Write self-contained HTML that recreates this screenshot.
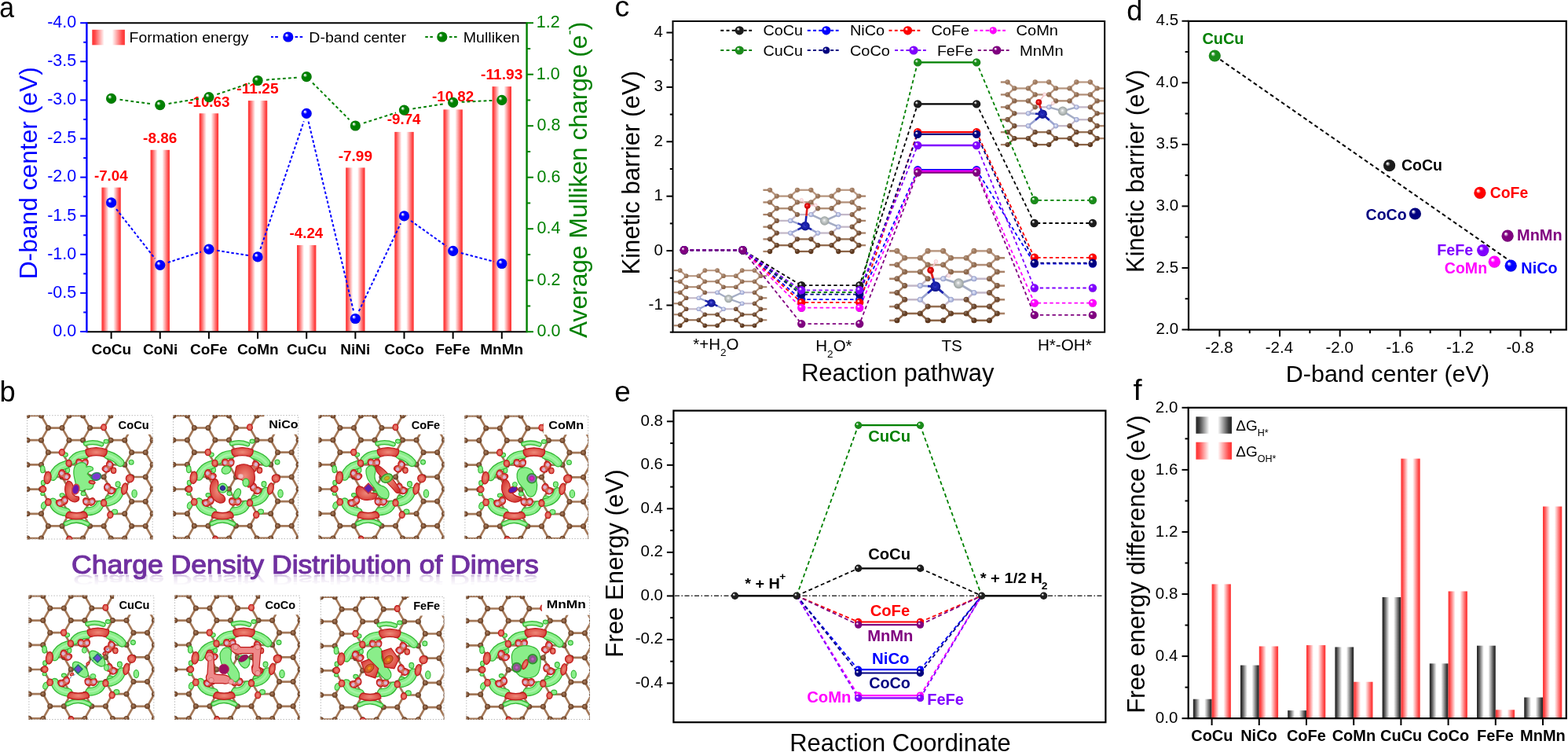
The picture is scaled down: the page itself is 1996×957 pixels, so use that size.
<!DOCTYPE html><html><head><meta charset="utf-8"><title>Figure</title><style>
html,body{margin:0;padding:0;background:#fff;overflow:hidden}
svg{display:block}
text{font-family:'Liberation Sans', Arial, sans-serif}
</style></head><body>
<svg width="1996" height="957" viewBox="0 0 1996 957">
<defs><linearGradient id="gred" x1="0" y1="0" x2="1" y2="0"><stop offset="0" stop-color="#ff3434"/><stop offset="0.08" stop-color="#ff4646"/><stop offset="0.37" stop-color="#ffffff"/><stop offset="0.61" stop-color="#ffffff"/><stop offset="0.92" stop-color="#ff4646"/><stop offset="1" stop-color="#ff3434"/></linearGradient><linearGradient id="gblk" x1="0" y1="0" x2="1" y2="0"><stop offset="0" stop-color="#262626"/><stop offset="0.08" stop-color="#383838"/><stop offset="0.37" stop-color="#ffffff"/><stop offset="0.61" stop-color="#ffffff"/><stop offset="0.92" stop-color="#383838"/><stop offset="1" stop-color="#262626"/></linearGradient><radialGradient id="sp0000ff" cx="0.5" cy="0.5" r="0.55" fx="0.32" fy="0.3"><stop offset="0" stop-color="#ffffff"/><stop offset="0.12" stop-color="#d8d8ff"/><stop offset="0.35" stop-color="#0000ff"/><stop offset="0.85" stop-color="#0000ff"/><stop offset="1" stop-color="#00008c"/></radialGradient><radialGradient id="sp008000" cx="0.5" cy="0.5" r="0.55" fx="0.32" fy="0.3"><stop offset="0" stop-color="#ffffff"/><stop offset="0.12" stop-color="#d8ebd8"/><stop offset="0.35" stop-color="#008000"/><stop offset="0.85" stop-color="#008000"/><stop offset="1" stop-color="#004600"/></radialGradient><radialGradient id="atC" cx="0.5" cy="0.5" r="0.5" fx="0.35" fy="0.32"><stop offset="0" stop-color="#b89478"/><stop offset="0.6" stop-color="#80573a"/><stop offset="1" stop-color="#5e3a22"/></radialGradient><radialGradient id="atN" cx="0.5" cy="0.5" r="0.5" fx="0.4" fy="0.4"><stop offset="0" stop-color="#eef0fa"/><stop offset="0.6" stop-color="#b7bfe2"/><stop offset="1" stop-color="#8e98c8"/></radialGradient><radialGradient id="atGr" cx="0.5" cy="0.5" r="0.5" fx="0.45" fy="0.42"><stop offset="0" stop-color="#ffffff"/><stop offset="0.3" stop-color="#cfd3d3"/><stop offset="1" stop-color="#98a09e"/></radialGradient><radialGradient id="atBl" cx="0.5" cy="0.5" r="0.5" fx="0.45" fy="0.42"><stop offset="0" stop-color="#6c74e0"/><stop offset="0.35" stop-color="#2228b8"/><stop offset="1" stop-color="#10168a"/></radialGradient><radialGradient id="atO" cx="0.5" cy="0.5" r="0.5" fx="0.4" fy="0.4"><stop offset="0" stop-color="#ff9090"/><stop offset="0.4" stop-color="#ee1010"/><stop offset="1" stop-color="#c00000"/></radialGradient><radialGradient id="sp1c1c1c" cx="0.5" cy="0.5" r="0.55" fx="0.32" fy="0.3"><stop offset="0" stop-color="#ffffff"/><stop offset="0.12" stop-color="#dcdcdc"/><stop offset="0.35" stop-color="#1c1c1c"/><stop offset="0.85" stop-color="#1c1c1c"/><stop offset="1" stop-color="#0f0f0f"/></radialGradient><radialGradient id="spff0000" cx="0.5" cy="0.5" r="0.55" fx="0.32" fy="0.3"><stop offset="0" stop-color="#ffffff"/><stop offset="0.12" stop-color="#ffd8d8"/><stop offset="0.35" stop-color="#ff0000"/><stop offset="0.85" stop-color="#ff0000"/><stop offset="1" stop-color="#8c0000"/></radialGradient><radialGradient id="spff00ff" cx="0.5" cy="0.5" r="0.55" fx="0.32" fy="0.3"><stop offset="0" stop-color="#ffffff"/><stop offset="0.12" stop-color="#ffd8ff"/><stop offset="0.35" stop-color="#ff00ff"/><stop offset="0.85" stop-color="#ff00ff"/><stop offset="1" stop-color="#8c008c"/></radialGradient><radialGradient id="sp1a8c1a" cx="0.5" cy="0.5" r="0.55" fx="0.32" fy="0.3"><stop offset="0" stop-color="#ffffff"/><stop offset="0.12" stop-color="#dceddc"/><stop offset="0.35" stop-color="#1a8c1a"/><stop offset="0.85" stop-color="#1a8c1a"/><stop offset="1" stop-color="#0e4d0e"/></radialGradient><radialGradient id="sp000080" cx="0.5" cy="0.5" r="0.55" fx="0.32" fy="0.3"><stop offset="0" stop-color="#ffffff"/><stop offset="0.12" stop-color="#d8d8eb"/><stop offset="0.35" stop-color="#000080"/><stop offset="0.85" stop-color="#000080"/><stop offset="1" stop-color="#000046"/></radialGradient><radialGradient id="sp8000ff" cx="0.5" cy="0.5" r="0.55" fx="0.32" fy="0.3"><stop offset="0" stop-color="#ffffff"/><stop offset="0.12" stop-color="#ebd8ff"/><stop offset="0.35" stop-color="#8000ff"/><stop offset="0.85" stop-color="#8000ff"/><stop offset="1" stop-color="#46008c"/></radialGradient><radialGradient id="sp800080" cx="0.5" cy="0.5" r="0.55" fx="0.32" fy="0.3"><stop offset="0" stop-color="#ffffff"/><stop offset="0.12" stop-color="#ebd8eb"/><stop offset="0.35" stop-color="#800080"/><stop offset="0.85" stop-color="#800080"/><stop offset="1" stop-color="#460046"/></radialGradient><radialGradient id="sp202020" cx="0.5" cy="0.5" r="0.55" fx="0.32" fy="0.3"><stop offset="0" stop-color="#ffffff"/><stop offset="0.12" stop-color="#dddddd"/><stop offset="0.35" stop-color="#202020"/><stop offset="0.85" stop-color="#202020"/><stop offset="1" stop-color="#111111"/></radialGradient><radialGradient id="redg" cx="0.5" cy="0.5" r="0.6"><stop offset="0" stop-color="#ee8a7a"/><stop offset="0.6" stop-color="#e05a50"/><stop offset="1" stop-color="#d03030"/></radialGradient><radialGradient id="atC2" cx="0.5" cy="0.5" r="0.5" fx="0.4" fy="0.38"><stop offset="0" stop-color="#b48a6a"/><stop offset="0.55" stop-color="#84573a"/><stop offset="1" stop-color="#623c22"/></radialGradient><clipPath id="clip_CoCu"><rect x="0" y="0" width="160.6" height="158.3"/></clipPath><clipPath id="clip_NiCo"><rect x="0" y="0" width="160" height="158"/></clipPath><clipPath id="clip_CoFe"><rect x="0" y="0" width="160" height="158"/></clipPath><clipPath id="clip_CoMn"><rect x="0" y="0" width="157.7" height="157.5"/></clipPath><clipPath id="clip_CuCu"><rect x="0" y="0" width="159.9" height="158.4"/></clipPath><clipPath id="clip_CoCo"><rect x="0" y="0" width="160" height="158.4"/></clipPath><clipPath id="clip_FeFe"><rect x="0" y="0" width="157.7" height="157.1"/></clipPath><clipPath id="clip_MnMn"><rect x="0" y="0" width="157.7" height="157.9"/></clipPath><linearGradient id="reflg" x1="0" y1="0" x2="0" y2="1"><stop offset="0" stop-color="#fff" stop-opacity="0.55"/><stop offset="1" stop-color="#fff" stop-opacity="1"/></linearGradient></defs>
<rect width="1996" height="957" fill="#fff"/>
<text x="-0.84" y="22.4" font-size="36" fill="#000" text-anchor="start" font-weight="normal" textLength="18.79" lengthAdjust="spacingAndGlyphs">a</text>
<rect x="129.4" y="238.6" width="24.4" height="183.6" fill="url(#gred)"/>
<rect x="191.55" y="190.8" width="24.4" height="231.4" fill="url(#gred)"/>
<rect x="253.7" y="144.3" width="24.4" height="277.9" fill="url(#gred)"/>
<rect x="315.85" y="128.1" width="24.4" height="294.1" fill="url(#gred)"/>
<rect x="378" y="312" width="24.4" height="110.2" fill="url(#gred)"/>
<rect x="440.15" y="213.4" width="24.4" height="208.8" fill="url(#gred)"/>
<rect x="502.3" y="167.9" width="24.4" height="254.3" fill="url(#gred)"/>
<rect x="564.45" y="139.4" width="24.4" height="282.8" fill="url(#gred)"/>
<rect x="626.6" y="110.1" width="24.4" height="312.1" fill="url(#gred)"/>
<line x1="110.4" y1="29.2" x2="670.6" y2="29.2" stroke="#000" stroke-width="2" stroke-linecap="butt"/>
<line x1="110.4" y1="422.2" x2="670.6" y2="422.2" stroke="#000" stroke-width="2" stroke-linecap="butt"/>
<line x1="110.4" y1="28.2" x2="110.4" y2="423.2" stroke="#0000ff" stroke-width="2.4" stroke-linecap="butt"/>
<line x1="670.6" y1="28.2" x2="670.6" y2="423.2" stroke="#008000" stroke-width="2.4" stroke-linecap="butt"/>
<line x1="102.2" y1="29.2" x2="110.4" y2="29.2" stroke="#0000ff" stroke-width="2" stroke-linecap="butt"/>
<text x="60.15" y="35" font-size="21.5" fill="#0000ff" text-anchor="start" font-weight="normal">-4.0</text>
<line x1="106.2" y1="53.75" x2="110.4" y2="53.75" stroke="#0000ff" stroke-width="2" stroke-linecap="butt"/>
<line x1="102.2" y1="78.3" x2="110.4" y2="78.3" stroke="#0000ff" stroke-width="2" stroke-linecap="butt"/>
<text x="60.15" y="84.1" font-size="21.5" fill="#0000ff" text-anchor="start" font-weight="normal">-3.5</text>
<line x1="106.2" y1="102.85" x2="110.4" y2="102.85" stroke="#0000ff" stroke-width="2" stroke-linecap="butt"/>
<line x1="102.2" y1="127.4" x2="110.4" y2="127.4" stroke="#0000ff" stroke-width="2" stroke-linecap="butt"/>
<text x="60.15" y="133.2" font-size="21.5" fill="#0000ff" text-anchor="start" font-weight="normal">-3.0</text>
<line x1="106.2" y1="151.95" x2="110.4" y2="151.95" stroke="#0000ff" stroke-width="2" stroke-linecap="butt"/>
<line x1="102.2" y1="176.5" x2="110.4" y2="176.5" stroke="#0000ff" stroke-width="2" stroke-linecap="butt"/>
<text x="60.15" y="182.3" font-size="21.5" fill="#0000ff" text-anchor="start" font-weight="normal">-2.5</text>
<line x1="106.2" y1="201.05" x2="110.4" y2="201.05" stroke="#0000ff" stroke-width="2" stroke-linecap="butt"/>
<line x1="102.2" y1="225.6" x2="110.4" y2="225.6" stroke="#0000ff" stroke-width="2" stroke-linecap="butt"/>
<text x="60.15" y="231.4" font-size="21.5" fill="#0000ff" text-anchor="start" font-weight="normal">-2.0</text>
<line x1="106.2" y1="250.15" x2="110.4" y2="250.15" stroke="#0000ff" stroke-width="2" stroke-linecap="butt"/>
<line x1="102.2" y1="274.7" x2="110.4" y2="274.7" stroke="#0000ff" stroke-width="2" stroke-linecap="butt"/>
<text x="60.15" y="280.5" font-size="21.5" fill="#0000ff" text-anchor="start" font-weight="normal">-1.5</text>
<line x1="106.2" y1="299.25" x2="110.4" y2="299.25" stroke="#0000ff" stroke-width="2" stroke-linecap="butt"/>
<line x1="102.2" y1="323.8" x2="110.4" y2="323.8" stroke="#0000ff" stroke-width="2" stroke-linecap="butt"/>
<text x="60.15" y="329.6" font-size="21.5" fill="#0000ff" text-anchor="start" font-weight="normal">-1.0</text>
<line x1="106.2" y1="348.35" x2="110.4" y2="348.35" stroke="#0000ff" stroke-width="2" stroke-linecap="butt"/>
<line x1="102.2" y1="372.9" x2="110.4" y2="372.9" stroke="#0000ff" stroke-width="2" stroke-linecap="butt"/>
<text x="60.15" y="378.7" font-size="21.5" fill="#0000ff" text-anchor="start" font-weight="normal">-0.5</text>
<line x1="106.2" y1="397.45" x2="110.4" y2="397.45" stroke="#0000ff" stroke-width="2" stroke-linecap="butt"/>
<line x1="102.2" y1="422" x2="110.4" y2="422" stroke="#0000ff" stroke-width="2" stroke-linecap="butt"/>
<text x="67.31" y="427.8" font-size="21.5" fill="#0000ff" text-anchor="start" font-weight="normal">0.0</text>
<line x1="670.6" y1="29.2" x2="679" y2="29.2" stroke="#008000" stroke-width="2" stroke-linecap="butt"/>
<text x="682.79" y="35.1" font-size="21.5" fill="#008000" text-anchor="start" font-weight="normal">1.2</text>
<line x1="670.6" y1="61.95" x2="675.2" y2="61.95" stroke="#008000" stroke-width="2" stroke-linecap="butt"/>
<line x1="670.6" y1="94.7" x2="679" y2="94.7" stroke="#008000" stroke-width="2" stroke-linecap="butt"/>
<text x="682.79" y="100.6" font-size="21.5" fill="#008000" text-anchor="start" font-weight="normal">1.0</text>
<line x1="670.6" y1="127.45" x2="675.2" y2="127.45" stroke="#008000" stroke-width="2" stroke-linecap="butt"/>
<line x1="670.6" y1="160.2" x2="679" y2="160.2" stroke="#008000" stroke-width="2" stroke-linecap="butt"/>
<text x="683.54" y="166.1" font-size="21.5" fill="#008000" text-anchor="start" font-weight="normal">0.8</text>
<line x1="670.6" y1="192.95" x2="675.2" y2="192.95" stroke="#008000" stroke-width="2" stroke-linecap="butt"/>
<line x1="670.6" y1="225.7" x2="679" y2="225.7" stroke="#008000" stroke-width="2" stroke-linecap="butt"/>
<text x="683.54" y="231.6" font-size="21.5" fill="#008000" text-anchor="start" font-weight="normal">0.6</text>
<line x1="670.6" y1="258.45" x2="675.2" y2="258.45" stroke="#008000" stroke-width="2" stroke-linecap="butt"/>
<line x1="670.6" y1="291.2" x2="679" y2="291.2" stroke="#008000" stroke-width="2" stroke-linecap="butt"/>
<text x="683.54" y="297.1" font-size="21.5" fill="#008000" text-anchor="start" font-weight="normal">0.4</text>
<line x1="670.6" y1="323.95" x2="675.2" y2="323.95" stroke="#008000" stroke-width="2" stroke-linecap="butt"/>
<line x1="670.6" y1="356.7" x2="679" y2="356.7" stroke="#008000" stroke-width="2" stroke-linecap="butt"/>
<text x="683.54" y="362.6" font-size="21.5" fill="#008000" text-anchor="start" font-weight="normal">0.2</text>
<line x1="670.6" y1="389.45" x2="675.2" y2="389.45" stroke="#008000" stroke-width="2" stroke-linecap="butt"/>
<line x1="670.6" y1="422.2" x2="679" y2="422.2" stroke="#008000" stroke-width="2" stroke-linecap="butt"/>
<text x="683.54" y="428.1" font-size="21.5" fill="#008000" text-anchor="start" font-weight="normal">0.0</text>
<line x1="141.6" y1="422.2" x2="141.6" y2="431.2" stroke="#000" stroke-width="2" stroke-linecap="butt"/>
<text x="116.52" y="450.8" font-size="19" fill="#000" text-anchor="start" font-weight="bold">CoCu</text>
<line x1="203.75" y1="422.2" x2="203.75" y2="431.2" stroke="#000" stroke-width="2" stroke-linecap="butt"/>
<text x="181.88" y="450.8" font-size="19" fill="#000" text-anchor="start" font-weight="bold">CoNi</text>
<line x1="265.9" y1="422.2" x2="265.9" y2="431.2" stroke="#000" stroke-width="2" stroke-linecap="butt"/>
<text x="242.08" y="450.8" font-size="19" fill="#000" text-anchor="start" font-weight="bold">CoFe</text>
<line x1="328.05" y1="422.2" x2="328.05" y2="431.2" stroke="#000" stroke-width="2" stroke-linecap="butt"/>
<text x="301.88" y="450.8" font-size="19" fill="#000" text-anchor="start" font-weight="bold">CoMn</text>
<line x1="390.2" y1="422.2" x2="390.2" y2="431.2" stroke="#000" stroke-width="2" stroke-linecap="butt"/>
<text x="365.12" y="450.8" font-size="19" fill="#000" text-anchor="start" font-weight="bold">CuCu</text>
<line x1="452.35" y1="422.2" x2="452.35" y2="431.2" stroke="#000" stroke-width="2" stroke-linecap="butt"/>
<text x="433.37" y="450.8" font-size="19" fill="#000" text-anchor="start" font-weight="bold">NiNi</text>
<line x1="514.5" y1="422.2" x2="514.5" y2="431.2" stroke="#000" stroke-width="2" stroke-linecap="butt"/>
<text x="489.16" y="450.8" font-size="19" fill="#000" text-anchor="start" font-weight="bold">CoCo</text>
<line x1="576.65" y1="422.2" x2="576.65" y2="431.2" stroke="#000" stroke-width="2" stroke-linecap="butt"/>
<text x="554.16" y="450.8" font-size="19" fill="#000" text-anchor="start" font-weight="bold">FeFe</text>
<line x1="638.8" y1="422.2" x2="638.8" y2="431.2" stroke="#000" stroke-width="2" stroke-linecap="butt"/>
<text x="611.3" y="450.8" font-size="19" fill="#000" text-anchor="start" font-weight="bold">MnMn</text>
<text x="119.95" y="229.8" font-size="18.5" fill="#ff0000" text-anchor="start" font-weight="bold" textLength="42.68" lengthAdjust="spacingAndGlyphs">-7.04</text>
<text x="182.09" y="182.2" font-size="18.5" fill="#ff0000" text-anchor="start" font-weight="bold" textLength="43.26" lengthAdjust="spacingAndGlyphs">-8.86</text>
<text x="239.2" y="135.6" font-size="18.5" fill="#ff0000" text-anchor="start" font-weight="bold" textLength="53.32" lengthAdjust="spacingAndGlyphs">-10.63</text>
<text x="301.33" y="119.1" font-size="18.5" fill="#ff0000" text-anchor="start" font-weight="bold" textLength="53.2" lengthAdjust="spacingAndGlyphs">-11.25</text>
<text x="368.55" y="302.9" font-size="18.5" fill="#ff0000" text-anchor="start" font-weight="bold" textLength="42.68" lengthAdjust="spacingAndGlyphs">-4.24</text>
<text x="430.69" y="204.8" font-size="18.5" fill="#ff0000" text-anchor="start" font-weight="bold" textLength="43.26" lengthAdjust="spacingAndGlyphs">-7.99</text>
<text x="492.85" y="158.2" font-size="18.5" fill="#ff0000" text-anchor="start" font-weight="bold" textLength="42.68" lengthAdjust="spacingAndGlyphs">-9.74</text>
<text x="549.95" y="128.8" font-size="18.5" fill="#ff0000" text-anchor="start" font-weight="bold" textLength="53.37" lengthAdjust="spacingAndGlyphs">-10.82</text>
<text x="612.08" y="101" font-size="18.5" fill="#ff0000" text-anchor="start" font-weight="bold" textLength="53.35" lengthAdjust="spacingAndGlyphs">-11.93</text>
<line x1="148.07" y1="266.17" x2="197.28" y2="329.03" stroke="#0000ff" stroke-width="2" stroke-linecap="butt" stroke-dasharray="3.5 2.6"/>
<line x1="213.74" y1="334.07" x2="255.91" y2="320.43" stroke="#0000ff" stroke-width="2" stroke-linecap="butt" stroke-dasharray="3.5 2.6"/>
<line x1="276.27" y1="318.82" x2="317.68" y2="325.28" stroke="#0000ff" stroke-width="2" stroke-linecap="butt" stroke-dasharray="3.5 2.6"/>
<line x1="331.43" y1="316.96" x2="386.82" y2="154.34" stroke="#0000ff" stroke-width="2" stroke-linecap="butt" stroke-dasharray="3.5 2.6"/>
<line x1="392.63" y1="154.61" x2="449.92" y2="395.29" stroke="#0000ff" stroke-width="2" stroke-linecap="butt" stroke-dasharray="3.5 2.6"/>
<line x1="456.86" y1="396.02" x2="509.99" y2="284.38" stroke="#0000ff" stroke-width="2" stroke-linecap="butt" stroke-dasharray="3.5 2.6"/>
<line x1="523.04" y1="281" x2="568.11" y2="313.2" stroke="#0000ff" stroke-width="2" stroke-linecap="butt" stroke-dasharray="3.5 2.6"/>
<line x1="586.81" y1="321.95" x2="628.64" y2="332.85" stroke="#0000ff" stroke-width="2" stroke-linecap="butt" stroke-dasharray="3.5 2.6"/>
<line x1="152.5" y1="126.86" x2="192.85" y2="132.24" stroke="#008000" stroke-width="2" stroke-linecap="butt" stroke-dasharray="3.8 3.2"/>
<line x1="214.61" y1="131.94" x2="255.04" y2="125.36" stroke="#008000" stroke-width="2" stroke-linecap="butt" stroke-dasharray="3.8 3.2"/>
<line x1="276.32" y1="120.06" x2="317.63" y2="106.04" stroke="#008000" stroke-width="2" stroke-linecap="butt" stroke-dasharray="3.8 3.2"/>
<line x1="339.02" y1="101.65" x2="379.23" y2="98.55" stroke="#008000" stroke-width="2" stroke-linecap="butt" stroke-dasharray="3.8 3.2"/>
<line x1="397.97" y1="105.49" x2="444.58" y2="152.21" stroke="#008000" stroke-width="2" stroke-linecap="butt" stroke-dasharray="3.8 3.2"/>
<line x1="462.83" y1="156.65" x2="504.02" y2="143.45" stroke="#008000" stroke-width="2" stroke-linecap="butt" stroke-dasharray="3.8 3.2"/>
<line x1="525.37" y1="138.4" x2="565.78" y2="132.1" stroke="#008000" stroke-width="2" stroke-linecap="butt" stroke-dasharray="3.8 3.2"/>
<line x1="587.64" y1="129.85" x2="627.81" y2="127.85" stroke="#008000" stroke-width="2" stroke-linecap="butt" stroke-dasharray="3.8 3.2"/>
<circle cx="141.6" cy="257.9" r="6.6" fill="url(#sp0000ff)"/>
<circle cx="203.75" cy="337.3" r="6.6" fill="url(#sp0000ff)"/>
<circle cx="265.9" cy="317.2" r="6.6" fill="url(#sp0000ff)"/>
<circle cx="328.05" cy="326.9" r="6.6" fill="url(#sp0000ff)"/>
<circle cx="390.2" cy="144.4" r="6.6" fill="url(#sp0000ff)"/>
<circle cx="452.35" cy="405.5" r="6.6" fill="url(#sp0000ff)"/>
<circle cx="514.5" cy="274.9" r="6.6" fill="url(#sp0000ff)"/>
<circle cx="576.65" cy="319.3" r="6.6" fill="url(#sp0000ff)"/>
<circle cx="638.8" cy="335.5" r="6.6" fill="url(#sp0000ff)"/>
<circle cx="141.6" cy="125.4" r="6.6" fill="url(#sp008000)"/>
<circle cx="203.75" cy="133.7" r="6.6" fill="url(#sp008000)"/>
<circle cx="265.9" cy="123.6" r="6.6" fill="url(#sp008000)"/>
<circle cx="328.05" cy="102.5" r="6.6" fill="url(#sp008000)"/>
<circle cx="390.2" cy="97.7" r="6.6" fill="url(#sp008000)"/>
<circle cx="452.35" cy="160" r="6.6" fill="url(#sp008000)"/>
<circle cx="514.5" cy="140.1" r="6.6" fill="url(#sp008000)"/>
<circle cx="576.65" cy="130.4" r="6.6" fill="url(#sp008000)"/>
<circle cx="638.8" cy="127.3" r="6.6" fill="url(#sp008000)"/>
<text transform="translate(46.9 355.32) rotate(-90)" x="0" y="0" font-size="32" fill="#0000ff" text-anchor="start" font-weight="normal" textLength="270.08" lengthAdjust="spacingAndGlyphs">D-band center (eV)</text>
<text transform="translate(746.6 429.98) rotate(-90)" x="0" y="0" font-size="32" fill="#008000" text-anchor="start" font-weight="normal" textLength="402.31" lengthAdjust="spacingAndGlyphs">Average Mulliken charge (e<tspan dy="-16" font-size="19">-</tspan><tspan dy="16">)</tspan></text>
<rect x="117.3" y="37.8" width="41.6" height="19.5" fill="url(#gred)"/>
<text x="164.6" y="54" font-size="18.7" fill="#000" text-anchor="start" font-weight="normal" textLength="151.84" lengthAdjust="spacingAndGlyphs">Formation energy</text>
<line x1="345" y1="47" x2="347.9" y2="47" stroke="#0000ff" stroke-width="2" stroke-linecap="butt"/>
<line x1="350.2" y1="47" x2="353.9" y2="47" stroke="#0000ff" stroke-width="2" stroke-linecap="butt"/>
<line x1="375.6" y1="47" x2="379.1" y2="47" stroke="#0000ff" stroke-width="2" stroke-linecap="butt"/>
<line x1="381.7" y1="47" x2="385.2" y2="47" stroke="#0000ff" stroke-width="2" stroke-linecap="butt"/>
<circle cx="366.8" cy="47" r="6.6" fill="url(#sp0000ff)"/>
<text x="393.29" y="53.6" font-size="18.7" fill="#000" text-anchor="start" font-weight="normal" textLength="123.7" lengthAdjust="spacingAndGlyphs">D-band center</text>
<line x1="541.3" y1="47" x2="544.8" y2="47" stroke="#008000" stroke-width="2" stroke-linecap="butt"/>
<line x1="547.4" y1="47" x2="550.9" y2="47" stroke="#008000" stroke-width="2" stroke-linecap="butt"/>
<line x1="572" y1="47" x2="575.5" y2="47" stroke="#008000" stroke-width="2" stroke-linecap="butt"/>
<line x1="578.1" y1="47" x2="581.6" y2="47" stroke="#008000" stroke-width="2" stroke-linecap="butt"/>
<circle cx="562.8" cy="47" r="6.6" fill="url(#sp008000)"/>
<text x="589.68" y="53.6" font-size="18.7" fill="#000" text-anchor="start" font-weight="normal" textLength="72.06" lengthAdjust="spacingAndGlyphs">Mulliken</text>
<text x="782.41" y="20.5" font-size="36" fill="#000" text-anchor="start" font-weight="normal" textLength="18.72" lengthAdjust="spacingAndGlyphs">c</text>
<g><line x1="857.8" y1="344.2" x2="865.7" y2="344.2" stroke="#a98369" stroke-width="2.05"/><line x1="968.4" y1="351.21" x2="976.3" y2="351.21" stroke="#a98369" stroke-width="2.05"/><line x1="857.8" y1="358.22" x2="865.7" y2="358.22" stroke="#a98369" stroke-width="2.05"/><line x1="968.4" y1="365.23" x2="976.3" y2="365.23" stroke="#a98369" stroke-width="2.05"/><line x1="857.8" y1="372.24" x2="865.7" y2="372.24" stroke="#a98369" stroke-width="2.05"/><line x1="968.4" y1="379.25" x2="976.3" y2="379.25" stroke="#a98369" stroke-width="2.05"/><line x1="857.8" y1="386.26" x2="865.7" y2="386.26" stroke="#a98369" stroke-width="2.05"/><line x1="968.4" y1="393.27" x2="976.3" y2="393.27" stroke="#a98369" stroke-width="2.05"/><line x1="857.8" y1="400.28" x2="865.7" y2="400.28" stroke="#a98369" stroke-width="2.05"/><line x1="968.4" y1="407.29" x2="976.3" y2="407.29" stroke="#a98369" stroke-width="2.05"/><line x1="857.8" y1="414.3" x2="865.7" y2="414.3" stroke="#a98369" stroke-width="2.05"/><line x1="897.3" y1="344.2" x2="913.1" y2="344.2" stroke="#bb9a84" stroke-width="2.05"/><line x1="944.7" y1="344.2" x2="960.5" y2="344.2" stroke="#bb9a84" stroke-width="2.05"/><line x1="865.7" y1="344.2" x2="873.6" y2="351.21" stroke="#b99781" stroke-width="2.05"/><line x1="897.3" y1="344.2" x2="889.4" y2="351.21" stroke="#b99781" stroke-width="2.05"/><line x1="913.1" y1="344.2" x2="921" y2="351.21" stroke="#b99781" stroke-width="2.05"/><line x1="944.7" y1="344.2" x2="936.8" y2="351.21" stroke="#b99781" stroke-width="2.05"/><line x1="960.5" y1="344.2" x2="968.4" y2="351.21" stroke="#b99781" stroke-width="2.05"/><line x1="873.6" y1="351.21" x2="889.4" y2="351.21" stroke="#b6957e" stroke-width="2.05"/><line x1="921" y1="351.21" x2="936.8" y2="351.21" stroke="#b6957e" stroke-width="2.05"/><line x1="873.6" y1="351.21" x2="865.7" y2="358.22" stroke="#b4927b" stroke-width="2.05"/><line x1="889.4" y1="351.21" x2="897.3" y2="358.22" stroke="#b4927b" stroke-width="2.05"/><line x1="921" y1="351.21" x2="913.1" y2="358.22" stroke="#b4927b" stroke-width="2.05"/><line x1="936.8" y1="351.21" x2="944.7" y2="358.22" stroke="#b4927b" stroke-width="2.05"/><line x1="968.4" y1="351.21" x2="960.5" y2="358.22" stroke="#b4927b" stroke-width="2.05"/><line x1="897.3" y1="358.22" x2="913.1" y2="358.22" stroke="#b28f78" stroke-width="2.05"/><line x1="944.7" y1="358.22" x2="960.5" y2="358.22" stroke="#b28f78" stroke-width="2.05"/><line x1="865.7" y1="358.22" x2="873.6" y2="365.23" stroke="#af8c74" stroke-width="2.05"/><line x1="897.3" y1="358.22" x2="889.4" y2="365.23" stroke="#af8c74" stroke-width="2.05"/><line x1="913.1" y1="358.22" x2="921" y2="365.23" stroke="#af8c74" stroke-width="2.05"/><line x1="944.7" y1="358.22" x2="936.8" y2="365.23" stroke="#af8c74" stroke-width="2.05"/><line x1="960.5" y1="358.22" x2="968.4" y2="365.23" stroke="#af8c74" stroke-width="2.05"/><line x1="873.6" y1="365.23" x2="889.4" y2="365.23" stroke="#ad8a71" stroke-width="2.05"/><line x1="921" y1="365.23" x2="936.8" y2="365.23" stroke="#ad8a71" stroke-width="2.05"/><line x1="873.6" y1="365.23" x2="865.7" y2="372.24" stroke="#ab876e" stroke-width="2.05"/><line x1="889.4" y1="365.23" x2="897.3" y2="372.24" stroke="#ab876e" stroke-width="2.05"/><line x1="921" y1="365.23" x2="913.1" y2="372.24" stroke="#c3b8c8" stroke-width="2.05"/><line x1="936.8" y1="365.23" x2="944.7" y2="372.24" stroke="#c3b8c8" stroke-width="2.05"/><line x1="968.4" y1="365.23" x2="960.5" y2="372.24" stroke="#ab876e" stroke-width="2.05"/><line x1="897.3" y1="372.24" x2="913.1" y2="372.24" stroke="#c3b8c8" stroke-width="2.05"/><line x1="944.7" y1="372.24" x2="960.5" y2="372.24" stroke="#c3b8c8" stroke-width="2.05"/><line x1="865.7" y1="372.24" x2="873.6" y2="379.25" stroke="#a68268" stroke-width="2.05"/><line x1="897.3" y1="372.24" x2="889.4" y2="379.25" stroke="#c3b8c8" stroke-width="2.05"/><line x1="960.5" y1="372.24" x2="968.4" y2="379.25" stroke="#a68268" stroke-width="2.05"/><line x1="873.6" y1="379.25" x2="889.4" y2="379.25" stroke="#c3b8c8" stroke-width="2.05"/><line x1="873.6" y1="379.25" x2="865.7" y2="386.26" stroke="#a17c62" stroke-width="2.05"/><line x1="968.4" y1="379.25" x2="960.5" y2="386.26" stroke="#a17c62" stroke-width="2.05"/><line x1="944.7" y1="386.26" x2="960.5" y2="386.26" stroke="#c3b8c8" stroke-width="2.05"/><line x1="865.7" y1="386.26" x2="873.6" y2="393.27" stroke="#9c775c" stroke-width="2.05"/><line x1="944.7" y1="386.26" x2="936.8" y2="393.27" stroke="#c3b8c8" stroke-width="2.05"/><line x1="960.5" y1="386.26" x2="968.4" y2="393.27" stroke="#9c775c" stroke-width="2.05"/><line x1="873.6" y1="393.27" x2="889.4" y2="393.27" stroke="#c3b8c8" stroke-width="2.05"/><line x1="921" y1="393.27" x2="936.8" y2="393.27" stroke="#c3b8c8" stroke-width="2.05"/><line x1="873.6" y1="393.27" x2="865.7" y2="400.28" stroke="#987256" stroke-width="2.05"/><line x1="889.4" y1="393.27" x2="897.3" y2="400.28" stroke="#c3b8c8" stroke-width="2.05"/><line x1="921" y1="393.27" x2="913.1" y2="400.28" stroke="#c3b8c8" stroke-width="2.05"/><line x1="936.8" y1="393.27" x2="944.7" y2="400.28" stroke="#987256" stroke-width="2.05"/><line x1="968.4" y1="393.27" x2="960.5" y2="400.28" stroke="#987256" stroke-width="2.05"/><line x1="897.3" y1="400.28" x2="913.1" y2="400.28" stroke="#956f52" stroke-width="2.05"/><line x1="944.7" y1="400.28" x2="960.5" y2="400.28" stroke="#956f52" stroke-width="2.05"/><line x1="865.7" y1="400.28" x2="873.6" y2="407.29" stroke="#936c4f" stroke-width="2.05"/><line x1="897.3" y1="400.28" x2="889.4" y2="407.29" stroke="#936c4f" stroke-width="2.05"/><line x1="913.1" y1="400.28" x2="921" y2="407.29" stroke="#936c4f" stroke-width="2.05"/><line x1="944.7" y1="400.28" x2="936.8" y2="407.29" stroke="#936c4f" stroke-width="2.05"/><line x1="960.5" y1="400.28" x2="968.4" y2="407.29" stroke="#936c4f" stroke-width="2.05"/><line x1="873.6" y1="407.29" x2="889.4" y2="407.29" stroke="#91694c" stroke-width="2.05"/><line x1="921" y1="407.29" x2="936.8" y2="407.29" stroke="#91694c" stroke-width="2.05"/><line x1="873.6" y1="407.29" x2="865.7" y2="414.3" stroke="#8e6749" stroke-width="2.05"/><line x1="889.4" y1="407.29" x2="897.3" y2="414.3" stroke="#8e6749" stroke-width="2.05"/><line x1="921" y1="407.29" x2="913.1" y2="414.3" stroke="#8e6749" stroke-width="2.05"/><line x1="936.8" y1="407.29" x2="944.7" y2="414.3" stroke="#8e6749" stroke-width="2.05"/><line x1="968.4" y1="407.29" x2="960.5" y2="414.3" stroke="#8e6749" stroke-width="2.05"/><line x1="897.3" y1="414.3" x2="913.1" y2="414.3" stroke="#8c6446" stroke-width="2.05"/><line x1="944.7" y1="414.3" x2="960.5" y2="414.3" stroke="#8c6446" stroke-width="2.05"/><line x1="905.6" y1="385.6" x2="889.4" y2="379.25" stroke="#9aa3cf" stroke-width="2.26"/><line x1="905.6" y1="385.6" x2="897.5" y2="382.43" stroke="#1a22b0" stroke-width="2.26"/><line x1="905.6" y1="385.6" x2="889.4" y2="393.27" stroke="#9aa3cf" stroke-width="2.26"/><line x1="905.6" y1="385.6" x2="897.5" y2="389.44" stroke="#1a22b0" stroke-width="2.26"/><line x1="905.6" y1="385.6" x2="921" y2="393.27" stroke="#9aa3cf" stroke-width="2.26"/><line x1="905.6" y1="385.6" x2="913.3" y2="389.44" stroke="#1a22b0" stroke-width="2.26"/><line x1="927.4" y1="380.1" x2="913.1" y2="372.24" stroke="#a4acc4" stroke-width="2.26"/><line x1="927.4" y1="380.1" x2="944.7" y2="372.24" stroke="#a4acc4" stroke-width="2.26"/><line x1="927.4" y1="380.1" x2="944.7" y2="386.26" stroke="#a4acc4" stroke-width="2.26"/><circle cx="865.7" cy="344.2" r="2.84" fill="#a07a5e"/><circle cx="864.85" cy="343.35" r="1.28" fill="#fff" opacity="0.22"/><circle cx="897.3" cy="344.2" r="2.84" fill="#a07a5e"/><circle cx="896.45" cy="343.35" r="1.28" fill="#fff" opacity="0.22"/><circle cx="913.1" cy="344.2" r="2.84" fill="#a07a5e"/><circle cx="912.25" cy="343.35" r="1.28" fill="#fff" opacity="0.22"/><circle cx="944.7" cy="344.2" r="2.84" fill="#a07a5e"/><circle cx="943.85" cy="343.35" r="1.28" fill="#fff" opacity="0.22"/><circle cx="960.5" cy="344.2" r="2.84" fill="#a07a5e"/><circle cx="959.65" cy="343.35" r="1.28" fill="#fff" opacity="0.22"/><circle cx="873.6" cy="351.21" r="2.84" fill="#997458"/><circle cx="872.75" cy="350.36" r="1.28" fill="#fff" opacity="0.22"/><circle cx="889.4" cy="351.21" r="2.84" fill="#997458"/><circle cx="888.55" cy="350.36" r="1.28" fill="#fff" opacity="0.22"/><circle cx="921" cy="351.21" r="2.84" fill="#997458"/><circle cx="920.15" cy="350.36" r="1.28" fill="#fff" opacity="0.22"/><circle cx="936.8" cy="351.21" r="2.84" fill="#997458"/><circle cx="935.95" cy="350.36" r="1.28" fill="#fff" opacity="0.22"/><circle cx="968.4" cy="351.21" r="2.84" fill="#997458"/><circle cx="967.55" cy="350.36" r="1.28" fill="#fff" opacity="0.22"/><circle cx="865.7" cy="358.22" r="2.84" fill="#936d51"/><circle cx="864.85" cy="357.37" r="1.28" fill="#fff" opacity="0.22"/><circle cx="897.3" cy="358.22" r="2.84" fill="#936d51"/><circle cx="896.45" cy="357.37" r="1.28" fill="#fff" opacity="0.22"/><circle cx="913.1" cy="358.22" r="2.84" fill="#936d51"/><circle cx="912.25" cy="357.37" r="1.28" fill="#fff" opacity="0.22"/><circle cx="944.7" cy="358.22" r="2.84" fill="#936d51"/><circle cx="943.85" cy="357.37" r="1.28" fill="#fff" opacity="0.22"/><circle cx="960.5" cy="358.22" r="2.84" fill="#936d51"/><circle cx="959.65" cy="357.37" r="1.28" fill="#fff" opacity="0.22"/><circle cx="873.6" cy="365.23" r="2.84" fill="#8c664b"/><circle cx="872.75" cy="364.38" r="1.28" fill="#fff" opacity="0.22"/><circle cx="889.4" cy="365.23" r="2.84" fill="#8c664b"/><circle cx="888.55" cy="364.38" r="1.28" fill="#fff" opacity="0.22"/><circle cx="921" cy="365.23" r="2.84" fill="#8c664b"/><circle cx="920.15" cy="364.38" r="1.28" fill="#fff" opacity="0.22"/><circle cx="936.8" cy="365.23" r="2.84" fill="#8c664b"/><circle cx="935.95" cy="364.38" r="1.28" fill="#fff" opacity="0.22"/><circle cx="968.4" cy="365.23" r="2.84" fill="#8c664b"/><circle cx="967.55" cy="364.38" r="1.28" fill="#fff" opacity="0.22"/><circle cx="865.7" cy="372.24" r="2.84" fill="#866045"/><circle cx="864.85" cy="371.39" r="1.28" fill="#fff" opacity="0.22"/><circle cx="897.3" cy="372.24" r="2.84" fill="#866045"/><circle cx="896.45" cy="371.39" r="1.28" fill="#fff" opacity="0.22"/><circle cx="913.1" cy="372.24" r="2.84" fill="url(#atN)"/><circle cx="944.7" cy="372.24" r="2.84" fill="url(#atN)"/><circle cx="960.5" cy="372.24" r="2.84" fill="#866045"/><circle cx="959.65" cy="371.39" r="1.28" fill="#fff" opacity="0.22"/><circle cx="873.6" cy="379.25" r="2.84" fill="#7f593e"/><circle cx="872.75" cy="378.4" r="1.28" fill="#fff" opacity="0.22"/><circle cx="889.4" cy="379.25" r="2.84" fill="url(#atN)"/><circle cx="968.4" cy="379.25" r="2.84" fill="#7f593e"/><circle cx="967.55" cy="378.4" r="1.28" fill="#fff" opacity="0.22"/><circle cx="865.7" cy="386.26" r="2.84" fill="#785338"/><circle cx="864.85" cy="385.41" r="1.28" fill="#fff" opacity="0.22"/><circle cx="944.7" cy="386.26" r="2.84" fill="url(#atN)"/><circle cx="960.5" cy="386.26" r="2.84" fill="#785338"/><circle cx="959.65" cy="385.41" r="1.28" fill="#fff" opacity="0.22"/><circle cx="873.6" cy="393.27" r="2.84" fill="#724c32"/><circle cx="872.75" cy="392.42" r="1.28" fill="#fff" opacity="0.22"/><circle cx="889.4" cy="393.27" r="2.84" fill="url(#atN)"/><circle cx="921" cy="393.27" r="2.84" fill="url(#atN)"/><circle cx="936.8" cy="393.27" r="2.84" fill="#724c32"/><circle cx="935.95" cy="392.42" r="1.28" fill="#fff" opacity="0.22"/><circle cx="968.4" cy="393.27" r="2.84" fill="#724c32"/><circle cx="967.55" cy="392.42" r="1.28" fill="#fff" opacity="0.22"/><circle cx="865.7" cy="400.28" r="2.84" fill="#6b462c"/><circle cx="864.85" cy="399.43" r="1.28" fill="#fff" opacity="0.22"/><circle cx="897.3" cy="400.28" r="2.84" fill="#6b462c"/><circle cx="896.45" cy="399.43" r="1.28" fill="#fff" opacity="0.22"/><circle cx="913.1" cy="400.28" r="2.84" fill="#6b462c"/><circle cx="912.25" cy="399.43" r="1.28" fill="#fff" opacity="0.22"/><circle cx="944.7" cy="400.28" r="2.84" fill="#6b462c"/><circle cx="943.85" cy="399.43" r="1.28" fill="#fff" opacity="0.22"/><circle cx="960.5" cy="400.28" r="2.84" fill="#6b462c"/><circle cx="959.65" cy="399.43" r="1.28" fill="#fff" opacity="0.22"/><circle cx="873.6" cy="407.29" r="2.84" fill="#654025"/><circle cx="872.75" cy="406.44" r="1.28" fill="#fff" opacity="0.22"/><circle cx="889.4" cy="407.29" r="2.84" fill="#654025"/><circle cx="888.55" cy="406.44" r="1.28" fill="#fff" opacity="0.22"/><circle cx="921" cy="407.29" r="2.84" fill="#654025"/><circle cx="920.15" cy="406.44" r="1.28" fill="#fff" opacity="0.22"/><circle cx="936.8" cy="407.29" r="2.84" fill="#654025"/><circle cx="935.95" cy="406.44" r="1.28" fill="#fff" opacity="0.22"/><circle cx="968.4" cy="407.29" r="2.84" fill="#654025"/><circle cx="967.55" cy="406.44" r="1.28" fill="#fff" opacity="0.22"/><circle cx="865.7" cy="414.3" r="2.84" fill="#5e391f"/><circle cx="864.85" cy="413.45" r="1.28" fill="#fff" opacity="0.22"/><circle cx="897.3" cy="414.3" r="2.84" fill="#5e391f"/><circle cx="896.45" cy="413.45" r="1.28" fill="#fff" opacity="0.22"/><circle cx="913.1" cy="414.3" r="2.84" fill="#5e391f"/><circle cx="912.25" cy="413.45" r="1.28" fill="#fff" opacity="0.22"/><circle cx="944.7" cy="414.3" r="2.84" fill="#5e391f"/><circle cx="943.85" cy="413.45" r="1.28" fill="#fff" opacity="0.22"/><circle cx="960.5" cy="414.3" r="2.84" fill="#5e391f"/><circle cx="959.65" cy="413.45" r="1.28" fill="#fff" opacity="0.22"/><circle cx="927.4" cy="380.1" r="5.21" fill="url(#atGr)"/><circle cx="905.6" cy="385.6" r="5.21" fill="url(#atBl)"/></g>
<g><line x1="971.38" y1="241.8" x2="980.1" y2="241.8" stroke="#a98369" stroke-width="2.27"/><line x1="1093.39" y1="249.62" x2="1102.11" y2="249.62" stroke="#a98369" stroke-width="2.27"/><line x1="971.38" y1="257.44" x2="980.1" y2="257.44" stroke="#a98369" stroke-width="2.27"/><line x1="1093.39" y1="265.26" x2="1102.11" y2="265.26" stroke="#a98369" stroke-width="2.27"/><line x1="971.38" y1="273.08" x2="980.1" y2="273.08" stroke="#a98369" stroke-width="2.27"/><line x1="1093.39" y1="280.9" x2="1102.11" y2="280.9" stroke="#a98369" stroke-width="2.27"/><line x1="971.38" y1="288.72" x2="980.1" y2="288.72" stroke="#a98369" stroke-width="2.27"/><line x1="1093.39" y1="296.54" x2="1102.11" y2="296.54" stroke="#a98369" stroke-width="2.27"/><line x1="971.38" y1="304.36" x2="980.1" y2="304.36" stroke="#a98369" stroke-width="2.27"/><line x1="1093.39" y1="312.18" x2="1102.11" y2="312.18" stroke="#a98369" stroke-width="2.27"/><line x1="971.38" y1="320" x2="980.1" y2="320" stroke="#a98369" stroke-width="2.27"/><line x1="1014.96" y1="241.8" x2="1032.39" y2="241.8" stroke="#bb9a84" stroke-width="2.27"/><line x1="1067.25" y1="241.8" x2="1084.68" y2="241.8" stroke="#bb9a84" stroke-width="2.27"/><line x1="980.1" y1="241.8" x2="988.82" y2="249.62" stroke="#b99781" stroke-width="2.27"/><line x1="1014.96" y1="241.8" x2="1006.25" y2="249.62" stroke="#b99781" stroke-width="2.27"/><line x1="1032.39" y1="241.8" x2="1041.11" y2="249.62" stroke="#b99781" stroke-width="2.27"/><line x1="1067.25" y1="241.8" x2="1058.54" y2="249.62" stroke="#b99781" stroke-width="2.27"/><line x1="1084.68" y1="241.8" x2="1093.39" y2="249.62" stroke="#b99781" stroke-width="2.27"/><line x1="988.82" y1="249.62" x2="1006.25" y2="249.62" stroke="#b6957e" stroke-width="2.27"/><line x1="1041.11" y1="249.62" x2="1058.54" y2="249.62" stroke="#b6957e" stroke-width="2.27"/><line x1="988.82" y1="249.62" x2="980.1" y2="257.44" stroke="#b4927b" stroke-width="2.27"/><line x1="1006.25" y1="249.62" x2="1014.96" y2="257.44" stroke="#b4927b" stroke-width="2.27"/><line x1="1041.11" y1="249.62" x2="1032.39" y2="257.44" stroke="#b4927b" stroke-width="2.27"/><line x1="1058.54" y1="249.62" x2="1067.25" y2="257.44" stroke="#b4927b" stroke-width="2.27"/><line x1="1093.39" y1="249.62" x2="1084.68" y2="257.44" stroke="#b4927b" stroke-width="2.27"/><line x1="1014.96" y1="257.44" x2="1032.39" y2="257.44" stroke="#b28f78" stroke-width="2.27"/><line x1="1067.25" y1="257.44" x2="1084.68" y2="257.44" stroke="#b28f78" stroke-width="2.27"/><line x1="980.1" y1="257.44" x2="988.82" y2="265.26" stroke="#af8c74" stroke-width="2.27"/><line x1="1014.96" y1="257.44" x2="1006.25" y2="265.26" stroke="#af8c74" stroke-width="2.27"/><line x1="1032.39" y1="257.44" x2="1041.11" y2="265.26" stroke="#af8c74" stroke-width="2.27"/><line x1="1067.25" y1="257.44" x2="1058.54" y2="265.26" stroke="#af8c74" stroke-width="2.27"/><line x1="1084.68" y1="257.44" x2="1093.39" y2="265.26" stroke="#af8c74" stroke-width="2.27"/><line x1="988.82" y1="265.26" x2="1006.25" y2="265.26" stroke="#ad8a71" stroke-width="2.27"/><line x1="1041.11" y1="265.26" x2="1058.54" y2="265.26" stroke="#ad8a71" stroke-width="2.27"/><line x1="988.82" y1="265.26" x2="980.1" y2="273.08" stroke="#ab876e" stroke-width="2.27"/><line x1="1006.25" y1="265.26" x2="1014.96" y2="273.08" stroke="#ab876e" stroke-width="2.27"/><line x1="1041.11" y1="265.26" x2="1032.39" y2="273.08" stroke="#c3b8c8" stroke-width="2.27"/><line x1="1058.54" y1="265.26" x2="1067.25" y2="273.08" stroke="#c3b8c8" stroke-width="2.27"/><line x1="1093.39" y1="265.26" x2="1084.68" y2="273.08" stroke="#ab876e" stroke-width="2.27"/><line x1="1014.96" y1="273.08" x2="1032.39" y2="273.08" stroke="#c3b8c8" stroke-width="2.27"/><line x1="1067.25" y1="273.08" x2="1084.68" y2="273.08" stroke="#c3b8c8" stroke-width="2.27"/><line x1="980.1" y1="273.08" x2="988.82" y2="280.9" stroke="#a68268" stroke-width="2.27"/><line x1="1014.96" y1="273.08" x2="1006.25" y2="280.9" stroke="#c3b8c8" stroke-width="2.27"/><line x1="1084.68" y1="273.08" x2="1093.39" y2="280.9" stroke="#a68268" stroke-width="2.27"/><line x1="988.82" y1="280.9" x2="1006.25" y2="280.9" stroke="#c3b8c8" stroke-width="2.27"/><line x1="988.82" y1="280.9" x2="980.1" y2="288.72" stroke="#a17c62" stroke-width="2.27"/><line x1="1093.39" y1="280.9" x2="1084.68" y2="288.72" stroke="#a17c62" stroke-width="2.27"/><line x1="1067.25" y1="288.72" x2="1084.68" y2="288.72" stroke="#c3b8c8" stroke-width="2.27"/><line x1="980.1" y1="288.72" x2="988.82" y2="296.54" stroke="#9c775c" stroke-width="2.27"/><line x1="1067.25" y1="288.72" x2="1058.54" y2="296.54" stroke="#c3b8c8" stroke-width="2.27"/><line x1="1084.68" y1="288.72" x2="1093.39" y2="296.54" stroke="#9c775c" stroke-width="2.27"/><line x1="988.82" y1="296.54" x2="1006.25" y2="296.54" stroke="#c3b8c8" stroke-width="2.27"/><line x1="1041.11" y1="296.54" x2="1058.54" y2="296.54" stroke="#c3b8c8" stroke-width="2.27"/><line x1="988.82" y1="296.54" x2="980.1" y2="304.36" stroke="#987155" stroke-width="2.27"/><line x1="1006.25" y1="296.54" x2="1014.96" y2="304.36" stroke="#c3b8c8" stroke-width="2.27"/><line x1="1041.11" y1="296.54" x2="1032.39" y2="304.36" stroke="#c3b8c8" stroke-width="2.27"/><line x1="1058.54" y1="296.54" x2="1067.25" y2="304.36" stroke="#987155" stroke-width="2.27"/><line x1="1093.39" y1="296.54" x2="1084.68" y2="304.36" stroke="#987155" stroke-width="2.27"/><line x1="1014.96" y1="304.36" x2="1032.39" y2="304.36" stroke="#956f52" stroke-width="2.27"/><line x1="1067.25" y1="304.36" x2="1084.68" y2="304.36" stroke="#956f52" stroke-width="2.27"/><line x1="980.1" y1="304.36" x2="988.82" y2="312.18" stroke="#936c4f" stroke-width="2.27"/><line x1="1014.96" y1="304.36" x2="1006.25" y2="312.18" stroke="#936c4f" stroke-width="2.27"/><line x1="1032.39" y1="304.36" x2="1041.11" y2="312.18" stroke="#936c4f" stroke-width="2.27"/><line x1="1067.25" y1="304.36" x2="1058.54" y2="312.18" stroke="#936c4f" stroke-width="2.27"/><line x1="1084.68" y1="304.36" x2="1093.39" y2="312.18" stroke="#936c4f" stroke-width="2.27"/><line x1="988.82" y1="312.18" x2="1006.25" y2="312.18" stroke="#91694c" stroke-width="2.27"/><line x1="1041.11" y1="312.18" x2="1058.54" y2="312.18" stroke="#91694c" stroke-width="2.27"/><line x1="988.82" y1="312.18" x2="980.1" y2="320" stroke="#8e6749" stroke-width="2.27"/><line x1="1006.25" y1="312.18" x2="1014.96" y2="320" stroke="#8e6749" stroke-width="2.27"/><line x1="1041.11" y1="312.18" x2="1032.39" y2="320" stroke="#8e6749" stroke-width="2.27"/><line x1="1058.54" y1="312.18" x2="1067.25" y2="320" stroke="#8e6749" stroke-width="2.27"/><line x1="1093.39" y1="312.18" x2="1084.68" y2="320" stroke="#8e6749" stroke-width="2.27"/><line x1="1014.96" y1="320" x2="1032.39" y2="320" stroke="#8c6446" stroke-width="2.27"/><line x1="1067.25" y1="320" x2="1084.68" y2="320" stroke="#8c6446" stroke-width="2.27"/><line x1="1025" y1="287.8" x2="1006.25" y2="280.9" stroke="#9aa3cf" stroke-width="2.49"/><line x1="1025" y1="287.8" x2="1015.62" y2="284.35" stroke="#1a22b0" stroke-width="2.49"/><line x1="1025" y1="287.8" x2="1006.25" y2="296.54" stroke="#9aa3cf" stroke-width="2.49"/><line x1="1025" y1="287.8" x2="1015.62" y2="292.17" stroke="#1a22b0" stroke-width="2.49"/><line x1="1025" y1="287.8" x2="1041.11" y2="296.54" stroke="#9aa3cf" stroke-width="2.49"/><line x1="1025" y1="287.8" x2="1033.05" y2="292.17" stroke="#1a22b0" stroke-width="2.49"/><line x1="1049.7" y1="281" x2="1032.39" y2="273.08" stroke="#a4acc4" stroke-width="2.49"/><line x1="1049.7" y1="281" x2="1067.25" y2="273.08" stroke="#a4acc4" stroke-width="2.49"/><line x1="1049.7" y1="281" x2="1067.25" y2="288.72" stroke="#a4acc4" stroke-width="2.49"/><circle cx="980.1" cy="241.8" r="3.14" fill="#a07a5e"/><circle cx="979.16" cy="240.86" r="1.41" fill="#fff" opacity="0.22"/><circle cx="1014.96" cy="241.8" r="3.14" fill="#a07a5e"/><circle cx="1014.02" cy="240.86" r="1.41" fill="#fff" opacity="0.22"/><circle cx="1032.39" cy="241.8" r="3.14" fill="#a07a5e"/><circle cx="1031.45" cy="240.86" r="1.41" fill="#fff" opacity="0.22"/><circle cx="1067.25" cy="241.8" r="3.14" fill="#a07a5e"/><circle cx="1066.31" cy="240.86" r="1.41" fill="#fff" opacity="0.22"/><circle cx="1084.68" cy="241.8" r="3.14" fill="#a07a5e"/><circle cx="1083.74" cy="240.86" r="1.41" fill="#fff" opacity="0.22"/><circle cx="988.82" cy="249.62" r="3.14" fill="#997458"/><circle cx="987.87" cy="248.68" r="1.41" fill="#fff" opacity="0.22"/><circle cx="1006.25" cy="249.62" r="3.14" fill="#997458"/><circle cx="1005.3" cy="248.68" r="1.41" fill="#fff" opacity="0.22"/><circle cx="1041.11" cy="249.62" r="3.14" fill="#997458"/><circle cx="1040.16" cy="248.68" r="1.41" fill="#fff" opacity="0.22"/><circle cx="1058.54" cy="249.62" r="3.14" fill="#997458"/><circle cx="1057.59" cy="248.68" r="1.41" fill="#fff" opacity="0.22"/><circle cx="1093.39" cy="249.62" r="3.14" fill="#997458"/><circle cx="1092.45" cy="248.68" r="1.41" fill="#fff" opacity="0.22"/><circle cx="980.1" cy="257.44" r="3.14" fill="#936d51"/><circle cx="979.16" cy="256.5" r="1.41" fill="#fff" opacity="0.22"/><circle cx="1014.96" cy="257.44" r="3.14" fill="#936d51"/><circle cx="1014.02" cy="256.5" r="1.41" fill="#fff" opacity="0.22"/><circle cx="1032.39" cy="257.44" r="3.14" fill="#936d51"/><circle cx="1031.45" cy="256.5" r="1.41" fill="#fff" opacity="0.22"/><circle cx="1067.25" cy="257.44" r="3.14" fill="#936d51"/><circle cx="1066.31" cy="256.5" r="1.41" fill="#fff" opacity="0.22"/><circle cx="1084.68" cy="257.44" r="3.14" fill="#936d51"/><circle cx="1083.74" cy="256.5" r="1.41" fill="#fff" opacity="0.22"/><circle cx="988.82" cy="265.26" r="3.14" fill="#8c674b"/><circle cx="987.87" cy="264.32" r="1.41" fill="#fff" opacity="0.22"/><circle cx="1006.25" cy="265.26" r="3.14" fill="#8c674b"/><circle cx="1005.3" cy="264.32" r="1.41" fill="#fff" opacity="0.22"/><circle cx="1041.11" cy="265.26" r="3.14" fill="#8c674b"/><circle cx="1040.16" cy="264.32" r="1.41" fill="#fff" opacity="0.22"/><circle cx="1058.54" cy="265.26" r="3.14" fill="#8c674b"/><circle cx="1057.59" cy="264.32" r="1.41" fill="#fff" opacity="0.22"/><circle cx="1093.39" cy="265.26" r="3.14" fill="#8c674b"/><circle cx="1092.45" cy="264.32" r="1.41" fill="#fff" opacity="0.22"/><circle cx="980.1" cy="273.08" r="3.14" fill="#866045"/><circle cx="979.16" cy="272.14" r="1.41" fill="#fff" opacity="0.22"/><circle cx="1014.96" cy="273.08" r="3.14" fill="#866045"/><circle cx="1014.02" cy="272.14" r="1.41" fill="#fff" opacity="0.22"/><circle cx="1032.39" cy="273.08" r="3.14" fill="url(#atN)"/><circle cx="1067.25" cy="273.08" r="3.14" fill="url(#atN)"/><circle cx="1084.68" cy="273.08" r="3.14" fill="#866045"/><circle cx="1083.74" cy="272.14" r="1.41" fill="#fff" opacity="0.22"/><circle cx="988.82" cy="280.9" r="3.14" fill="#7f593e"/><circle cx="987.87" cy="279.96" r="1.41" fill="#fff" opacity="0.22"/><circle cx="1006.25" cy="280.9" r="3.14" fill="url(#atN)"/><circle cx="1093.39" cy="280.9" r="3.14" fill="#7f593e"/><circle cx="1092.45" cy="279.96" r="1.41" fill="#fff" opacity="0.22"/><circle cx="980.1" cy="288.72" r="3.14" fill="#785338"/><circle cx="979.16" cy="287.78" r="1.41" fill="#fff" opacity="0.22"/><circle cx="1067.25" cy="288.72" r="3.14" fill="url(#atN)"/><circle cx="1084.68" cy="288.72" r="3.14" fill="#785338"/><circle cx="1083.74" cy="287.78" r="1.41" fill="#fff" opacity="0.22"/><circle cx="988.82" cy="296.54" r="3.14" fill="#724c32"/><circle cx="987.87" cy="295.6" r="1.41" fill="#fff" opacity="0.22"/><circle cx="1006.25" cy="296.54" r="3.14" fill="url(#atN)"/><circle cx="1041.11" cy="296.54" r="3.14" fill="url(#atN)"/><circle cx="1058.54" cy="296.54" r="3.14" fill="#724c32"/><circle cx="1057.59" cy="295.6" r="1.41" fill="#fff" opacity="0.22"/><circle cx="1093.39" cy="296.54" r="3.14" fill="#724c32"/><circle cx="1092.45" cy="295.6" r="1.41" fill="#fff" opacity="0.22"/><circle cx="980.1" cy="304.36" r="3.14" fill="#6b462c"/><circle cx="979.16" cy="303.42" r="1.41" fill="#fff" opacity="0.22"/><circle cx="1014.96" cy="304.36" r="3.14" fill="#6b462c"/><circle cx="1014.02" cy="303.42" r="1.41" fill="#fff" opacity="0.22"/><circle cx="1032.39" cy="304.36" r="3.14" fill="#6b462c"/><circle cx="1031.45" cy="303.42" r="1.41" fill="#fff" opacity="0.22"/><circle cx="1067.25" cy="304.36" r="3.14" fill="#6b462c"/><circle cx="1066.31" cy="303.42" r="1.41" fill="#fff" opacity="0.22"/><circle cx="1084.68" cy="304.36" r="3.14" fill="#6b462c"/><circle cx="1083.74" cy="303.42" r="1.41" fill="#fff" opacity="0.22"/><circle cx="988.82" cy="312.18" r="3.14" fill="#654025"/><circle cx="987.87" cy="311.24" r="1.41" fill="#fff" opacity="0.22"/><circle cx="1006.25" cy="312.18" r="3.14" fill="#654025"/><circle cx="1005.3" cy="311.24" r="1.41" fill="#fff" opacity="0.22"/><circle cx="1041.11" cy="312.18" r="3.14" fill="#654025"/><circle cx="1040.16" cy="311.24" r="1.41" fill="#fff" opacity="0.22"/><circle cx="1058.54" cy="312.18" r="3.14" fill="#654025"/><circle cx="1057.59" cy="311.24" r="1.41" fill="#fff" opacity="0.22"/><circle cx="1093.39" cy="312.18" r="3.14" fill="#654025"/><circle cx="1092.45" cy="311.24" r="1.41" fill="#fff" opacity="0.22"/><circle cx="980.1" cy="320" r="3.14" fill="#5e391f"/><circle cx="979.16" cy="319.06" r="1.41" fill="#fff" opacity="0.22"/><circle cx="1014.96" cy="320" r="3.14" fill="#5e391f"/><circle cx="1014.02" cy="319.06" r="1.41" fill="#fff" opacity="0.22"/><circle cx="1032.39" cy="320" r="3.14" fill="#5e391f"/><circle cx="1031.45" cy="319.06" r="1.41" fill="#fff" opacity="0.22"/><circle cx="1067.25" cy="320" r="3.14" fill="#5e391f"/><circle cx="1066.31" cy="319.06" r="1.41" fill="#fff" opacity="0.22"/><circle cx="1084.68" cy="320" r="3.14" fill="#5e391f"/><circle cx="1083.74" cy="319.06" r="1.41" fill="#fff" opacity="0.22"/><circle cx="1049.7" cy="281" r="5.75" fill="url(#atGr)"/><circle cx="1025" cy="287.8" r="5.75" fill="url(#atBl)"/></g>
<g><line x1="1025" y1="287.8" x2="1026.4" y2="274.9" stroke="#1a22b0" stroke-width="2.61"/><line x1="1027.8" y1="262" x2="1026.4" y2="274.9" stroke="#e02020" stroke-width="2.61"/><line x1="1027.8" y1="262" x2="1020.3" y2="254.5" stroke="#f4c4c8" stroke-width="1.74"/><circle cx="1020.3" cy="254.5" r="2.09" fill="#fbe6e8" stroke="#f0b8be" stroke-width="0.6"/><line x1="1027.8" y1="262" x2="1038.2" y2="261.1" stroke="#f4c4c8" stroke-width="1.74"/><circle cx="1038.2" cy="261.1" r="2.09" fill="#fbe6e8" stroke="#f0b8be" stroke-width="0.6"/><circle cx="1027.8" cy="262" r="3.83" fill="url(#atO)"/></g>
<g><line x1="1132.1" y1="319.4" x2="1141.9" y2="319.4" stroke="#a98369" stroke-width="2.55"/><line x1="1269.3" y1="328.24" x2="1279.1" y2="328.24" stroke="#a98369" stroke-width="2.55"/><line x1="1132.1" y1="337.08" x2="1141.9" y2="337.08" stroke="#a98369" stroke-width="2.55"/><line x1="1269.3" y1="345.92" x2="1279.1" y2="345.92" stroke="#a98369" stroke-width="2.55"/><line x1="1132.1" y1="354.76" x2="1141.9" y2="354.76" stroke="#a98369" stroke-width="2.55"/><line x1="1269.3" y1="363.6" x2="1279.1" y2="363.6" stroke="#a98369" stroke-width="2.55"/><line x1="1132.1" y1="372.44" x2="1141.9" y2="372.44" stroke="#a98369" stroke-width="2.55"/><line x1="1269.3" y1="381.28" x2="1279.1" y2="381.28" stroke="#a98369" stroke-width="2.55"/><line x1="1132.1" y1="390.12" x2="1141.9" y2="390.12" stroke="#a98369" stroke-width="2.55"/><line x1="1269.3" y1="398.96" x2="1279.1" y2="398.96" stroke="#a98369" stroke-width="2.55"/><line x1="1132.1" y1="407.8" x2="1141.9" y2="407.8" stroke="#a98369" stroke-width="2.55"/><line x1="1181.1" y1="319.4" x2="1200.7" y2="319.4" stroke="#bb9a84" stroke-width="2.55"/><line x1="1239.9" y1="319.4" x2="1259.5" y2="319.4" stroke="#bb9a84" stroke-width="2.55"/><line x1="1141.9" y1="319.4" x2="1151.7" y2="328.24" stroke="#b99781" stroke-width="2.55"/><line x1="1181.1" y1="319.4" x2="1171.3" y2="328.24" stroke="#b99781" stroke-width="2.55"/><line x1="1200.7" y1="319.4" x2="1210.5" y2="328.24" stroke="#b99781" stroke-width="2.55"/><line x1="1239.9" y1="319.4" x2="1230.1" y2="328.24" stroke="#b99781" stroke-width="2.55"/><line x1="1259.5" y1="319.4" x2="1269.3" y2="328.24" stroke="#b99781" stroke-width="2.55"/><line x1="1151.7" y1="328.24" x2="1171.3" y2="328.24" stroke="#b6957e" stroke-width="2.55"/><line x1="1210.5" y1="328.24" x2="1230.1" y2="328.24" stroke="#b6957e" stroke-width="2.55"/><line x1="1151.7" y1="328.24" x2="1141.9" y2="337.08" stroke="#b4927b" stroke-width="2.55"/><line x1="1171.3" y1="328.24" x2="1181.1" y2="337.08" stroke="#b4927b" stroke-width="2.55"/><line x1="1210.5" y1="328.24" x2="1200.7" y2="337.08" stroke="#b4927b" stroke-width="2.55"/><line x1="1230.1" y1="328.24" x2="1239.9" y2="337.08" stroke="#b4927b" stroke-width="2.55"/><line x1="1269.3" y1="328.24" x2="1259.5" y2="337.08" stroke="#b4927b" stroke-width="2.55"/><line x1="1181.1" y1="337.08" x2="1200.7" y2="337.08" stroke="#b28f78" stroke-width="2.55"/><line x1="1239.9" y1="337.08" x2="1259.5" y2="337.08" stroke="#b28f78" stroke-width="2.55"/><line x1="1141.9" y1="337.08" x2="1151.7" y2="345.92" stroke="#af8c74" stroke-width="2.55"/><line x1="1181.1" y1="337.08" x2="1171.3" y2="345.92" stroke="#af8c74" stroke-width="2.55"/><line x1="1200.7" y1="337.08" x2="1210.5" y2="345.92" stroke="#af8c74" stroke-width="2.55"/><line x1="1239.9" y1="337.08" x2="1230.1" y2="345.92" stroke="#af8c74" stroke-width="2.55"/><line x1="1259.5" y1="337.08" x2="1269.3" y2="345.92" stroke="#af8c74" stroke-width="2.55"/><line x1="1151.7" y1="345.92" x2="1171.3" y2="345.92" stroke="#ad8a71" stroke-width="2.55"/><line x1="1210.5" y1="345.92" x2="1230.1" y2="345.92" stroke="#ad8a71" stroke-width="2.55"/><line x1="1151.7" y1="345.92" x2="1141.9" y2="354.76" stroke="#ab876e" stroke-width="2.55"/><line x1="1171.3" y1="345.92" x2="1181.1" y2="354.76" stroke="#ab876e" stroke-width="2.55"/><line x1="1210.5" y1="345.92" x2="1200.7" y2="354.76" stroke="#c3b8c8" stroke-width="2.55"/><line x1="1230.1" y1="345.92" x2="1239.9" y2="354.76" stroke="#c3b8c8" stroke-width="2.55"/><line x1="1269.3" y1="345.92" x2="1259.5" y2="354.76" stroke="#ab876e" stroke-width="2.55"/><line x1="1181.1" y1="354.76" x2="1200.7" y2="354.76" stroke="#c3b8c8" stroke-width="2.55"/><line x1="1239.9" y1="354.76" x2="1259.5" y2="354.76" stroke="#c3b8c8" stroke-width="2.55"/><line x1="1141.9" y1="354.76" x2="1151.7" y2="363.6" stroke="#a68268" stroke-width="2.55"/><line x1="1181.1" y1="354.76" x2="1171.3" y2="363.6" stroke="#c3b8c8" stroke-width="2.55"/><line x1="1259.5" y1="354.76" x2="1269.3" y2="363.6" stroke="#a68268" stroke-width="2.55"/><line x1="1151.7" y1="363.6" x2="1171.3" y2="363.6" stroke="#c3b8c8" stroke-width="2.55"/><line x1="1151.7" y1="363.6" x2="1141.9" y2="372.44" stroke="#a17c62" stroke-width="2.55"/><line x1="1269.3" y1="363.6" x2="1259.5" y2="372.44" stroke="#a17c62" stroke-width="2.55"/><line x1="1239.9" y1="372.44" x2="1259.5" y2="372.44" stroke="#c3b8c8" stroke-width="2.55"/><line x1="1141.9" y1="372.44" x2="1151.7" y2="381.28" stroke="#9c775c" stroke-width="2.55"/><line x1="1239.9" y1="372.44" x2="1230.1" y2="381.28" stroke="#c3b8c8" stroke-width="2.55"/><line x1="1259.5" y1="372.44" x2="1269.3" y2="381.28" stroke="#9c775c" stroke-width="2.55"/><line x1="1151.7" y1="381.28" x2="1171.3" y2="381.28" stroke="#c3b8c8" stroke-width="2.55"/><line x1="1210.5" y1="381.28" x2="1230.1" y2="381.28" stroke="#c3b8c8" stroke-width="2.55"/><line x1="1151.7" y1="381.28" x2="1141.9" y2="390.12" stroke="#987256" stroke-width="2.55"/><line x1="1171.3" y1="381.28" x2="1181.1" y2="390.12" stroke="#c3b8c8" stroke-width="2.55"/><line x1="1210.5" y1="381.28" x2="1200.7" y2="390.12" stroke="#c3b8c8" stroke-width="2.55"/><line x1="1230.1" y1="381.28" x2="1239.9" y2="390.12" stroke="#987256" stroke-width="2.55"/><line x1="1269.3" y1="381.28" x2="1259.5" y2="390.12" stroke="#987256" stroke-width="2.55"/><line x1="1181.1" y1="390.12" x2="1200.7" y2="390.12" stroke="#956f52" stroke-width="2.55"/><line x1="1239.9" y1="390.12" x2="1259.5" y2="390.12" stroke="#956f52" stroke-width="2.55"/><line x1="1141.9" y1="390.12" x2="1151.7" y2="398.96" stroke="#936c4f" stroke-width="2.55"/><line x1="1181.1" y1="390.12" x2="1171.3" y2="398.96" stroke="#936c4f" stroke-width="2.55"/><line x1="1200.7" y1="390.12" x2="1210.5" y2="398.96" stroke="#936c4f" stroke-width="2.55"/><line x1="1239.9" y1="390.12" x2="1230.1" y2="398.96" stroke="#936c4f" stroke-width="2.55"/><line x1="1259.5" y1="390.12" x2="1269.3" y2="398.96" stroke="#936c4f" stroke-width="2.55"/><line x1="1151.7" y1="398.96" x2="1171.3" y2="398.96" stroke="#91694c" stroke-width="2.55"/><line x1="1210.5" y1="398.96" x2="1230.1" y2="398.96" stroke="#91694c" stroke-width="2.55"/><line x1="1151.7" y1="398.96" x2="1141.9" y2="407.8" stroke="#8e6749" stroke-width="2.55"/><line x1="1171.3" y1="398.96" x2="1181.1" y2="407.8" stroke="#8e6749" stroke-width="2.55"/><line x1="1210.5" y1="398.96" x2="1200.7" y2="407.8" stroke="#8e6749" stroke-width="2.55"/><line x1="1230.1" y1="398.96" x2="1239.9" y2="407.8" stroke="#8e6749" stroke-width="2.55"/><line x1="1269.3" y1="398.96" x2="1259.5" y2="407.8" stroke="#8e6749" stroke-width="2.55"/><line x1="1181.1" y1="407.8" x2="1200.7" y2="407.8" stroke="#8c6446" stroke-width="2.55"/><line x1="1239.9" y1="407.8" x2="1259.5" y2="407.8" stroke="#8c6446" stroke-width="2.55"/><line x1="1190.8" y1="364.6" x2="1171.3" y2="363.6" stroke="#9aa3cf" stroke-width="2.8"/><line x1="1190.8" y1="364.6" x2="1181.05" y2="364.1" stroke="#1a22b0" stroke-width="2.8"/><line x1="1190.8" y1="364.6" x2="1171.3" y2="381.28" stroke="#9aa3cf" stroke-width="2.8"/><line x1="1190.8" y1="364.6" x2="1181.05" y2="372.94" stroke="#1a22b0" stroke-width="2.8"/><line x1="1190.8" y1="364.6" x2="1210.5" y2="381.28" stroke="#9aa3cf" stroke-width="2.8"/><line x1="1190.8" y1="364.6" x2="1200.65" y2="372.94" stroke="#1a22b0" stroke-width="2.8"/><line x1="1220.3" y1="360.8" x2="1200.7" y2="354.76" stroke="#a4acc4" stroke-width="2.8"/><line x1="1220.3" y1="360.8" x2="1239.9" y2="354.76" stroke="#a4acc4" stroke-width="2.8"/><line x1="1220.3" y1="360.8" x2="1239.9" y2="372.44" stroke="#a4acc4" stroke-width="2.8"/><circle cx="1141.9" cy="319.4" r="3.53" fill="#a07a5e"/><circle cx="1140.84" cy="318.34" r="1.59" fill="#fff" opacity="0.22"/><circle cx="1181.1" cy="319.4" r="3.53" fill="#a07a5e"/><circle cx="1180.04" cy="318.34" r="1.59" fill="#fff" opacity="0.22"/><circle cx="1200.7" cy="319.4" r="3.53" fill="#a07a5e"/><circle cx="1199.64" cy="318.34" r="1.59" fill="#fff" opacity="0.22"/><circle cx="1239.9" cy="319.4" r="3.53" fill="#a07a5e"/><circle cx="1238.84" cy="318.34" r="1.59" fill="#fff" opacity="0.22"/><circle cx="1259.5" cy="319.4" r="3.53" fill="#a07a5e"/><circle cx="1258.44" cy="318.34" r="1.59" fill="#fff" opacity="0.22"/><circle cx="1151.7" cy="328.24" r="3.53" fill="#997458"/><circle cx="1150.64" cy="327.18" r="1.59" fill="#fff" opacity="0.22"/><circle cx="1171.3" cy="328.24" r="3.53" fill="#997458"/><circle cx="1170.24" cy="327.18" r="1.59" fill="#fff" opacity="0.22"/><circle cx="1210.5" cy="328.24" r="3.53" fill="#997458"/><circle cx="1209.44" cy="327.18" r="1.59" fill="#fff" opacity="0.22"/><circle cx="1230.1" cy="328.24" r="3.53" fill="#997458"/><circle cx="1229.04" cy="327.18" r="1.59" fill="#fff" opacity="0.22"/><circle cx="1269.3" cy="328.24" r="3.53" fill="#997458"/><circle cx="1268.24" cy="327.18" r="1.59" fill="#fff" opacity="0.22"/><circle cx="1141.9" cy="337.08" r="3.53" fill="#936d51"/><circle cx="1140.84" cy="336.02" r="1.59" fill="#fff" opacity="0.22"/><circle cx="1181.1" cy="337.08" r="3.53" fill="#936d51"/><circle cx="1180.04" cy="336.02" r="1.59" fill="#fff" opacity="0.22"/><circle cx="1200.7" cy="337.08" r="3.53" fill="#936d51"/><circle cx="1199.64" cy="336.02" r="1.59" fill="#fff" opacity="0.22"/><circle cx="1239.9" cy="337.08" r="3.53" fill="#936d51"/><circle cx="1238.84" cy="336.02" r="1.59" fill="#fff" opacity="0.22"/><circle cx="1259.5" cy="337.08" r="3.53" fill="#936d51"/><circle cx="1258.44" cy="336.02" r="1.59" fill="#fff" opacity="0.22"/><circle cx="1151.7" cy="345.92" r="3.53" fill="#8c674b"/><circle cx="1150.64" cy="344.86" r="1.59" fill="#fff" opacity="0.22"/><circle cx="1171.3" cy="345.92" r="3.53" fill="#8c674b"/><circle cx="1170.24" cy="344.86" r="1.59" fill="#fff" opacity="0.22"/><circle cx="1210.5" cy="345.92" r="3.53" fill="#8c674b"/><circle cx="1209.44" cy="344.86" r="1.59" fill="#fff" opacity="0.22"/><circle cx="1230.1" cy="345.92" r="3.53" fill="#8c674b"/><circle cx="1229.04" cy="344.86" r="1.59" fill="#fff" opacity="0.22"/><circle cx="1269.3" cy="345.92" r="3.53" fill="#8c674b"/><circle cx="1268.24" cy="344.86" r="1.59" fill="#fff" opacity="0.22"/><circle cx="1141.9" cy="354.76" r="3.53" fill="#866045"/><circle cx="1140.84" cy="353.7" r="1.59" fill="#fff" opacity="0.22"/><circle cx="1181.1" cy="354.76" r="3.53" fill="#866045"/><circle cx="1180.04" cy="353.7" r="1.59" fill="#fff" opacity="0.22"/><circle cx="1200.7" cy="354.76" r="3.53" fill="url(#atN)"/><circle cx="1239.9" cy="354.76" r="3.53" fill="url(#atN)"/><circle cx="1259.5" cy="354.76" r="3.53" fill="#866045"/><circle cx="1258.44" cy="353.7" r="1.59" fill="#fff" opacity="0.22"/><circle cx="1151.7" cy="363.6" r="3.53" fill="#7f5a3f"/><circle cx="1150.64" cy="362.54" r="1.59" fill="#fff" opacity="0.22"/><circle cx="1171.3" cy="363.6" r="3.53" fill="url(#atN)"/><circle cx="1269.3" cy="363.6" r="3.53" fill="#7f5a3f"/><circle cx="1268.24" cy="362.54" r="1.59" fill="#fff" opacity="0.22"/><circle cx="1141.9" cy="372.44" r="3.53" fill="#785338"/><circle cx="1140.84" cy="371.38" r="1.59" fill="#fff" opacity="0.22"/><circle cx="1239.9" cy="372.44" r="3.53" fill="url(#atN)"/><circle cx="1259.5" cy="372.44" r="3.53" fill="#785338"/><circle cx="1258.44" cy="371.38" r="1.59" fill="#fff" opacity="0.22"/><circle cx="1151.7" cy="381.28" r="3.53" fill="#724c32"/><circle cx="1150.64" cy="380.22" r="1.59" fill="#fff" opacity="0.22"/><circle cx="1171.3" cy="381.28" r="3.53" fill="url(#atN)"/><circle cx="1210.5" cy="381.28" r="3.53" fill="url(#atN)"/><circle cx="1230.1" cy="381.28" r="3.53" fill="#724c32"/><circle cx="1229.04" cy="380.22" r="1.59" fill="#fff" opacity="0.22"/><circle cx="1269.3" cy="381.28" r="3.53" fill="#724c32"/><circle cx="1268.24" cy="380.22" r="1.59" fill="#fff" opacity="0.22"/><circle cx="1141.9" cy="390.12" r="3.53" fill="#6b462c"/><circle cx="1140.84" cy="389.06" r="1.59" fill="#fff" opacity="0.22"/><circle cx="1181.1" cy="390.12" r="3.53" fill="#6b462c"/><circle cx="1180.04" cy="389.06" r="1.59" fill="#fff" opacity="0.22"/><circle cx="1200.7" cy="390.12" r="3.53" fill="#6b462c"/><circle cx="1199.64" cy="389.06" r="1.59" fill="#fff" opacity="0.22"/><circle cx="1239.9" cy="390.12" r="3.53" fill="#6b462c"/><circle cx="1238.84" cy="389.06" r="1.59" fill="#fff" opacity="0.22"/><circle cx="1259.5" cy="390.12" r="3.53" fill="#6b462c"/><circle cx="1258.44" cy="389.06" r="1.59" fill="#fff" opacity="0.22"/><circle cx="1151.7" cy="398.96" r="3.53" fill="#654025"/><circle cx="1150.64" cy="397.9" r="1.59" fill="#fff" opacity="0.22"/><circle cx="1171.3" cy="398.96" r="3.53" fill="#654025"/><circle cx="1170.24" cy="397.9" r="1.59" fill="#fff" opacity="0.22"/><circle cx="1210.5" cy="398.96" r="3.53" fill="#654025"/><circle cx="1209.44" cy="397.9" r="1.59" fill="#fff" opacity="0.22"/><circle cx="1230.1" cy="398.96" r="3.53" fill="#654025"/><circle cx="1229.04" cy="397.9" r="1.59" fill="#fff" opacity="0.22"/><circle cx="1269.3" cy="398.96" r="3.53" fill="#654025"/><circle cx="1268.24" cy="397.9" r="1.59" fill="#fff" opacity="0.22"/><circle cx="1141.9" cy="407.8" r="3.53" fill="#5e391f"/><circle cx="1140.84" cy="406.74" r="1.59" fill="#fff" opacity="0.22"/><circle cx="1181.1" cy="407.8" r="3.53" fill="#5e391f"/><circle cx="1180.04" cy="406.74" r="1.59" fill="#fff" opacity="0.22"/><circle cx="1200.7" cy="407.8" r="3.53" fill="#5e391f"/><circle cx="1199.64" cy="406.74" r="1.59" fill="#fff" opacity="0.22"/><circle cx="1239.9" cy="407.8" r="3.53" fill="#5e391f"/><circle cx="1238.84" cy="406.74" r="1.59" fill="#fff" opacity="0.22"/><circle cx="1259.5" cy="407.8" r="3.53" fill="#5e391f"/><circle cx="1258.44" cy="406.74" r="1.59" fill="#fff" opacity="0.22"/><circle cx="1220.3" cy="360.8" r="6.47" fill="url(#atGr)"/><circle cx="1190.8" cy="364.6" r="6.47" fill="url(#atBl)"/></g>
<g><line x1="1190.8" y1="364.6" x2="1187.7" y2="354.25" stroke="#1a22b0" stroke-width="2.94"/><line x1="1184.6" y1="343.9" x2="1187.7" y2="354.25" stroke="#e02020" stroke-width="2.94"/><line x1="1184.6" y1="343.9" x2="1191.4" y2="332.8" stroke="#f4c4c8" stroke-width="1.96"/><circle cx="1191.4" cy="332.8" r="2.35" fill="#fbe6e8" stroke="#f0b8be" stroke-width="0.6"/><circle cx="1184.6" cy="343.9" r="4.31" fill="url(#atO)"/></g>
<circle cx="1207.7" cy="350.8" r="2.3" fill="#fbe6e8" stroke="#f0b8be" stroke-width="0.6"/>
<g><line x1="1273.82" y1="104.5" x2="1282.6" y2="104.5" stroke="#a98369" stroke-width="2.28"/><line x1="1396.67" y1="112.46" x2="1405.45" y2="112.46" stroke="#a98369" stroke-width="2.28"/><line x1="1273.82" y1="120.42" x2="1282.6" y2="120.42" stroke="#a98369" stroke-width="2.28"/><line x1="1396.67" y1="128.38" x2="1405.45" y2="128.38" stroke="#a98369" stroke-width="2.28"/><line x1="1273.82" y1="136.34" x2="1282.6" y2="136.34" stroke="#a98369" stroke-width="2.28"/><line x1="1396.67" y1="144.3" x2="1405.45" y2="144.3" stroke="#a98369" stroke-width="2.28"/><line x1="1273.82" y1="152.26" x2="1282.6" y2="152.26" stroke="#a98369" stroke-width="2.28"/><line x1="1396.67" y1="160.22" x2="1405.45" y2="160.22" stroke="#a98369" stroke-width="2.28"/><line x1="1273.82" y1="168.18" x2="1282.6" y2="168.18" stroke="#a98369" stroke-width="2.28"/><line x1="1396.67" y1="176.14" x2="1405.45" y2="176.14" stroke="#a98369" stroke-width="2.28"/><line x1="1273.82" y1="184.1" x2="1282.6" y2="184.1" stroke="#a98369" stroke-width="2.28"/><line x1="1317.7" y1="104.5" x2="1335.25" y2="104.5" stroke="#bb9a84" stroke-width="2.28"/><line x1="1370.35" y1="104.5" x2="1387.9" y2="104.5" stroke="#bb9a84" stroke-width="2.28"/><line x1="1282.6" y1="104.5" x2="1291.38" y2="112.46" stroke="#b99781" stroke-width="2.28"/><line x1="1317.7" y1="104.5" x2="1308.92" y2="112.46" stroke="#b99781" stroke-width="2.28"/><line x1="1335.25" y1="104.5" x2="1344.02" y2="112.46" stroke="#b99781" stroke-width="2.28"/><line x1="1370.35" y1="104.5" x2="1361.57" y2="112.46" stroke="#b99781" stroke-width="2.28"/><line x1="1387.9" y1="104.5" x2="1396.67" y2="112.46" stroke="#b99781" stroke-width="2.28"/><line x1="1291.38" y1="112.46" x2="1308.92" y2="112.46" stroke="#b6957e" stroke-width="2.28"/><line x1="1344.02" y1="112.46" x2="1361.57" y2="112.46" stroke="#b6957e" stroke-width="2.28"/><line x1="1291.38" y1="112.46" x2="1282.6" y2="120.42" stroke="#b4927b" stroke-width="2.28"/><line x1="1308.92" y1="112.46" x2="1317.7" y2="120.42" stroke="#b4927b" stroke-width="2.28"/><line x1="1344.02" y1="112.46" x2="1335.25" y2="120.42" stroke="#b4927b" stroke-width="2.28"/><line x1="1361.57" y1="112.46" x2="1370.35" y2="120.42" stroke="#b4927b" stroke-width="2.28"/><line x1="1396.67" y1="112.46" x2="1387.9" y2="120.42" stroke="#b4927b" stroke-width="2.28"/><line x1="1317.7" y1="120.42" x2="1335.25" y2="120.42" stroke="#b28f78" stroke-width="2.28"/><line x1="1370.35" y1="120.42" x2="1387.9" y2="120.42" stroke="#b28f78" stroke-width="2.28"/><line x1="1282.6" y1="120.42" x2="1291.38" y2="128.38" stroke="#af8c74" stroke-width="2.28"/><line x1="1317.7" y1="120.42" x2="1308.92" y2="128.38" stroke="#af8c74" stroke-width="2.28"/><line x1="1335.25" y1="120.42" x2="1344.02" y2="128.38" stroke="#af8c74" stroke-width="2.28"/><line x1="1370.35" y1="120.42" x2="1361.57" y2="128.38" stroke="#af8c74" stroke-width="2.28"/><line x1="1387.9" y1="120.42" x2="1396.67" y2="128.38" stroke="#af8c74" stroke-width="2.28"/><line x1="1291.38" y1="128.38" x2="1308.92" y2="128.38" stroke="#ad8a71" stroke-width="2.28"/><line x1="1344.02" y1="128.38" x2="1361.57" y2="128.38" stroke="#ad8a71" stroke-width="2.28"/><line x1="1291.38" y1="128.38" x2="1282.6" y2="136.34" stroke="#ab876e" stroke-width="2.28"/><line x1="1308.92" y1="128.38" x2="1317.7" y2="136.34" stroke="#ab876e" stroke-width="2.28"/><line x1="1344.02" y1="128.38" x2="1335.25" y2="136.34" stroke="#c3b8c8" stroke-width="2.28"/><line x1="1361.57" y1="128.38" x2="1370.35" y2="136.34" stroke="#c3b8c8" stroke-width="2.28"/><line x1="1396.67" y1="128.38" x2="1387.9" y2="136.34" stroke="#ab876e" stroke-width="2.28"/><line x1="1317.7" y1="136.34" x2="1335.25" y2="136.34" stroke="#c3b8c8" stroke-width="2.28"/><line x1="1370.35" y1="136.34" x2="1387.9" y2="136.34" stroke="#c3b8c8" stroke-width="2.28"/><line x1="1282.6" y1="136.34" x2="1291.38" y2="144.3" stroke="#a68268" stroke-width="2.28"/><line x1="1317.7" y1="136.34" x2="1308.92" y2="144.3" stroke="#c3b8c8" stroke-width="2.28"/><line x1="1387.9" y1="136.34" x2="1396.67" y2="144.3" stroke="#a68268" stroke-width="2.28"/><line x1="1291.38" y1="144.3" x2="1308.92" y2="144.3" stroke="#c3b8c8" stroke-width="2.28"/><line x1="1291.38" y1="144.3" x2="1282.6" y2="152.26" stroke="#a17c62" stroke-width="2.28"/><line x1="1396.67" y1="144.3" x2="1387.9" y2="152.26" stroke="#a17c62" stroke-width="2.28"/><line x1="1370.35" y1="152.26" x2="1387.9" y2="152.26" stroke="#c3b8c8" stroke-width="2.28"/><line x1="1282.6" y1="152.26" x2="1291.38" y2="160.22" stroke="#9c775c" stroke-width="2.28"/><line x1="1370.35" y1="152.26" x2="1361.57" y2="160.22" stroke="#c3b8c8" stroke-width="2.28"/><line x1="1387.9" y1="152.26" x2="1396.67" y2="160.22" stroke="#9c775c" stroke-width="2.28"/><line x1="1291.38" y1="160.22" x2="1308.92" y2="160.22" stroke="#c3b8c8" stroke-width="2.28"/><line x1="1344.02" y1="160.22" x2="1361.57" y2="160.22" stroke="#c3b8c8" stroke-width="2.28"/><line x1="1291.38" y1="160.22" x2="1282.6" y2="168.18" stroke="#987256" stroke-width="2.28"/><line x1="1308.92" y1="160.22" x2="1317.7" y2="168.18" stroke="#c3b8c8" stroke-width="2.28"/><line x1="1344.02" y1="160.22" x2="1335.25" y2="168.18" stroke="#c3b8c8" stroke-width="2.28"/><line x1="1361.57" y1="160.22" x2="1370.35" y2="168.18" stroke="#987256" stroke-width="2.28"/><line x1="1396.67" y1="160.22" x2="1387.9" y2="168.18" stroke="#987256" stroke-width="2.28"/><line x1="1317.7" y1="168.18" x2="1335.25" y2="168.18" stroke="#956f52" stroke-width="2.28"/><line x1="1370.35" y1="168.18" x2="1387.9" y2="168.18" stroke="#956f52" stroke-width="2.28"/><line x1="1282.6" y1="168.18" x2="1291.38" y2="176.14" stroke="#936c4f" stroke-width="2.28"/><line x1="1317.7" y1="168.18" x2="1308.92" y2="176.14" stroke="#936c4f" stroke-width="2.28"/><line x1="1335.25" y1="168.18" x2="1344.02" y2="176.14" stroke="#936c4f" stroke-width="2.28"/><line x1="1370.35" y1="168.18" x2="1361.57" y2="176.14" stroke="#936c4f" stroke-width="2.28"/><line x1="1387.9" y1="168.18" x2="1396.67" y2="176.14" stroke="#936c4f" stroke-width="2.28"/><line x1="1291.38" y1="176.14" x2="1308.92" y2="176.14" stroke="#91694c" stroke-width="2.28"/><line x1="1344.02" y1="176.14" x2="1361.57" y2="176.14" stroke="#91694c" stroke-width="2.28"/><line x1="1291.38" y1="176.14" x2="1282.6" y2="184.1" stroke="#8e6749" stroke-width="2.28"/><line x1="1308.92" y1="176.14" x2="1317.7" y2="184.1" stroke="#8e6749" stroke-width="2.28"/><line x1="1344.02" y1="176.14" x2="1335.25" y2="184.1" stroke="#8e6749" stroke-width="2.28"/><line x1="1361.57" y1="176.14" x2="1370.35" y2="184.1" stroke="#8e6749" stroke-width="2.28"/><line x1="1396.67" y1="176.14" x2="1387.9" y2="184.1" stroke="#8e6749" stroke-width="2.28"/><line x1="1317.7" y1="184.1" x2="1335.25" y2="184.1" stroke="#8c6446" stroke-width="2.28"/><line x1="1370.35" y1="184.1" x2="1387.9" y2="184.1" stroke="#8c6446" stroke-width="2.28"/><line x1="1327.1" y1="145.2" x2="1308.92" y2="144.3" stroke="#9aa3cf" stroke-width="2.51"/><line x1="1327.1" y1="145.2" x2="1318.01" y2="144.75" stroke="#1a22b0" stroke-width="2.51"/><line x1="1327.1" y1="145.2" x2="1308.92" y2="160.22" stroke="#9aa3cf" stroke-width="2.51"/><line x1="1327.1" y1="145.2" x2="1318.01" y2="152.71" stroke="#1a22b0" stroke-width="2.51"/><line x1="1327.1" y1="145.2" x2="1344.02" y2="160.22" stroke="#9aa3cf" stroke-width="2.51"/><line x1="1327.1" y1="145.2" x2="1335.56" y2="152.71" stroke="#1a22b0" stroke-width="2.51"/><line x1="1352.8" y1="141.4" x2="1335.25" y2="136.34" stroke="#a4acc4" stroke-width="2.51"/><line x1="1352.8" y1="141.4" x2="1370.35" y2="136.34" stroke="#a4acc4" stroke-width="2.51"/><line x1="1352.8" y1="141.4" x2="1370.35" y2="152.26" stroke="#a4acc4" stroke-width="2.51"/><circle cx="1282.6" cy="104.5" r="3.16" fill="#a07a5e"/><circle cx="1281.65" cy="103.55" r="1.42" fill="#fff" opacity="0.22"/><circle cx="1317.7" cy="104.5" r="3.16" fill="#a07a5e"/><circle cx="1316.75" cy="103.55" r="1.42" fill="#fff" opacity="0.22"/><circle cx="1335.25" cy="104.5" r="3.16" fill="#a07a5e"/><circle cx="1334.3" cy="103.55" r="1.42" fill="#fff" opacity="0.22"/><circle cx="1370.35" cy="104.5" r="3.16" fill="#a07a5e"/><circle cx="1369.4" cy="103.55" r="1.42" fill="#fff" opacity="0.22"/><circle cx="1387.9" cy="104.5" r="3.16" fill="#a07a5e"/><circle cx="1386.95" cy="103.55" r="1.42" fill="#fff" opacity="0.22"/><circle cx="1291.38" cy="112.46" r="3.16" fill="#997458"/><circle cx="1290.43" cy="111.51" r="1.42" fill="#fff" opacity="0.22"/><circle cx="1308.92" cy="112.46" r="3.16" fill="#997458"/><circle cx="1307.98" cy="111.51" r="1.42" fill="#fff" opacity="0.22"/><circle cx="1344.02" cy="112.46" r="3.16" fill="#997458"/><circle cx="1343.08" cy="111.51" r="1.42" fill="#fff" opacity="0.22"/><circle cx="1361.57" cy="112.46" r="3.16" fill="#997458"/><circle cx="1360.63" cy="111.51" r="1.42" fill="#fff" opacity="0.22"/><circle cx="1396.67" cy="112.46" r="3.16" fill="#997458"/><circle cx="1395.73" cy="111.51" r="1.42" fill="#fff" opacity="0.22"/><circle cx="1282.6" cy="120.42" r="3.16" fill="#936d51"/><circle cx="1281.65" cy="119.47" r="1.42" fill="#fff" opacity="0.22"/><circle cx="1317.7" cy="120.42" r="3.16" fill="#936d51"/><circle cx="1316.75" cy="119.47" r="1.42" fill="#fff" opacity="0.22"/><circle cx="1335.25" cy="120.42" r="3.16" fill="#936d51"/><circle cx="1334.3" cy="119.47" r="1.42" fill="#fff" opacity="0.22"/><circle cx="1370.35" cy="120.42" r="3.16" fill="#936d51"/><circle cx="1369.4" cy="119.47" r="1.42" fill="#fff" opacity="0.22"/><circle cx="1387.9" cy="120.42" r="3.16" fill="#936d51"/><circle cx="1386.95" cy="119.47" r="1.42" fill="#fff" opacity="0.22"/><circle cx="1291.38" cy="128.38" r="3.16" fill="#8c664b"/><circle cx="1290.43" cy="127.43" r="1.42" fill="#fff" opacity="0.22"/><circle cx="1308.92" cy="128.38" r="3.16" fill="#8c664b"/><circle cx="1307.98" cy="127.43" r="1.42" fill="#fff" opacity="0.22"/><circle cx="1344.02" cy="128.38" r="3.16" fill="#8c664b"/><circle cx="1343.08" cy="127.43" r="1.42" fill="#fff" opacity="0.22"/><circle cx="1361.57" cy="128.38" r="3.16" fill="#8c664b"/><circle cx="1360.63" cy="127.43" r="1.42" fill="#fff" opacity="0.22"/><circle cx="1396.67" cy="128.38" r="3.16" fill="#8c664b"/><circle cx="1395.73" cy="127.43" r="1.42" fill="#fff" opacity="0.22"/><circle cx="1282.6" cy="136.34" r="3.16" fill="#866045"/><circle cx="1281.65" cy="135.39" r="1.42" fill="#fff" opacity="0.22"/><circle cx="1317.7" cy="136.34" r="3.16" fill="#866045"/><circle cx="1316.75" cy="135.39" r="1.42" fill="#fff" opacity="0.22"/><circle cx="1335.25" cy="136.34" r="3.16" fill="url(#atN)"/><circle cx="1370.35" cy="136.34" r="3.16" fill="url(#atN)"/><circle cx="1387.9" cy="136.34" r="3.16" fill="#866045"/><circle cx="1386.95" cy="135.39" r="1.42" fill="#fff" opacity="0.22"/><circle cx="1291.38" cy="144.3" r="3.16" fill="#7f593e"/><circle cx="1290.43" cy="143.35" r="1.42" fill="#fff" opacity="0.22"/><circle cx="1308.92" cy="144.3" r="3.16" fill="url(#atN)"/><circle cx="1396.67" cy="144.3" r="3.16" fill="#7f593e"/><circle cx="1395.73" cy="143.35" r="1.42" fill="#fff" opacity="0.22"/><circle cx="1282.6" cy="152.26" r="3.16" fill="#785338"/><circle cx="1281.65" cy="151.31" r="1.42" fill="#fff" opacity="0.22"/><circle cx="1370.35" cy="152.26" r="3.16" fill="url(#atN)"/><circle cx="1387.9" cy="152.26" r="3.16" fill="#785338"/><circle cx="1386.95" cy="151.31" r="1.42" fill="#fff" opacity="0.22"/><circle cx="1291.38" cy="160.22" r="3.16" fill="#724c32"/><circle cx="1290.43" cy="159.27" r="1.42" fill="#fff" opacity="0.22"/><circle cx="1308.92" cy="160.22" r="3.16" fill="url(#atN)"/><circle cx="1344.02" cy="160.22" r="3.16" fill="url(#atN)"/><circle cx="1361.57" cy="160.22" r="3.16" fill="#724c32"/><circle cx="1360.63" cy="159.27" r="1.42" fill="#fff" opacity="0.22"/><circle cx="1396.67" cy="160.22" r="3.16" fill="#724c32"/><circle cx="1395.73" cy="159.27" r="1.42" fill="#fff" opacity="0.22"/><circle cx="1282.6" cy="168.18" r="3.16" fill="#6b462c"/><circle cx="1281.65" cy="167.23" r="1.42" fill="#fff" opacity="0.22"/><circle cx="1317.7" cy="168.18" r="3.16" fill="#6b462c"/><circle cx="1316.75" cy="167.23" r="1.42" fill="#fff" opacity="0.22"/><circle cx="1335.25" cy="168.18" r="3.16" fill="#6b462c"/><circle cx="1334.3" cy="167.23" r="1.42" fill="#fff" opacity="0.22"/><circle cx="1370.35" cy="168.18" r="3.16" fill="#6b462c"/><circle cx="1369.4" cy="167.23" r="1.42" fill="#fff" opacity="0.22"/><circle cx="1387.9" cy="168.18" r="3.16" fill="#6b462c"/><circle cx="1386.95" cy="167.23" r="1.42" fill="#fff" opacity="0.22"/><circle cx="1291.38" cy="176.14" r="3.16" fill="#654025"/><circle cx="1290.43" cy="175.19" r="1.42" fill="#fff" opacity="0.22"/><circle cx="1308.92" cy="176.14" r="3.16" fill="#654025"/><circle cx="1307.98" cy="175.19" r="1.42" fill="#fff" opacity="0.22"/><circle cx="1344.02" cy="176.14" r="3.16" fill="#654025"/><circle cx="1343.08" cy="175.19" r="1.42" fill="#fff" opacity="0.22"/><circle cx="1361.57" cy="176.14" r="3.16" fill="#654025"/><circle cx="1360.63" cy="175.19" r="1.42" fill="#fff" opacity="0.22"/><circle cx="1396.67" cy="176.14" r="3.16" fill="#654025"/><circle cx="1395.73" cy="175.19" r="1.42" fill="#fff" opacity="0.22"/><circle cx="1282.6" cy="184.1" r="3.16" fill="#5e391f"/><circle cx="1281.65" cy="183.15" r="1.42" fill="#fff" opacity="0.22"/><circle cx="1317.7" cy="184.1" r="3.16" fill="#5e391f"/><circle cx="1316.75" cy="183.15" r="1.42" fill="#fff" opacity="0.22"/><circle cx="1335.25" cy="184.1" r="3.16" fill="#5e391f"/><circle cx="1334.3" cy="183.15" r="1.42" fill="#fff" opacity="0.22"/><circle cx="1370.35" cy="184.1" r="3.16" fill="#5e391f"/><circle cx="1369.4" cy="183.15" r="1.42" fill="#fff" opacity="0.22"/><circle cx="1387.9" cy="184.1" r="3.16" fill="#5e391f"/><circle cx="1386.95" cy="183.15" r="1.42" fill="#fff" opacity="0.22"/><circle cx="1352.8" cy="141.4" r="5.79" fill="url(#atGr)"/><circle cx="1327.1" cy="145.2" r="5.79" fill="url(#atBl)"/></g>
<g><line x1="1327.1" y1="145.2" x2="1324.7" y2="137.7" stroke="#1a22b0" stroke-width="2.63"/><line x1="1322.3" y1="130.2" x2="1324.7" y2="137.7" stroke="#e02020" stroke-width="2.63"/><line x1="1322.3" y1="130.2" x2="1329.6" y2="120.1" stroke="#f4c4c8" stroke-width="1.76"/><circle cx="1329.6" cy="120.1" r="2.11" fill="#fbe6e8" stroke="#f0b8be" stroke-width="0.6"/><circle cx="1322.3" cy="130.2" r="3.86" fill="url(#atO)"/></g>
<circle cx="1340.3" cy="131.4" r="2.1" fill="#fbe6e8" stroke="#f0b8be" stroke-width="0.6"/>
<rect x="856.5" y="27" width="549.7" height="395.7" fill="none" stroke="#000" stroke-width="2"/>
<line x1="848.4" y1="388.5" x2="856.5" y2="388.5" stroke="#000" stroke-width="2" stroke-linecap="butt"/>
<text x="825.57" y="394" font-size="20.5" fill="#000" text-anchor="start" font-weight="normal">-1</text>
<line x1="848.4" y1="319.1" x2="856.5" y2="319.1" stroke="#000" stroke-width="2" stroke-linecap="butt"/>
<text x="832.4" y="324.6" font-size="20.5" fill="#000" text-anchor="start" font-weight="normal">0</text>
<line x1="848.4" y1="249.7" x2="856.5" y2="249.7" stroke="#000" stroke-width="2" stroke-linecap="butt"/>
<text x="832.4" y="255.2" font-size="20.5" fill="#000" text-anchor="start" font-weight="normal">1</text>
<line x1="848.4" y1="180.3" x2="856.5" y2="180.3" stroke="#000" stroke-width="2" stroke-linecap="butt"/>
<text x="832.4" y="185.8" font-size="20.5" fill="#000" text-anchor="start" font-weight="normal">2</text>
<line x1="848.4" y1="110.9" x2="856.5" y2="110.9" stroke="#000" stroke-width="2" stroke-linecap="butt"/>
<text x="832.4" y="116.4" font-size="20.5" fill="#000" text-anchor="start" font-weight="normal">3</text>
<line x1="848.4" y1="41.5" x2="856.5" y2="41.5" stroke="#000" stroke-width="2" stroke-linecap="butt"/>
<text x="832.4" y="47" font-size="20.5" fill="#000" text-anchor="start" font-weight="normal">4</text>
<line x1="852.8" y1="353.8" x2="856.5" y2="353.8" stroke="#000" stroke-width="2" stroke-linecap="butt"/>
<line x1="852.8" y1="284.4" x2="856.5" y2="284.4" stroke="#000" stroke-width="2" stroke-linecap="butt"/>
<line x1="852.8" y1="215" x2="856.5" y2="215" stroke="#000" stroke-width="2" stroke-linecap="butt"/>
<line x1="852.8" y1="145.6" x2="856.5" y2="145.6" stroke="#000" stroke-width="2" stroke-linecap="butt"/>
<line x1="852.8" y1="76.2" x2="856.5" y2="76.2" stroke="#000" stroke-width="2" stroke-linecap="butt"/>
<line x1="852.8" y1="422.7" x2="856.5" y2="422.7" stroke="#000" stroke-width="2" stroke-linecap="butt"/>
<polyline points="870.9,318.3 945.5,318.3 1020.2,363.2 1094.2,363.2 1168.2,132.4" fill="none" stroke="#000000" stroke-width="1.8" stroke-linecap="butt" stroke-dasharray="4.4 3.4"/>
<polyline points="1243.1,132.4 1316.8,284 1390.9,284" fill="none" stroke="#000000" stroke-width="1.8" stroke-linecap="butt" stroke-dasharray="4.4 3.4"/>
<line x1="1168.2" y1="132.4" x2="1243.1" y2="132.4" stroke="#000000" stroke-width="2.4" stroke-linecap="butt"/>
<polyline points="870.9,318.3 945.5,318.3 1020.2,381.1 1094.2,381.1 1168.2,216.3" fill="none" stroke="#0000ff" stroke-width="1.8" stroke-linecap="butt" stroke-dasharray="4.4 3.4"/>
<polyline points="1243.1,216.3 1316.8,335.6 1390.9,335.6" fill="none" stroke="#0000ff" stroke-width="1.8" stroke-linecap="butt" stroke-dasharray="4.4 3.4"/>
<line x1="1168.2" y1="216.3" x2="1243.1" y2="216.3" stroke="#0000ff" stroke-width="2.4" stroke-linecap="butt"/>
<polyline points="870.9,318.3 945.5,318.3 1020.2,384.9 1094.2,384.9 1168.2,168.1" fill="none" stroke="#ff0000" stroke-width="1.8" stroke-linecap="butt" stroke-dasharray="4.4 3.4"/>
<polyline points="1243.1,168.1 1316.8,327.8 1390.9,327.8" fill="none" stroke="#ff0000" stroke-width="1.8" stroke-linecap="butt" stroke-dasharray="4.4 3.4"/>
<line x1="1168.2" y1="168.1" x2="1243.1" y2="168.1" stroke="#ff0000" stroke-width="2.4" stroke-linecap="butt"/>
<polyline points="870.9,318.3 945.5,318.3 1020.2,391.7 1094.2,391.7 1168.2,217.8" fill="none" stroke="#ff00ff" stroke-width="1.8" stroke-linecap="butt" stroke-dasharray="4.4 3.4"/>
<polyline points="1243.1,217.8 1316.8,385.6 1390.9,385.6" fill="none" stroke="#ff00ff" stroke-width="1.8" stroke-linecap="butt" stroke-dasharray="4.4 3.4"/>
<line x1="1168.2" y1="217.8" x2="1243.1" y2="217.8" stroke="#ff00ff" stroke-width="2.4" stroke-linecap="butt"/>
<polyline points="870.9,318.3 945.5,318.3 1020.2,372 1094.2,372 1168.2,79.4" fill="none" stroke="#008000" stroke-width="1.8" stroke-linecap="butt" stroke-dasharray="4.4 3.4"/>
<polyline points="1243.1,79.4 1316.8,254.8 1390.9,254.8" fill="none" stroke="#008000" stroke-width="1.8" stroke-linecap="butt" stroke-dasharray="4.4 3.4"/>
<line x1="1168.2" y1="79.4" x2="1243.1" y2="79.4" stroke="#008000" stroke-width="2.4" stroke-linecap="butt"/>
<polyline points="870.9,318.3 945.5,318.3 1020.2,374.7 1094.2,374.7 1168.2,170.9" fill="none" stroke="#000080" stroke-width="1.8" stroke-linecap="butt" stroke-dasharray="4.4 3.4"/>
<polyline points="1243.1,170.9 1316.8,334.7 1390.9,334.7" fill="none" stroke="#000080" stroke-width="1.8" stroke-linecap="butt" stroke-dasharray="4.4 3.4"/>
<line x1="1168.2" y1="170.9" x2="1243.1" y2="170.9" stroke="#000080" stroke-width="2.4" stroke-linecap="butt"/>
<polyline points="870.9,318.3 945.5,318.3 1020.2,369.3 1094.2,369.3 1168.2,185" fill="none" stroke="#8000ff" stroke-width="1.8" stroke-linecap="butt" stroke-dasharray="4.4 3.4"/>
<polyline points="1243.1,185 1316.8,366.5 1390.9,366.5" fill="none" stroke="#8000ff" stroke-width="1.8" stroke-linecap="butt" stroke-dasharray="4.4 3.4"/>
<line x1="1168.2" y1="185" x2="1243.1" y2="185" stroke="#8000ff" stroke-width="2.4" stroke-linecap="butt"/>
<polyline points="870.9,318.3 945.5,318.3 1020.2,412.1 1094.2,412.1 1168.2,219.6" fill="none" stroke="#800080" stroke-width="1.8" stroke-linecap="butt" stroke-dasharray="4.4 3.4"/>
<polyline points="1243.1,219.6 1316.8,400.9 1390.9,400.9" fill="none" stroke="#800080" stroke-width="1.8" stroke-linecap="butt" stroke-dasharray="4.4 3.4"/>
<line x1="1168.2" y1="219.6" x2="1243.1" y2="219.6" stroke="#800080" stroke-width="2.4" stroke-linecap="butt"/>
<circle cx="870.9" cy="318.3" r="5.2" fill="url(#sp1c1c1c)"/>
<circle cx="945.5" cy="318.3" r="5.2" fill="url(#sp1c1c1c)"/>
<circle cx="1020.2" cy="363.2" r="5.2" fill="url(#sp1c1c1c)"/>
<circle cx="1094.2" cy="363.2" r="5.2" fill="url(#sp1c1c1c)"/>
<circle cx="1168.2" cy="132.4" r="5.2" fill="url(#sp1c1c1c)"/>
<circle cx="1243.1" cy="132.4" r="5.2" fill="url(#sp1c1c1c)"/>
<circle cx="1316.8" cy="284" r="5.2" fill="url(#sp1c1c1c)"/>
<circle cx="1390.9" cy="284" r="5.2" fill="url(#sp1c1c1c)"/>
<circle cx="870.9" cy="318.3" r="5.2" fill="url(#sp0000ff)"/>
<circle cx="945.5" cy="318.3" r="5.2" fill="url(#sp0000ff)"/>
<circle cx="1020.2" cy="381.1" r="5.2" fill="url(#sp0000ff)"/>
<circle cx="1094.2" cy="381.1" r="5.2" fill="url(#sp0000ff)"/>
<circle cx="1168.2" cy="216.3" r="5.2" fill="url(#sp0000ff)"/>
<circle cx="1243.1" cy="216.3" r="5.2" fill="url(#sp0000ff)"/>
<circle cx="1316.8" cy="335.6" r="5.2" fill="url(#sp0000ff)"/>
<circle cx="1390.9" cy="335.6" r="5.2" fill="url(#sp0000ff)"/>
<circle cx="870.9" cy="318.3" r="5.2" fill="url(#spff0000)"/>
<circle cx="945.5" cy="318.3" r="5.2" fill="url(#spff0000)"/>
<circle cx="1020.2" cy="384.9" r="5.2" fill="url(#spff0000)"/>
<circle cx="1094.2" cy="384.9" r="5.2" fill="url(#spff0000)"/>
<circle cx="1168.2" cy="168.1" r="5.2" fill="url(#spff0000)"/>
<circle cx="1243.1" cy="168.1" r="5.2" fill="url(#spff0000)"/>
<circle cx="1316.8" cy="327.8" r="5.2" fill="url(#spff0000)"/>
<circle cx="1390.9" cy="327.8" r="5.2" fill="url(#spff0000)"/>
<circle cx="870.9" cy="318.3" r="5.2" fill="url(#spff00ff)"/>
<circle cx="945.5" cy="318.3" r="5.2" fill="url(#spff00ff)"/>
<circle cx="1020.2" cy="391.7" r="5.2" fill="url(#spff00ff)"/>
<circle cx="1094.2" cy="391.7" r="5.2" fill="url(#spff00ff)"/>
<circle cx="1168.2" cy="217.8" r="5.2" fill="url(#spff00ff)"/>
<circle cx="1243.1" cy="217.8" r="5.2" fill="url(#spff00ff)"/>
<circle cx="1316.8" cy="385.6" r="5.2" fill="url(#spff00ff)"/>
<circle cx="1390.9" cy="385.6" r="5.2" fill="url(#spff00ff)"/>
<circle cx="870.9" cy="318.3" r="5.2" fill="url(#sp1a8c1a)"/>
<circle cx="945.5" cy="318.3" r="5.2" fill="url(#sp1a8c1a)"/>
<circle cx="1020.2" cy="372" r="5.2" fill="url(#sp1a8c1a)"/>
<circle cx="1094.2" cy="372" r="5.2" fill="url(#sp1a8c1a)"/>
<circle cx="1168.2" cy="79.4" r="5.2" fill="url(#sp1a8c1a)"/>
<circle cx="1243.1" cy="79.4" r="5.2" fill="url(#sp1a8c1a)"/>
<circle cx="1316.8" cy="254.8" r="5.2" fill="url(#sp1a8c1a)"/>
<circle cx="1390.9" cy="254.8" r="5.2" fill="url(#sp1a8c1a)"/>
<circle cx="870.9" cy="318.3" r="5.2" fill="url(#sp000080)"/>
<circle cx="945.5" cy="318.3" r="5.2" fill="url(#sp000080)"/>
<circle cx="1020.2" cy="374.7" r="5.2" fill="url(#sp000080)"/>
<circle cx="1094.2" cy="374.7" r="5.2" fill="url(#sp000080)"/>
<circle cx="1168.2" cy="170.9" r="5.2" fill="url(#sp000080)"/>
<circle cx="1243.1" cy="170.9" r="5.2" fill="url(#sp000080)"/>
<circle cx="1316.8" cy="334.7" r="5.2" fill="url(#sp000080)"/>
<circle cx="1390.9" cy="334.7" r="5.2" fill="url(#sp000080)"/>
<circle cx="870.9" cy="318.3" r="5.2" fill="url(#sp8000ff)"/>
<circle cx="945.5" cy="318.3" r="5.2" fill="url(#sp8000ff)"/>
<circle cx="1020.2" cy="369.3" r="5.2" fill="url(#sp8000ff)"/>
<circle cx="1094.2" cy="369.3" r="5.2" fill="url(#sp8000ff)"/>
<circle cx="1168.2" cy="185" r="5.2" fill="url(#sp8000ff)"/>
<circle cx="1243.1" cy="185" r="5.2" fill="url(#sp8000ff)"/>
<circle cx="1316.8" cy="366.5" r="5.2" fill="url(#sp8000ff)"/>
<circle cx="1390.9" cy="366.5" r="5.2" fill="url(#sp8000ff)"/>
<circle cx="870.9" cy="318.3" r="5.2" fill="url(#sp800080)"/>
<circle cx="945.5" cy="318.3" r="5.2" fill="url(#sp800080)"/>
<circle cx="1020.2" cy="412.1" r="5.2" fill="url(#sp800080)"/>
<circle cx="1094.2" cy="412.1" r="5.2" fill="url(#sp800080)"/>
<circle cx="1168.2" cy="219.6" r="5.2" fill="url(#sp800080)"/>
<circle cx="1243.1" cy="219.6" r="5.2" fill="url(#sp800080)"/>
<circle cx="1316.8" cy="400.9" r="5.2" fill="url(#sp800080)"/>
<circle cx="1390.9" cy="400.9" r="5.2" fill="url(#sp800080)"/>
<line x1="917.3" y1="38.8" x2="921.3" y2="38.8" stroke="#000000" stroke-width="2" stroke-linecap="butt"/>
<line x1="924.6" y1="38.8" x2="928.5" y2="38.8" stroke="#000000" stroke-width="2" stroke-linecap="butt"/>
<line x1="931.7" y1="38.8" x2="936.3" y2="38.8" stroke="#000000" stroke-width="2" stroke-linecap="butt"/>
<line x1="946.8" y1="38.8" x2="950.6" y2="38.8" stroke="#000000" stroke-width="2" stroke-linecap="butt"/>
<line x1="953.3" y1="38.8" x2="957.1" y2="38.8" stroke="#000000" stroke-width="2" stroke-linecap="butt"/>
<circle cx="941.3" cy="38.8" r="5.6" fill="url(#sp1c1c1c)"/>
<text x="971.4" y="45.4" font-size="18.5" fill="#000" text-anchor="start" font-weight="normal" textLength="50.6" lengthAdjust="spacingAndGlyphs">CoCu</text>
<line x1="1027.8" y1="38.8" x2="1031.8" y2="38.8" stroke="#0000ff" stroke-width="2" stroke-linecap="butt"/>
<line x1="1035.1" y1="38.8" x2="1039" y2="38.8" stroke="#0000ff" stroke-width="2" stroke-linecap="butt"/>
<line x1="1042.2" y1="38.8" x2="1046.8" y2="38.8" stroke="#0000ff" stroke-width="2" stroke-linecap="butt"/>
<line x1="1057.3" y1="38.8" x2="1061.1" y2="38.8" stroke="#0000ff" stroke-width="2" stroke-linecap="butt"/>
<line x1="1063.8" y1="38.8" x2="1067.6" y2="38.8" stroke="#0000ff" stroke-width="2" stroke-linecap="butt"/>
<circle cx="1051.8" cy="38.8" r="5.6" fill="url(#sp0000ff)"/>
<text x="1081.9" y="45.4" font-size="18.5" fill="#000" text-anchor="start" font-weight="normal" textLength="44.3" lengthAdjust="spacingAndGlyphs">NiCo</text>
<line x1="1131.5" y1="38.8" x2="1135.5" y2="38.8" stroke="#ff0000" stroke-width="2" stroke-linecap="butt"/>
<line x1="1138.8" y1="38.8" x2="1142.7" y2="38.8" stroke="#ff0000" stroke-width="2" stroke-linecap="butt"/>
<line x1="1145.9" y1="38.8" x2="1150.5" y2="38.8" stroke="#ff0000" stroke-width="2" stroke-linecap="butt"/>
<line x1="1161" y1="38.8" x2="1164.8" y2="38.8" stroke="#ff0000" stroke-width="2" stroke-linecap="butt"/>
<line x1="1167.5" y1="38.8" x2="1171.3" y2="38.8" stroke="#ff0000" stroke-width="2" stroke-linecap="butt"/>
<circle cx="1155.5" cy="38.8" r="5.6" fill="url(#spff0000)"/>
<text x="1185.4" y="45.4" font-size="18.5" fill="#000" text-anchor="start" font-weight="normal" textLength="48.8" lengthAdjust="spacingAndGlyphs">CoFe</text>
<line x1="1240.2" y1="38.8" x2="1244.2" y2="38.8" stroke="#ff00ff" stroke-width="2" stroke-linecap="butt"/>
<line x1="1247.5" y1="38.8" x2="1251.4" y2="38.8" stroke="#ff00ff" stroke-width="2" stroke-linecap="butt"/>
<line x1="1254.6" y1="38.8" x2="1259.2" y2="38.8" stroke="#ff00ff" stroke-width="2" stroke-linecap="butt"/>
<line x1="1269.7" y1="38.8" x2="1273.5" y2="38.8" stroke="#ff00ff" stroke-width="2" stroke-linecap="butt"/>
<line x1="1276.2" y1="38.8" x2="1280" y2="38.8" stroke="#ff00ff" stroke-width="2" stroke-linecap="butt"/>
<circle cx="1264.2" cy="38.8" r="4.6" fill="url(#spff00ff)"/>
<text x="1293.6" y="45.4" font-size="18.5" fill="#000" text-anchor="start" font-weight="normal" textLength="53.4" lengthAdjust="spacingAndGlyphs">CoMn</text>
<line x1="917.3" y1="64" x2="921.3" y2="64" stroke="#008000" stroke-width="2" stroke-linecap="butt"/>
<line x1="924.6" y1="64" x2="928.5" y2="64" stroke="#008000" stroke-width="2" stroke-linecap="butt"/>
<line x1="931.7" y1="64" x2="936.3" y2="64" stroke="#008000" stroke-width="2" stroke-linecap="butt"/>
<line x1="946.8" y1="64" x2="950.6" y2="64" stroke="#008000" stroke-width="2" stroke-linecap="butt"/>
<line x1="953.3" y1="64" x2="957.1" y2="64" stroke="#008000" stroke-width="2" stroke-linecap="butt"/>
<circle cx="941.3" cy="64" r="5.6" fill="url(#sp1a8c1a)"/>
<text x="971.4" y="70.6" font-size="18.5" fill="#000" text-anchor="start" font-weight="normal" textLength="50.6" lengthAdjust="spacingAndGlyphs">CuCu</text>
<line x1="1027.8" y1="64" x2="1031.8" y2="64" stroke="#000080" stroke-width="2" stroke-linecap="butt"/>
<line x1="1035.1" y1="64" x2="1039" y2="64" stroke="#000080" stroke-width="2" stroke-linecap="butt"/>
<line x1="1042.2" y1="64" x2="1046.8" y2="64" stroke="#000080" stroke-width="2" stroke-linecap="butt"/>
<line x1="1057.3" y1="64" x2="1061.1" y2="64" stroke="#000080" stroke-width="2" stroke-linecap="butt"/>
<line x1="1063.8" y1="64" x2="1067.6" y2="64" stroke="#000080" stroke-width="2" stroke-linecap="butt"/>
<circle cx="1051.8" cy="64" r="4.6" fill="url(#sp000080)"/>
<text x="1081.9" y="70.6" font-size="18.5" fill="#000" text-anchor="start" font-weight="normal" textLength="51" lengthAdjust="spacingAndGlyphs">CoCo</text>
<line x1="1139" y1="64" x2="1143" y2="64" stroke="#8000ff" stroke-width="2" stroke-linecap="butt"/>
<line x1="1146.3" y1="64" x2="1150.2" y2="64" stroke="#8000ff" stroke-width="2" stroke-linecap="butt"/>
<line x1="1153.4" y1="64" x2="1158" y2="64" stroke="#8000ff" stroke-width="2" stroke-linecap="butt"/>
<line x1="1168.5" y1="64" x2="1172.3" y2="64" stroke="#8000ff" stroke-width="2" stroke-linecap="butt"/>
<line x1="1175" y1="64" x2="1178.8" y2="64" stroke="#8000ff" stroke-width="2" stroke-linecap="butt"/>
<circle cx="1163" cy="64" r="5.6" fill="url(#sp8000ff)"/>
<text x="1192.9" y="70.6" font-size="18.5" fill="#000" text-anchor="start" font-weight="normal" textLength="45.8" lengthAdjust="spacingAndGlyphs">FeFe</text>
<line x1="1244.8" y1="64" x2="1248.8" y2="64" stroke="#800080" stroke-width="2" stroke-linecap="butt"/>
<line x1="1252.1" y1="64" x2="1256" y2="64" stroke="#800080" stroke-width="2" stroke-linecap="butt"/>
<line x1="1259.2" y1="64" x2="1263.8" y2="64" stroke="#800080" stroke-width="2" stroke-linecap="butt"/>
<line x1="1274.3" y1="64" x2="1278.1" y2="64" stroke="#800080" stroke-width="2" stroke-linecap="butt"/>
<line x1="1280.8" y1="64" x2="1284.6" y2="64" stroke="#800080" stroke-width="2" stroke-linecap="butt"/>
<circle cx="1268.8" cy="64" r="5.6" fill="url(#sp800080)"/>
<text x="1298" y="70.6" font-size="18.5" fill="#000" text-anchor="start" font-weight="normal" textLength="55.7" lengthAdjust="spacingAndGlyphs">MnMn</text>
<text transform="translate(814 349.57) rotate(-90)" x="0" y="0" font-size="31.5" fill="#000" text-anchor="start" font-weight="normal" textLength="259.47" lengthAdjust="spacingAndGlyphs">Kinetic barrier (eV)</text>
<text x="882.2" y="444.6" font-size="20.5" fill="#000" text-anchor="start" font-weight="normal">*+H<tspan font-size="13.5" dy="8.3">2</tspan><tspan dy="-8.3">O</tspan></text>
<text x="1038.3" y="446.8" font-size="20.5" fill="#000" text-anchor="start" font-weight="normal">H<tspan font-size="13.5" dy="8.3">2</tspan><tspan dy="-8.3">O*</tspan></text>
<text x="1198.44" y="446.6" font-size="20.5" fill="#000" text-anchor="start" font-weight="normal" textLength="26.4" lengthAdjust="spacingAndGlyphs">TS</text>
<text x="1320.9" y="445.5" font-size="20.5" fill="#000" text-anchor="start" font-weight="normal" textLength="68.84" lengthAdjust="spacingAndGlyphs">H*-OH*</text>
<text x="1019.95" y="484.6" font-size="30.8" fill="#000" text-anchor="start" font-weight="normal" textLength="245.51" lengthAdjust="spacingAndGlyphs">Reaction pathway</text>
<text x="1434.36" y="25.9" font-size="36" fill="#000" text-anchor="start" font-weight="normal" textLength="20.15" lengthAdjust="spacingAndGlyphs">d</text>
<line x1="1546.3" y1="71" x2="1923.5" y2="333" stroke="#000" stroke-width="2" stroke-linecap="butt" stroke-dasharray="5 3.6"/>
<rect x="1513" y="26.9" width="480.8" height="392.7" fill="none" stroke="#000" stroke-width="2.2"/>
<line x1="1504.5" y1="419.5" x2="1513" y2="419.5" stroke="#000" stroke-width="2" stroke-linecap="butt"/>
<text x="1471.6" y="425.1" font-size="20.5" fill="#000" text-anchor="start" font-weight="normal">2.0</text>
<line x1="1508.6" y1="380.23" x2="1513" y2="380.23" stroke="#000" stroke-width="2" stroke-linecap="butt"/>
<line x1="1504.5" y1="340.95" x2="1513" y2="340.95" stroke="#000" stroke-width="2" stroke-linecap="butt"/>
<text x="1471.6" y="346.55" font-size="20.5" fill="#000" text-anchor="start" font-weight="normal">2.5</text>
<line x1="1508.6" y1="301.68" x2="1513" y2="301.68" stroke="#000" stroke-width="2" stroke-linecap="butt"/>
<line x1="1504.5" y1="262.4" x2="1513" y2="262.4" stroke="#000" stroke-width="2" stroke-linecap="butt"/>
<text x="1471.6" y="268" font-size="20.5" fill="#000" text-anchor="start" font-weight="normal">3.0</text>
<line x1="1508.6" y1="223.12" x2="1513" y2="223.12" stroke="#000" stroke-width="2" stroke-linecap="butt"/>
<line x1="1504.5" y1="183.85" x2="1513" y2="183.85" stroke="#000" stroke-width="2" stroke-linecap="butt"/>
<text x="1471.6" y="189.45" font-size="20.5" fill="#000" text-anchor="start" font-weight="normal">3.5</text>
<line x1="1508.6" y1="144.57" x2="1513" y2="144.57" stroke="#000" stroke-width="2" stroke-linecap="butt"/>
<line x1="1504.5" y1="105.3" x2="1513" y2="105.3" stroke="#000" stroke-width="2" stroke-linecap="butt"/>
<text x="1471.6" y="110.9" font-size="20.5" fill="#000" text-anchor="start" font-weight="normal">4.0</text>
<line x1="1508.6" y1="66.03" x2="1513" y2="66.03" stroke="#000" stroke-width="2" stroke-linecap="butt"/>
<line x1="1504.5" y1="26.75" x2="1513" y2="26.75" stroke="#000" stroke-width="2" stroke-linecap="butt"/>
<text x="1471.6" y="32.35" font-size="20.5" fill="#000" text-anchor="start" font-weight="normal">4.5</text>
<line x1="1552.42" y1="419.6" x2="1552.42" y2="428.4" stroke="#000" stroke-width="2" stroke-linecap="butt"/>
<text x="1534.24" y="448.7" font-size="20.5" fill="#000" text-anchor="start" font-weight="normal">-2.8</text>
<line x1="1629.06" y1="419.6" x2="1629.06" y2="428.4" stroke="#000" stroke-width="2" stroke-linecap="butt"/>
<text x="1610.72" y="448.7" font-size="20.5" fill="#000" text-anchor="start" font-weight="normal">-2.4</text>
<line x1="1705.7" y1="419.6" x2="1705.7" y2="428.4" stroke="#000" stroke-width="2" stroke-linecap="butt"/>
<text x="1687.47" y="448.7" font-size="20.5" fill="#000" text-anchor="start" font-weight="normal">-2.0</text>
<line x1="1782.34" y1="419.6" x2="1782.34" y2="428.4" stroke="#000" stroke-width="2" stroke-linecap="butt"/>
<text x="1764.16" y="448.7" font-size="20.5" fill="#000" text-anchor="start" font-weight="normal">-1.6</text>
<line x1="1858.98" y1="419.6" x2="1858.98" y2="428.4" stroke="#000" stroke-width="2" stroke-linecap="butt"/>
<text x="1840.88" y="448.7" font-size="20.5" fill="#000" text-anchor="start" font-weight="normal">-1.2</text>
<line x1="1935.62" y1="419.6" x2="1935.62" y2="428.4" stroke="#000" stroke-width="2" stroke-linecap="butt"/>
<text x="1917.44" y="448.7" font-size="20.5" fill="#000" text-anchor="start" font-weight="normal">-0.8</text>
<line x1="1590.74" y1="419.6" x2="1590.74" y2="424.2" stroke="#000" stroke-width="2" stroke-linecap="butt"/>
<line x1="1667.38" y1="419.6" x2="1667.38" y2="424.2" stroke="#000" stroke-width="2" stroke-linecap="butt"/>
<line x1="1744.02" y1="419.6" x2="1744.02" y2="424.2" stroke="#000" stroke-width="2" stroke-linecap="butt"/>
<line x1="1820.66" y1="419.6" x2="1820.66" y2="424.2" stroke="#000" stroke-width="2" stroke-linecap="butt"/>
<line x1="1897.3" y1="419.6" x2="1897.3" y2="424.2" stroke="#000" stroke-width="2" stroke-linecap="butt"/>
<line x1="1973.94" y1="419.6" x2="1973.94" y2="424.2" stroke="#000" stroke-width="2" stroke-linecap="butt"/>
<circle cx="1546.3" cy="71" r="7.6" fill="url(#sp1a8c1a)"/>
<circle cx="1768.6" cy="210.7" r="7.6" fill="url(#sp1c1c1c)"/>
<circle cx="1883.9" cy="245.4" r="7.6" fill="url(#spff0000)"/>
<circle cx="1801.4" cy="272" r="7.6" fill="url(#sp000080)"/>
<circle cx="1919.1" cy="300.2" r="7.6" fill="url(#sp800080)"/>
<circle cx="1887.7" cy="318.6" r="7.6" fill="url(#sp8000ff)"/>
<circle cx="1902.3" cy="333.2" r="7.6" fill="url(#spff00ff)"/>
<circle cx="1923.2" cy="338.2" r="7.6" fill="url(#sp0000ff)"/>
<text x="1530.4" y="56" font-size="19.4" fill="#008000" text-anchor="start" font-weight="bold" textLength="53.11" lengthAdjust="spacingAndGlyphs">CuCu</text>
<text x="1783.92" y="217.2" font-size="19.4" fill="#000000" text-anchor="start" font-weight="bold" textLength="52.18" lengthAdjust="spacingAndGlyphs">CoCu</text>
<text x="1896.72" y="252.1" font-size="19.4" fill="#ff0000" text-anchor="start" font-weight="bold" textLength="48.51" lengthAdjust="spacingAndGlyphs">CoFe</text>
<text x="1738.52" y="279.9" font-size="19.4" fill="#000080" text-anchor="start" font-weight="bold" textLength="52.14" lengthAdjust="spacingAndGlyphs">CoCo</text>
<text x="1931.05" y="306.2" font-size="19.4" fill="#800080" text-anchor="start" font-weight="bold" textLength="57.55" lengthAdjust="spacingAndGlyphs">MnMn</text>
<text x="1829.27" y="324.9" font-size="19.4" fill="#8000ff" text-anchor="start" font-weight="bold" textLength="45.9" lengthAdjust="spacingAndGlyphs">FeFe</text>
<text x="1838.82" y="348.3" font-size="19.4" fill="#ff00ff" text-anchor="start" font-weight="bold" textLength="54.29" lengthAdjust="spacingAndGlyphs">CoMn</text>
<text x="1936.36" y="348.3" font-size="19.4" fill="#0000ff" text-anchor="start" font-weight="bold" textLength="46.19" lengthAdjust="spacingAndGlyphs">NiCo</text>
<text transform="translate(1455.7 346.96) rotate(-90)" x="0" y="0" font-size="31" fill="#000" text-anchor="start" font-weight="normal" textLength="258.35" lengthAdjust="spacingAndGlyphs">Kinetic barrier (eV)</text>
<text x="1636.78" y="485.8" font-size="30" fill="#000" text-anchor="start" font-weight="normal" textLength="259.29" lengthAdjust="spacingAndGlyphs">D-band center (eV)</text>
<text x="782.24" y="510.8" font-size="36" fill="#000" text-anchor="start" font-weight="normal" textLength="20.47" lengthAdjust="spacingAndGlyphs">e</text>
<rect x="857.4" y="522.6" width="550" height="396.6" fill="none" stroke="#000" stroke-width="2.2"/>
<line x1="848.9" y1="536.32" x2="857.4" y2="536.32" stroke="#000" stroke-width="2" stroke-linecap="butt"/>
<text x="815.5" y="541.82" font-size="20.5" fill="#000" text-anchor="start" font-weight="normal">0.8</text>
<line x1="848.9" y1="591.84" x2="857.4" y2="591.84" stroke="#000" stroke-width="2" stroke-linecap="butt"/>
<text x="815.5" y="597.34" font-size="20.5" fill="#000" text-anchor="start" font-weight="normal">0.6</text>
<line x1="848.9" y1="647.36" x2="857.4" y2="647.36" stroke="#000" stroke-width="2" stroke-linecap="butt"/>
<text x="815.5" y="652.86" font-size="20.5" fill="#000" text-anchor="start" font-weight="normal">0.4</text>
<line x1="848.9" y1="702.88" x2="857.4" y2="702.88" stroke="#000" stroke-width="2" stroke-linecap="butt"/>
<text x="815.5" y="708.38" font-size="20.5" fill="#000" text-anchor="start" font-weight="normal">0.2</text>
<line x1="848.9" y1="758.4" x2="857.4" y2="758.4" stroke="#000" stroke-width="2" stroke-linecap="butt"/>
<text x="815.5" y="763.9" font-size="20.5" fill="#000" text-anchor="start" font-weight="normal">0.0</text>
<line x1="848.9" y1="813.92" x2="857.4" y2="813.92" stroke="#000" stroke-width="2" stroke-linecap="butt"/>
<text x="808.67" y="819.42" font-size="20.5" fill="#000" text-anchor="start" font-weight="normal">-0.2</text>
<line x1="848.9" y1="869.44" x2="857.4" y2="869.44" stroke="#000" stroke-width="2" stroke-linecap="butt"/>
<text x="808.67" y="874.94" font-size="20.5" fill="#000" text-anchor="start" font-weight="normal">-0.4</text>
<line x1="853.2" y1="564.08" x2="857.4" y2="564.08" stroke="#000" stroke-width="2" stroke-linecap="butt"/>
<line x1="853.2" y1="619.6" x2="857.4" y2="619.6" stroke="#000" stroke-width="2" stroke-linecap="butt"/>
<line x1="853.2" y1="675.12" x2="857.4" y2="675.12" stroke="#000" stroke-width="2" stroke-linecap="butt"/>
<line x1="853.2" y1="730.64" x2="857.4" y2="730.64" stroke="#000" stroke-width="2" stroke-linecap="butt"/>
<line x1="853.2" y1="786.16" x2="857.4" y2="786.16" stroke="#000" stroke-width="2" stroke-linecap="butt"/>
<line x1="853.2" y1="841.68" x2="857.4" y2="841.68" stroke="#000" stroke-width="2" stroke-linecap="butt"/>
<line x1="859" y1="758.2" x2="1404" y2="758.2" stroke="#333" stroke-width="1.4" stroke-linecap="butt" stroke-dasharray="6 2.5 1.5 2.5"/>
<line x1="1014.1" y1="758.2" x2="1092.6" y2="723.3" stroke="#000000" stroke-width="1.8" stroke-linecap="butt" stroke-dasharray="5 3.4"/>
<line x1="1171.4" y1="723.3" x2="1249.6" y2="758.2" stroke="#000000" stroke-width="1.8" stroke-linecap="butt" stroke-dasharray="5 3.4"/>
<line x1="1014.1" y1="758.2" x2="1092.6" y2="852.2" stroke="#0000ff" stroke-width="1.8" stroke-linecap="butt" stroke-dasharray="5 3.4"/>
<line x1="1171.4" y1="852.2" x2="1249.6" y2="758.2" stroke="#0000ff" stroke-width="1.8" stroke-linecap="butt" stroke-dasharray="5 3.4"/>
<line x1="1014.1" y1="758.2" x2="1092.6" y2="791.5" stroke="#ff0000" stroke-width="1.8" stroke-linecap="butt" stroke-dasharray="5 3.4"/>
<line x1="1171.4" y1="791.5" x2="1249.6" y2="758.2" stroke="#ff0000" stroke-width="1.8" stroke-linecap="butt" stroke-dasharray="5 3.4"/>
<line x1="1014.1" y1="758.2" x2="1092.6" y2="885.1" stroke="#ff00ff" stroke-width="1.8" stroke-linecap="butt" stroke-dasharray="5 3.4"/>
<line x1="1171.4" y1="885.1" x2="1249.6" y2="758.2" stroke="#ff00ff" stroke-width="1.8" stroke-linecap="butt" stroke-dasharray="5 3.4"/>
<line x1="1014.1" y1="758.2" x2="1092.6" y2="541.2" stroke="#008000" stroke-width="1.8" stroke-linecap="butt" stroke-dasharray="5 3.4"/>
<line x1="1171.4" y1="541.2" x2="1249.6" y2="758.2" stroke="#008000" stroke-width="1.8" stroke-linecap="butt" stroke-dasharray="5 3.4"/>
<line x1="1014.1" y1="758.2" x2="1092.6" y2="856.5" stroke="#000080" stroke-width="1.8" stroke-linecap="butt" stroke-dasharray="5 3.4"/>
<line x1="1171.4" y1="856.5" x2="1249.6" y2="758.2" stroke="#000080" stroke-width="1.8" stroke-linecap="butt" stroke-dasharray="5 3.4"/>
<line x1="1014.1" y1="758.2" x2="1092.6" y2="888.4" stroke="#8000ff" stroke-width="1.8" stroke-linecap="butt" stroke-dasharray="5 3.4"/>
<line x1="1171.4" y1="888.4" x2="1249.6" y2="758.2" stroke="#8000ff" stroke-width="1.8" stroke-linecap="butt" stroke-dasharray="5 3.4"/>
<line x1="1014.1" y1="758.2" x2="1092.6" y2="795.1" stroke="#800080" stroke-width="1.8" stroke-linecap="butt" stroke-dasharray="5 3.4"/>
<line x1="1171.4" y1="795.1" x2="1249.6" y2="758.2" stroke="#800080" stroke-width="1.8" stroke-linecap="butt" stroke-dasharray="5 3.4"/>
<line x1="1092.6" y1="723.3" x2="1171.4" y2="723.3" stroke="#000000" stroke-width="2.2" stroke-linecap="butt"/>
<line x1="1092.6" y1="852.2" x2="1171.4" y2="852.2" stroke="#0000ff" stroke-width="2.2" stroke-linecap="butt"/>
<line x1="1092.6" y1="791.5" x2="1171.4" y2="791.5" stroke="#ff0000" stroke-width="2.2" stroke-linecap="butt"/>
<line x1="1092.6" y1="885.1" x2="1171.4" y2="885.1" stroke="#ff00ff" stroke-width="2.2" stroke-linecap="butt"/>
<line x1="1092.6" y1="541.2" x2="1171.4" y2="541.2" stroke="#008000" stroke-width="2.2" stroke-linecap="butt"/>
<line x1="1092.6" y1="856.5" x2="1171.4" y2="856.5" stroke="#000080" stroke-width="2.2" stroke-linecap="butt"/>
<line x1="1092.6" y1="888.4" x2="1171.4" y2="888.4" stroke="#8000ff" stroke-width="2.2" stroke-linecap="butt"/>
<line x1="1092.6" y1="795.1" x2="1171.4" y2="795.1" stroke="#800080" stroke-width="2.2" stroke-linecap="butt"/>
<circle cx="1092.6" cy="723.3" r="4.7" fill="url(#sp1c1c1c)"/>
<circle cx="1171.4" cy="723.3" r="4.7" fill="url(#sp1c1c1c)"/>
<circle cx="1092.6" cy="852.2" r="4.7" fill="url(#sp0000ff)"/>
<circle cx="1171.4" cy="852.2" r="4.7" fill="url(#sp0000ff)"/>
<circle cx="1092.6" cy="791.5" r="4.7" fill="url(#spff0000)"/>
<circle cx="1171.4" cy="791.5" r="4.7" fill="url(#spff0000)"/>
<circle cx="1092.6" cy="885.1" r="4.7" fill="url(#spff00ff)"/>
<circle cx="1171.4" cy="885.1" r="4.7" fill="url(#spff00ff)"/>
<circle cx="1092.6" cy="541.2" r="4.7" fill="url(#sp1a8c1a)"/>
<circle cx="1171.4" cy="541.2" r="4.7" fill="url(#sp1a8c1a)"/>
<circle cx="1092.6" cy="856.5" r="4.7" fill="url(#sp000080)"/>
<circle cx="1171.4" cy="856.5" r="4.7" fill="url(#sp000080)"/>
<circle cx="1092.6" cy="888.4" r="4.7" fill="url(#sp8000ff)"/>
<circle cx="1171.4" cy="888.4" r="4.7" fill="url(#sp8000ff)"/>
<circle cx="1092.6" cy="795.1" r="4.7" fill="url(#sp800080)"/>
<circle cx="1171.4" cy="795.1" r="4.7" fill="url(#sp800080)"/>
<line x1="935.5" y1="758.2" x2="1014.1" y2="758.2" stroke="#000" stroke-width="2.4" stroke-linecap="butt"/>
<line x1="1249.6" y1="758.2" x2="1328.6" y2="758.2" stroke="#000" stroke-width="2.4" stroke-linecap="butt"/>
<circle cx="935.5" cy="758.2" r="4.7" fill="url(#sp202020)"/>
<circle cx="1014.1" cy="758.2" r="4.7" fill="url(#sp202020)"/>
<circle cx="1249.6" cy="758.2" r="4.7" fill="url(#sp202020)"/>
<circle cx="1328.6" cy="758.2" r="4.7" fill="url(#sp202020)"/>
<text x="1105.19" y="562.3" font-size="20.2" fill="#008000" text-anchor="start" font-weight="bold" textLength="53.84" lengthAdjust="spacingAndGlyphs">CuCu</text>
<text x="1105.19" y="711.8" font-size="20.2" fill="#000000" text-anchor="start" font-weight="bold" textLength="53.84" lengthAdjust="spacingAndGlyphs">CoCu</text>
<text x="1107.69" y="784.1" font-size="20.2" fill="#ff0000" text-anchor="start" font-weight="bold" textLength="50.47" lengthAdjust="spacingAndGlyphs">CoFe</text>
<text x="1104.24" y="816.3" font-size="20.2" fill="#800080" text-anchor="start" font-weight="bold" textLength="58.17" lengthAdjust="spacingAndGlyphs">MnMn</text>
<text x="1110.02" y="845.1" font-size="20.2" fill="#0000ff" text-anchor="start" font-weight="bold" textLength="47.55" lengthAdjust="spacingAndGlyphs">NiCo</text>
<text x="1106.21" y="876.3" font-size="20.2" fill="#000080" text-anchor="start" font-weight="bold" textLength="52.76" lengthAdjust="spacingAndGlyphs">CoCo</text>
<text x="1027.19" y="893.8" font-size="20.2" fill="#ff00ff" text-anchor="start" font-weight="bold" textLength="56.26" lengthAdjust="spacingAndGlyphs">CoMn</text>
<text x="1180.25" y="896.8" font-size="20.2" fill="#8000ff" text-anchor="start" font-weight="bold" textLength="46.73" lengthAdjust="spacingAndGlyphs">FeFe</text>
<text x="948.25" y="749" font-size="19.2" fill="#000" text-anchor="start" font-weight="bold" textLength="44.66" lengthAdjust="spacingAndGlyphs">* + H</text>
<text x="992.21" y="737.6" font-size="12.5" fill="#000" text-anchor="start" font-weight="bold" textLength="8.06" lengthAdjust="spacingAndGlyphs">+</text>
<text x="1247.65" y="742.1" font-size="18.8" fill="#000" text-anchor="start" font-weight="bold" textLength="79.2" lengthAdjust="spacingAndGlyphs">* + 1/2 H</text>
<text x="1325.81" y="750.2" font-size="13" fill="#000" text-anchor="start" font-weight="bold" textLength="7.72" lengthAdjust="spacingAndGlyphs">2</text>
<text transform="translate(793.2 836.77) rotate(-90)" x="0" y="0" font-size="31" fill="#000" text-anchor="start" font-weight="normal" textLength="239.33" lengthAdjust="spacingAndGlyphs">Free Energy (eV)</text>
<text x="1005.25" y="955.8" font-size="30.7" fill="#000" text-anchor="start" font-weight="normal" textLength="281.52" lengthAdjust="spacingAndGlyphs">Reaction Coordinate</text>
<text x="1442.6" y="508.8" font-size="36" fill="#000" text-anchor="start" font-weight="normal" textLength="11.11" lengthAdjust="spacingAndGlyphs">f</text>
<rect x="1518.8" y="889.69" width="23.8" height="24.51" fill="url(#gblk)"/>
<rect x="1542.6" y="743.39" width="24.3" height="170.81" fill="url(#gred)"/>
<rect x="1579" y="846.59" width="23.8" height="67.61" fill="url(#gblk)"/>
<rect x="1602.8" y="822.47" width="24.3" height="91.73" fill="url(#gred)"/>
<rect x="1639.2" y="904.12" width="23.8" height="10.08" fill="url(#gblk)"/>
<rect x="1663" y="821.08" width="24.3" height="93.12" fill="url(#gred)"/>
<rect x="1699.4" y="823.46" width="23.8" height="90.74" fill="url(#gblk)"/>
<rect x="1723.2" y="867.74" width="24.3" height="46.46" fill="url(#gred)"/>
<rect x="1759.6" y="759.99" width="23.8" height="154.21" fill="url(#gblk)"/>
<rect x="1783.4" y="583.65" width="24.3" height="330.55" fill="url(#gred)"/>
<rect x="1819.8" y="844.41" width="23.8" height="69.79" fill="url(#gblk)"/>
<rect x="1843.6" y="752.48" width="24.3" height="161.72" fill="url(#gred)"/>
<rect x="1880" y="821.68" width="23.8" height="92.52" fill="url(#gblk)"/>
<rect x="1903.8" y="903.33" width="24.3" height="10.87" fill="url(#gred)"/>
<rect x="1940.2" y="887.51" width="23.8" height="26.69" fill="url(#gblk)"/>
<rect x="1964" y="644.54" width="24.3" height="269.66" fill="url(#gred)"/>
<rect x="1512.7" y="518.8" width="481.1" height="395.4" fill="none" stroke="#000" stroke-width="2.2"/>
<line x1="1504.5" y1="914.2" x2="1512.7" y2="914.2" stroke="#000" stroke-width="2" stroke-linecap="butt"/>
<text x="1470.8" y="920" font-size="20.5" fill="#000" text-anchor="start" font-weight="normal">0.0</text>
<line x1="1508.5" y1="874.66" x2="1512.7" y2="874.66" stroke="#000" stroke-width="2" stroke-linecap="butt"/>
<line x1="1504.5" y1="835.12" x2="1512.7" y2="835.12" stroke="#000" stroke-width="2" stroke-linecap="butt"/>
<text x="1470.8" y="840.92" font-size="20.5" fill="#000" text-anchor="start" font-weight="normal">0.4</text>
<line x1="1508.5" y1="795.58" x2="1512.7" y2="795.58" stroke="#000" stroke-width="2" stroke-linecap="butt"/>
<line x1="1504.5" y1="756.04" x2="1512.7" y2="756.04" stroke="#000" stroke-width="2" stroke-linecap="butt"/>
<text x="1470.8" y="761.84" font-size="20.5" fill="#000" text-anchor="start" font-weight="normal">0.8</text>
<line x1="1508.5" y1="716.5" x2="1512.7" y2="716.5" stroke="#000" stroke-width="2" stroke-linecap="butt"/>
<line x1="1504.5" y1="676.96" x2="1512.7" y2="676.96" stroke="#000" stroke-width="2" stroke-linecap="butt"/>
<text x="1470.8" y="682.76" font-size="20.5" fill="#000" text-anchor="start" font-weight="normal">1.2</text>
<line x1="1508.5" y1="637.42" x2="1512.7" y2="637.42" stroke="#000" stroke-width="2" stroke-linecap="butt"/>
<line x1="1504.5" y1="597.88" x2="1512.7" y2="597.88" stroke="#000" stroke-width="2" stroke-linecap="butt"/>
<text x="1470.8" y="603.68" font-size="20.5" fill="#000" text-anchor="start" font-weight="normal">1.6</text>
<line x1="1508.5" y1="558.34" x2="1512.7" y2="558.34" stroke="#000" stroke-width="2" stroke-linecap="butt"/>
<line x1="1504.5" y1="518.8" x2="1512.7" y2="518.8" stroke="#000" stroke-width="2" stroke-linecap="butt"/>
<text x="1470.8" y="524.6" font-size="20.5" fill="#000" text-anchor="start" font-weight="normal">2.0</text>
<line x1="1542.6" y1="914.2" x2="1542.6" y2="923" stroke="#000" stroke-width="2" stroke-linecap="butt"/>
<text x="1516.2" y="943.2" font-size="20" fill="#000" text-anchor="start" font-weight="bold">CoCu</text>
<line x1="1602.8" y1="914.2" x2="1602.8" y2="923" stroke="#000" stroke-width="2" stroke-linecap="butt"/>
<text x="1579.17" y="943.2" font-size="20" fill="#000" text-anchor="start" font-weight="bold">NiCo</text>
<line x1="1663" y1="914.2" x2="1663" y2="923" stroke="#000" stroke-width="2" stroke-linecap="butt"/>
<text x="1637.92" y="943.2" font-size="20" fill="#000" text-anchor="start" font-weight="bold">CoFe</text>
<line x1="1723.2" y1="914.2" x2="1723.2" y2="923" stroke="#000" stroke-width="2" stroke-linecap="butt"/>
<text x="1695.65" y="943.2" font-size="20" fill="#000" text-anchor="start" font-weight="bold">CoMn</text>
<line x1="1783.4" y1="914.2" x2="1783.4" y2="923" stroke="#000" stroke-width="2" stroke-linecap="butt"/>
<text x="1757" y="943.2" font-size="20" fill="#000" text-anchor="start" font-weight="bold">CuCu</text>
<line x1="1843.6" y1="914.2" x2="1843.6" y2="923" stroke="#000" stroke-width="2" stroke-linecap="butt"/>
<text x="1816.92" y="943.2" font-size="20" fill="#000" text-anchor="start" font-weight="bold">CoCo</text>
<line x1="1903.8" y1="914.2" x2="1903.8" y2="923" stroke="#000" stroke-width="2" stroke-linecap="butt"/>
<text x="1880.12" y="943.2" font-size="20" fill="#000" text-anchor="start" font-weight="bold">FeFe</text>
<line x1="1964" y1="914.2" x2="1964" y2="923" stroke="#000" stroke-width="2" stroke-linecap="butt"/>
<text x="1935.05" y="943.2" font-size="20" fill="#000" text-anchor="start" font-weight="bold">MnMn</text>
<rect x="1522.4" y="530.3" width="45.6" height="21.5" fill="url(#gblk)"/>
<rect x="1522.4" y="562.7" width="45.6" height="22" fill="url(#gred)"/>
<text x="1573.3" y="548.1" font-size="19" fill="#000" text-anchor="start" font-weight="normal">&#916;G<tspan font-size="12.5" dy="7.3">H*</tspan></text>
<text x="1573.3" y="580.5" font-size="19" fill="#000" text-anchor="start" font-weight="normal">&#916;G<tspan font-size="12.5" dy="7.3">OH*</tspan></text>
<text transform="translate(1456.9 907.86) rotate(-90)" x="0" y="0" font-size="31" fill="#000" text-anchor="start" font-weight="normal" textLength="379.44" lengthAdjust="spacingAndGlyphs">Free energy difference (eV)</text>
<text x="-0.45" y="510.8" font-size="36" fill="#000" text-anchor="start" font-weight="normal" textLength="20.15" lengthAdjust="spacingAndGlyphs">b</text>
<g transform="translate(34.1 528.2)"><g clip-path="url(#clip_CoCu)"><path d="M-52.35 0.8L-34.65 0.8M-52.35 0.8L-61.2 16.4M-34.65 0.8L-25.8 16.4M0.75 0.8L18.45 0.8M0.75 0.8L-8.1 16.4M18.45 0.8L27.3 16.4M53.85 0.8L71.55 0.8M53.85 0.8L45 16.4M71.55 0.8L80.4 16.4M106.95 0.8L124.65 0.8M106.95 0.8L98.1 16.4M124.65 0.8L133.5 16.4M160.05 0.8L177.75 0.8M160.05 0.8L151.2 16.4M177.75 0.8L186.6 16.4M213.15 0.8L230.85 0.8M213.15 0.8L204.3 16.4M230.85 0.8L239.7 16.4M-25.8 16.4L-8.1 16.4M-25.8 16.4L-34.65 32M-8.1 16.4L0.75 32M27.3 16.4L45 16.4M27.3 16.4L18.45 32M45 16.4L53.85 32M80.4 16.4L98.1 16.4M80.4 16.4L71.55 32M98.1 16.4L106.95 32M133.5 16.4L151.2 16.4M133.5 16.4L124.65 32M151.2 16.4L160.05 32M186.6 16.4L204.3 16.4M186.6 16.4L177.75 32M204.3 16.4L213.15 32M239.7 16.4L257.4 16.4M239.7 16.4L230.85 32M257.4 16.4L266.25 32M-52.35 32L-34.65 32M-52.35 32L-61.2 47.6M-34.65 32L-25.8 47.6M0.75 32L18.45 32M0.75 32L-8.1 47.6M18.45 32L27.3 47.6M53.85 32L71.55 32M53.85 32L45 47.6M71.55 32L80.4 47.6M106.95 32L124.65 32M106.95 32L98.1 47.6M124.65 32L133.5 47.6M160.05 32L177.75 32M160.05 32L151.2 47.6M177.75 32L186.6 47.6M213.15 32L230.85 32M213.15 32L204.3 47.6M230.85 32L239.7 47.6M-25.8 47.6L-8.1 47.6M-25.8 47.6L-34.65 63.2M-8.1 47.6L0.75 63.2M27.3 47.6L45 47.6M27.3 47.6L18.45 63.2M45 47.6L53.85 63.2M80.4 47.6L98.1 47.6M80.4 47.6L71.55 63.2M98.1 47.6L106.95 63.2M133.5 47.6L151.2 47.6M133.5 47.6L124.65 63.2M151.2 47.6L160.05 63.2M186.6 47.6L204.3 47.6M186.6 47.6L177.75 63.2M204.3 47.6L213.15 63.2M239.7 47.6L257.4 47.6M239.7 47.6L230.85 63.2M257.4 47.6L266.25 63.2M-52.35 63.2L-34.65 63.2M-52.35 63.2L-61.2 78.8M-34.65 63.2L-25.8 78.8M0.75 63.2L18.45 63.2M0.75 63.2L-8.1 78.8M18.45 63.2L27.3 78.8M53.85 63.2L71.55 63.2M53.85 63.2L45 78.8M71.55 63.2L80.4 78.8M106.95 63.2L124.65 63.2M106.95 63.2L98.1 78.8M124.65 63.2L133.5 78.8M160.05 63.2L177.75 63.2M160.05 63.2L151.2 78.8M177.75 63.2L186.6 78.8M213.15 63.2L230.85 63.2M213.15 63.2L204.3 78.8M230.85 63.2L239.7 78.8M-25.8 78.8L-8.1 78.8M-25.8 78.8L-34.65 94.4M-8.1 78.8L0.75 94.4M27.3 78.8L45 78.8M27.3 78.8L18.45 94.4M45 78.8L53.85 94.4M80.4 78.8L98.1 78.8M80.4 78.8L71.55 94.4M98.1 78.8L106.95 94.4M133.5 78.8L151.2 78.8M133.5 78.8L124.65 94.4M151.2 78.8L160.05 94.4M186.6 78.8L204.3 78.8M186.6 78.8L177.75 94.4M204.3 78.8L213.15 94.4M239.7 78.8L257.4 78.8M239.7 78.8L230.85 94.4M257.4 78.8L266.25 94.4M-52.35 94.4L-34.65 94.4M-52.35 94.4L-61.2 110M-34.65 94.4L-25.8 110M0.75 94.4L18.45 94.4M0.75 94.4L-8.1 110M18.45 94.4L27.3 110M53.85 94.4L71.55 94.4M53.85 94.4L45 110M71.55 94.4L80.4 110M106.95 94.4L124.65 94.4M106.95 94.4L98.1 110M124.65 94.4L133.5 110M160.05 94.4L177.75 94.4M160.05 94.4L151.2 110M177.75 94.4L186.6 110M213.15 94.4L230.85 94.4M213.15 94.4L204.3 110M230.85 94.4L239.7 110M-25.8 110L-8.1 110M-25.8 110L-34.65 125.6M-8.1 110L0.75 125.6M27.3 110L45 110M27.3 110L18.45 125.6M45 110L53.85 125.6M80.4 110L98.1 110M80.4 110L71.55 125.6M98.1 110L106.95 125.6M133.5 110L151.2 110M133.5 110L124.65 125.6M151.2 110L160.05 125.6M186.6 110L204.3 110M186.6 110L177.75 125.6M204.3 110L213.15 125.6M239.7 110L257.4 110M239.7 110L230.85 125.6M257.4 110L266.25 125.6M-52.35 125.6L-34.65 125.6M-52.35 125.6L-61.2 141.2M-34.65 125.6L-25.8 141.2M0.75 125.6L18.45 125.6M0.75 125.6L-8.1 141.2M18.45 125.6L27.3 141.2M53.85 125.6L71.55 125.6M53.85 125.6L45 141.2M71.55 125.6L80.4 141.2M106.95 125.6L124.65 125.6M106.95 125.6L98.1 141.2M124.65 125.6L133.5 141.2M160.05 125.6L177.75 125.6M160.05 125.6L151.2 141.2M177.75 125.6L186.6 141.2M213.15 125.6L230.85 125.6M213.15 125.6L204.3 141.2M230.85 125.6L239.7 141.2M-25.8 141.2L-8.1 141.2M-25.8 141.2L-34.65 156.8M-8.1 141.2L0.75 156.8M27.3 141.2L45 141.2M27.3 141.2L18.45 156.8M45 141.2L53.85 156.8M80.4 141.2L98.1 141.2M80.4 141.2L71.55 156.8M98.1 141.2L106.95 156.8M133.5 141.2L151.2 141.2M133.5 141.2L124.65 156.8M151.2 141.2L160.05 156.8M186.6 141.2L204.3 141.2M186.6 141.2L177.75 156.8M204.3 141.2L213.15 156.8M239.7 141.2L257.4 141.2M239.7 141.2L230.85 156.8M257.4 141.2L266.25 156.8M-52.35 156.8L-34.65 156.8M0.75 156.8L18.45 156.8M53.85 156.8L71.55 156.8M106.95 156.8L124.65 156.8M160.05 156.8L177.75 156.8M213.15 156.8L230.85 156.8" stroke="#a47858" stroke-width="2.7" fill="none"/><circle cx="0.75" cy="0.8" r="3.5" fill="url(#atC2)"/><circle cx="18.45" cy="0.8" r="3.5" fill="url(#atC2)"/><circle cx="53.85" cy="0.8" r="3.5" fill="url(#atC2)"/><circle cx="71.55" cy="0.8" r="3.5" fill="url(#atC2)"/><circle cx="106.95" cy="0.8" r="3.5" fill="url(#atC2)"/><circle cx="124.65" cy="0.8" r="3.5" fill="url(#atC2)"/><circle cx="160.05" cy="0.8" r="3.5" fill="url(#atC2)"/><circle cx="27.3" cy="16.4" r="3.5" fill="url(#atC2)"/><circle cx="45" cy="16.4" r="3.5" fill="url(#atC2)"/><circle cx="80.4" cy="16.4" r="3.5" fill="url(#atC2)"/><circle cx="98.1" cy="16.4" r="3.5" fill="url(#atC2)"/><circle cx="133.5" cy="16.4" r="3.5" fill="url(#atC2)"/><circle cx="151.2" cy="16.4" r="3.5" fill="url(#atC2)"/><circle cx="0.75" cy="32" r="3.5" fill="url(#atC2)"/><circle cx="18.45" cy="32" r="3.5" fill="url(#atC2)"/><circle cx="53.85" cy="32" r="3.5" fill="url(#atC2)"/><circle cx="71.55" cy="32" r="3.5" fill="url(#atC2)"/><circle cx="106.95" cy="32" r="3.5" fill="url(#atC2)"/><circle cx="124.65" cy="32" r="3.5" fill="url(#atC2)"/><circle cx="160.05" cy="32" r="3.5" fill="url(#atC2)"/><circle cx="27.3" cy="47.6" r="3.5" fill="url(#atC2)"/><circle cx="45" cy="47.6" r="3.5" fill="url(#atC2)"/><circle cx="80.4" cy="47.6" r="3.5" fill="url(#atC2)"/><circle cx="98.1" cy="47.6" r="3.5" fill="url(#atC2)"/><circle cx="133.5" cy="47.6" r="3.5" fill="url(#atC2)"/><circle cx="151.2" cy="47.6" r="3.5" fill="url(#atC2)"/><circle cx="0.75" cy="63.2" r="3.5" fill="url(#atC2)"/><circle cx="18.45" cy="63.2" r="3.5" fill="url(#atC2)"/><circle cx="53.85" cy="63.2" r="3.5" fill="url(#atC2)"/><circle cx="71.55" cy="63.2" r="3.5" fill="url(#atC2)"/><circle cx="106.95" cy="63.2" r="3.5" fill="url(#atC2)"/><circle cx="124.65" cy="63.2" r="3.5" fill="url(#atC2)"/><circle cx="160.05" cy="63.2" r="3.5" fill="url(#atC2)"/><circle cx="27.3" cy="78.8" r="3.5" fill="url(#atC2)"/><circle cx="45" cy="78.8" r="3.5" fill="url(#atC2)"/><circle cx="80.4" cy="78.8" r="3.5" fill="url(#atC2)"/><circle cx="98.1" cy="78.8" r="3.5" fill="url(#atC2)"/><circle cx="133.5" cy="78.8" r="3.5" fill="url(#atC2)"/><circle cx="151.2" cy="78.8" r="3.5" fill="url(#atC2)"/><circle cx="0.75" cy="94.4" r="3.5" fill="url(#atC2)"/><circle cx="18.45" cy="94.4" r="3.5" fill="url(#atC2)"/><circle cx="53.85" cy="94.4" r="3.5" fill="url(#atC2)"/><circle cx="71.55" cy="94.4" r="3.5" fill="url(#atC2)"/><circle cx="106.95" cy="94.4" r="3.5" fill="url(#atC2)"/><circle cx="124.65" cy="94.4" r="3.5" fill="url(#atC2)"/><circle cx="160.05" cy="94.4" r="3.5" fill="url(#atC2)"/><circle cx="27.3" cy="110" r="3.5" fill="url(#atC2)"/><circle cx="45" cy="110" r="3.5" fill="url(#atC2)"/><circle cx="80.4" cy="110" r="3.5" fill="url(#atC2)"/><circle cx="98.1" cy="110" r="3.5" fill="url(#atC2)"/><circle cx="133.5" cy="110" r="3.5" fill="url(#atC2)"/><circle cx="151.2" cy="110" r="3.5" fill="url(#atC2)"/><circle cx="0.75" cy="125.6" r="3.5" fill="url(#atC2)"/><circle cx="18.45" cy="125.6" r="3.5" fill="url(#atC2)"/><circle cx="53.85" cy="125.6" r="3.5" fill="url(#atC2)"/><circle cx="71.55" cy="125.6" r="3.5" fill="url(#atC2)"/><circle cx="106.95" cy="125.6" r="3.5" fill="url(#atC2)"/><circle cx="124.65" cy="125.6" r="3.5" fill="url(#atC2)"/><circle cx="160.05" cy="125.6" r="3.5" fill="url(#atC2)"/><circle cx="27.3" cy="141.2" r="3.5" fill="url(#atC2)"/><circle cx="45" cy="141.2" r="3.5" fill="url(#atC2)"/><circle cx="80.4" cy="141.2" r="3.5" fill="url(#atC2)"/><circle cx="98.1" cy="141.2" r="3.5" fill="url(#atC2)"/><circle cx="133.5" cy="141.2" r="3.5" fill="url(#atC2)"/><circle cx="151.2" cy="141.2" r="3.5" fill="url(#atC2)"/><circle cx="0.75" cy="156.8" r="3.5" fill="url(#atC2)"/><circle cx="18.45" cy="156.8" r="3.5" fill="url(#atC2)"/><circle cx="53.85" cy="156.8" r="3.5" fill="url(#atC2)"/><circle cx="71.55" cy="156.8" r="3.5" fill="url(#atC2)"/><circle cx="106.95" cy="156.8" r="3.5" fill="url(#atC2)"/><circle cx="124.65" cy="156.8" r="3.5" fill="url(#atC2)"/><circle cx="160.05" cy="156.8" r="3.5" fill="url(#atC2)"/><ellipse cx="49" cy="50.5" rx="3.2" ry="2.6" transform="rotate(0 49 50.5)" fill="#8aee8a" stroke="#34b834" stroke-width="1.1"/><ellipse cx="20.2" cy="69" rx="2.8" ry="4.5" transform="rotate(0 20.2 69)" fill="#8aee8a" stroke="#34b834" stroke-width="1.1"/><ellipse cx="20.8" cy="86.3" rx="2.5" ry="3.2" transform="rotate(0 20.8 86.3)" fill="#8aee8a" stroke="#34b834" stroke-width="1.1"/><ellipse cx="20.3" cy="100.2" rx="2.6" ry="2" transform="rotate(0 20.3 100.2)" fill="#8aee8a" stroke="#34b834" stroke-width="1.1"/><ellipse cx="21.5" cy="115" rx="3" ry="4.5" transform="rotate(20 21.5 115)" fill="#8aee8a" stroke="#34b834" stroke-width="1.1"/><ellipse cx="52" cy="70" rx="2.5" ry="3.5" transform="rotate(0 52 70)" fill="#8aee8a" stroke="#34b834" stroke-width="1.1"/><ellipse cx="110" cy="70" rx="3" ry="3" transform="rotate(0 110 70)" fill="#8aee8a" stroke="#34b834" stroke-width="1.1"/><ellipse cx="116" cy="88" rx="3" ry="3.5" transform="rotate(0 116 88)" fill="#8aee8a" stroke="#34b834" stroke-width="1.1"/><ellipse cx="133" cy="60" rx="3" ry="3" transform="rotate(0 133 60)" fill="#8aee8a" stroke="#34b834" stroke-width="1.1"/><ellipse cx="137" cy="100" rx="3.2" ry="5" transform="rotate(0 137 100)" fill="#8aee8a" stroke="#34b834" stroke-width="1.1"/><ellipse cx="101" cy="33.5" rx="3" ry="2.5" transform="rotate(0 101 33.5)" fill="#8aee8a" stroke="#34b834" stroke-width="1.1"/><ellipse cx="112" cy="123" rx="3.5" ry="3" transform="rotate(0 112 123)" fill="#8aee8a" stroke="#34b834" stroke-width="1.1"/><ellipse cx="45" cy="102" rx="3" ry="2.5" transform="rotate(0 45 102)" fill="#8aee8a" stroke="#34b834" stroke-width="1.1"/><ellipse cx="104" cy="105" rx="3.5" ry="2.5" transform="rotate(0 104 105)" fill="#8aee8a" stroke="#34b834" stroke-width="1.1"/><ellipse cx="72" cy="100" rx="3" ry="2.5" transform="rotate(0 72 100)" fill="#8aee8a" stroke="#34b834" stroke-width="1.1"/><path d="M74.85 36.43Q84.99 33.17 95.27 37.23" fill="none" stroke="#34b834" stroke-width="6.2" stroke-linecap="round"/><path d="M74.85 36.43Q84.99 33.17 95.27 37.23" fill="none" stroke="#8aee8a" stroke-width="3.6" stroke-linecap="round"/><path d="M74.85 36.43Q84.99 33.17 95.27 37.23" fill="none" stroke="#b8f8b8" stroke-width="1.08" stroke-linecap="round" opacity="0.6"/><path d="M49.72 138.18Q63.48 130.78 77.39 138.65" fill="none" stroke="#34b834" stroke-width="6.2" stroke-linecap="round"/><path d="M49.72 138.18Q63.48 130.78 77.39 138.65" fill="none" stroke="#8aee8a" stroke-width="3.6" stroke-linecap="round"/><path d="M49.72 138.18Q63.48 130.78 77.39 138.65" fill="none" stroke="#b8f8b8" stroke-width="1.08" stroke-linecap="round" opacity="0.6"/><path d="M33.21 78.24Q37.49 66.57 49.7 63.27" fill="none" stroke="#34b834" stroke-width="11" stroke-linecap="round"/><path d="M33.21 78.24Q37.49 66.57 49.7 63.27" fill="none" stroke="#8aee8a" stroke-width="8.4" stroke-linecap="round"/><path d="M33.21 78.24Q37.49 66.57 49.7 63.27" fill="none" stroke="#b8f8b8" stroke-width="2.52" stroke-linecap="round" opacity="0.6"/><path d="M58.3 57.57Q63.5 50.73 74.44 50.06" fill="none" stroke="#34b834" stroke-width="11" stroke-linecap="round"/><path d="M58.3 57.57Q63.5 50.73 74.44 50.06" fill="none" stroke="#8aee8a" stroke-width="8.4" stroke-linecap="round"/><path d="M58.3 57.57Q63.5 50.73 74.44 50.06" fill="none" stroke="#b8f8b8" stroke-width="2.52" stroke-linecap="round" opacity="0.6"/><path d="M102.6 50.56Q113.08 53.56 118.97 60.59" fill="none" stroke="#34b834" stroke-width="11" stroke-linecap="round"/><path d="M102.6 50.56Q113.08 53.56 118.97 60.59" fill="none" stroke="#8aee8a" stroke-width="8.4" stroke-linecap="round"/><path d="M102.6 50.56Q113.08 53.56 118.97 60.59" fill="none" stroke="#b8f8b8" stroke-width="2.52" stroke-linecap="round" opacity="0.6"/><path d="M118.53 97.04Q115.78 107.77 103.73 110.68" fill="none" stroke="#34b834" stroke-width="11" stroke-linecap="round"/><path d="M118.53 97.04Q115.78 107.77 103.73 110.68" fill="none" stroke="#8aee8a" stroke-width="8.4" stroke-linecap="round"/><path d="M118.53 97.04Q115.78 107.77 103.73 110.68" fill="none" stroke="#b8f8b8" stroke-width="2.52" stroke-linecap="round" opacity="0.6"/><path d="M92.91 114.16Q89.08 122.4 77.66 122.63" fill="none" stroke="#34b834" stroke-width="11" stroke-linecap="round"/><path d="M92.91 114.16Q89.08 122.4 77.66 122.63" fill="none" stroke="#8aee8a" stroke-width="8.4" stroke-linecap="round"/><path d="M92.91 114.16Q89.08 122.4 77.66 122.63" fill="none" stroke="#b8f8b8" stroke-width="2.52" stroke-linecap="round" opacity="0.6"/><path d="M33.24 110.74Q36.28 121.83 50.73 123.62" fill="none" stroke="#34b834" stroke-width="11" stroke-linecap="round"/><path d="M33.24 110.74Q36.28 121.83 50.73 123.62" fill="none" stroke="#8aee8a" stroke-width="8.4" stroke-linecap="round"/><path d="M33.24 110.74Q36.28 121.83 50.73 123.62" fill="none" stroke="#b8f8b8" stroke-width="2.52" stroke-linecap="round" opacity="0.6"/><path d="M75 44 Q88 39 102 44 Q103 50 98 53 Q88 50 79 53 Q74 50 75 44Z" fill="url(#redg)" stroke="#bf1a1a" stroke-width="1.3"/><path d="M49.5 130 Q50 124 54 123 Q63 126 73 123 Q77.5 125 77 130 Q63 135.5 49.5 130Z" fill="url(#redg)" stroke="#bf1a1a" stroke-width="1.3"/><ellipse cx="26.5" cy="79.7" rx="4.4" ry="7.8" transform="rotate(8 26.5 79.7)" fill="url(#redg)" stroke="#bf1a1a" stroke-width="1.2"/><ellipse cx="20.6" cy="94.2" rx="4" ry="4" transform="rotate(0 20.6 94.2)" fill="url(#redg)" stroke="#bf1a1a" stroke-width="1.2"/><ellipse cx="131.2" cy="80.7" rx="5" ry="5" transform="rotate(0 131.2 80.7)" fill="url(#redg)" stroke="#bf1a1a" stroke-width="1.2"/><ellipse cx="124.4" cy="93.8" rx="3.7" ry="7.3" transform="rotate(12 124.4 93.8)" fill="url(#redg)" stroke="#bf1a1a" stroke-width="1.2"/><ellipse cx="44.7" cy="47.5" rx="3.6" ry="4.14" transform="rotate(0 44.7 47.5)" fill="url(#redg)" stroke="#bf1a1a" stroke-width="1.1"/><ellipse cx="53.5" cy="61.3" rx="3.6" ry="4.14" transform="rotate(0 53.5 61.3)" fill="url(#redg)" stroke="#bf1a1a" stroke-width="1.1"/><ellipse cx="27.2" cy="110.8" rx="3.8" ry="4.37" transform="rotate(0 27.2 110.8)" fill="url(#redg)" stroke="#bf1a1a" stroke-width="1.1"/><ellipse cx="106.2" cy="127.1" rx="3.6" ry="4.14" transform="rotate(0 106.2 127.1)" fill="url(#redg)" stroke="#bf1a1a" stroke-width="1.1"/><ellipse cx="98" cy="112" rx="3.6" ry="4.14" transform="rotate(0 98 112)" fill="url(#redg)" stroke="#bf1a1a" stroke-width="1.1"/><ellipse cx="97.9" cy="15.6" rx="3.4" ry="3.91" transform="rotate(0 97.9 15.6)" fill="url(#redg)" stroke="#bf1a1a" stroke-width="1.1"/><ellipse cx="110.5" cy="70.5" rx="3.2" ry="3.68" transform="rotate(0 110.5 70.5)" fill="url(#redg)" stroke="#bf1a1a" stroke-width="1.1"/><ellipse cx="54.2" cy="158.3" rx="3.5" ry="4.02" transform="rotate(0 54.2 158.3)" fill="url(#redg)" stroke="#bf1a1a" stroke-width="1.1"/><g transform="rotate(0 70.4 61.3)"><path d="M62.9 58.3 C64.4 54.3 69.4 56.3 70.4 58.8 C71.4 56.3 76.4 54.3 77.9 58.3 C78.9 64.3 73.4 67.3 70.4 64.3 C67.4 67.3 61.9 64.3 62.9 58.3Z" fill="url(#redg)" stroke="#bf1a1a" stroke-width="1.2"/><rect x="67.9" y="59.8" width="5" height="2.6" fill="#c8705a"/><circle cx="66.4" cy="60.8" r="2.3" fill="#d8b4d4"/><circle cx="74.4" cy="60.8" r="2.3" fill="#d8b4d4"/></g><g transform="rotate(-50 103.7 66.3)"><path d="M96.2 63.3 C97.7 59.3 102.7 61.3 103.7 63.8 C104.7 61.3 109.7 59.3 111.2 63.3 C112.2 69.3 106.7 72.3 103.7 69.3 C100.7 72.3 95.2 69.3 96.2 63.3Z" fill="url(#redg)" stroke="#bf1a1a" stroke-width="1.2"/><rect x="101.2" y="64.8" width="5" height="2.6" fill="#c8705a"/><circle cx="99.7" cy="65.8" r="2.3" fill="#d8b4d4"/><circle cx="107.7" cy="65.8" r="2.3" fill="#d8b4d4"/></g><g transform="rotate(35 47.2 76.9)"><path d="M39.7 73.9 C41.2 69.9 46.2 71.9 47.2 74.4 C48.2 71.9 53.2 69.9 54.7 73.9 C55.7 79.9 50.2 82.9 47.2 79.9 C44.2 82.9 38.7 79.9 39.7 73.9Z" fill="url(#redg)" stroke="#bf1a1a" stroke-width="1.2"/><rect x="44.7" y="75.4" width="5" height="2.6" fill="#c8705a"/><circle cx="43.2" cy="76.4" r="2.3" fill="#d8b4d4"/><circle cx="51.2" cy="76.4" r="2.3" fill="#d8b4d4"/></g><g transform="rotate(40 104.9 94.5)"><path d="M97.4 91.5 C98.9 87.5 103.9 89.5 104.9 92 C105.9 89.5 110.9 87.5 112.4 91.5 C113.4 97.5 107.9 100.5 104.9 97.5 C101.9 100.5 96.4 97.5 97.4 91.5Z" fill="url(#redg)" stroke="#bf1a1a" stroke-width="1.2"/><rect x="102.4" y="93" width="5" height="2.6" fill="#c8705a"/><circle cx="100.9" cy="94" r="2.3" fill="#d8b4d4"/><circle cx="108.9" cy="94" r="2.3" fill="#d8b4d4"/></g><g transform="rotate(-30 45.4 110.8)"><path d="M37.9 107.8 C39.4 103.8 44.4 105.8 45.4 108.3 C46.4 105.8 51.4 103.8 52.9 107.8 C53.9 113.8 48.4 116.8 45.4 113.8 C42.4 116.8 36.9 113.8 37.9 107.8Z" fill="url(#redg)" stroke="#bf1a1a" stroke-width="1.2"/><rect x="42.9" y="109.3" width="5" height="2.6" fill="#c8705a"/><circle cx="41.4" cy="110.3" r="2.3" fill="#d8b4d4"/><circle cx="49.4" cy="110.3" r="2.3" fill="#d8b4d4"/></g><g transform="rotate(0 79.2 110.8)"><path d="M71.7 107.8 C73.2 103.8 78.2 105.8 79.2 108.3 C80.2 105.8 85.2 103.8 86.7 107.8 C87.7 113.8 82.2 116.8 79.2 113.8 C76.2 116.8 70.7 113.8 71.7 107.8Z" fill="url(#redg)" stroke="#bf1a1a" stroke-width="1.2"/><rect x="76.7" y="109.3" width="5" height="2.6" fill="#c8705a"/><circle cx="75.2" cy="110.3" r="2.3" fill="#d8b4d4"/><circle cx="83.2" cy="110.3" r="2.3" fill="#d8b4d4"/></g><path d="M62 64 C68 58 76 60 76 66 C80 64 86 66 84 70 C80 72 78 72 77 75 C82 80 88 84 84 92 C80 98 76 92 72 96 C66 98 62 92 62 86 C60 78 58 70 62 64Z" fill="#8aee8a" stroke="#34b834" stroke-width="1.2"/><path d="M52 84 C46 92 48 106 58 110 C64 112 68 108 66 104 C60 104 56 100 58 94 C60 90 58 84 52 84Z" fill="url(#redg)" stroke="#bf1a1a" stroke-width="1.2"/><ellipse cx="62.2" cy="94.5" rx="4.5" ry="6.5" transform="rotate(15 62.2 94.5)" fill="#6a18b0" stroke="#d04040" stroke-width="1.5"/><ellipse cx="88.6" cy="78.2" rx="6" ry="4.8" transform="rotate(-10 88.6 78.2)" fill="#7a3ad0" stroke="#2a8a5a" stroke-width="1.6"/><ellipse cx="83" cy="85.5" rx="4" ry="2" transform="rotate(10 83 85.5)" fill="url(#redg)" stroke="#bf1a1a" stroke-width="1.2"/></g><rect x="110.1" y="-1" width="52" height="25.6" fill="#fff"/><rect x="0.5" y="0.5" width="159.6" height="157.3" fill="none" stroke="#b8b8b8" stroke-width="1" stroke-dasharray="1.5 2"/></g>
<text x="150.61" y="546.3" font-size="14.8" fill="#000" text-anchor="start" font-weight="bold" textLength="39.05" lengthAdjust="spacingAndGlyphs">CoCu</text>
<g transform="translate(220 528.1)"><g clip-path="url(#clip_NiCo)"><path d="M-52.35 0.8L-34.65 0.8M-52.35 0.8L-61.2 16.4M-34.65 0.8L-25.8 16.4M0.75 0.8L18.45 0.8M0.75 0.8L-8.1 16.4M18.45 0.8L27.3 16.4M53.85 0.8L71.55 0.8M53.85 0.8L45 16.4M71.55 0.8L80.4 16.4M106.95 0.8L124.65 0.8M106.95 0.8L98.1 16.4M124.65 0.8L133.5 16.4M160.05 0.8L177.75 0.8M160.05 0.8L151.2 16.4M177.75 0.8L186.6 16.4M213.15 0.8L230.85 0.8M213.15 0.8L204.3 16.4M230.85 0.8L239.7 16.4M-25.8 16.4L-8.1 16.4M-25.8 16.4L-34.65 32M-8.1 16.4L0.75 32M27.3 16.4L45 16.4M27.3 16.4L18.45 32M45 16.4L53.85 32M80.4 16.4L98.1 16.4M80.4 16.4L71.55 32M98.1 16.4L106.95 32M133.5 16.4L151.2 16.4M133.5 16.4L124.65 32M151.2 16.4L160.05 32M186.6 16.4L204.3 16.4M186.6 16.4L177.75 32M204.3 16.4L213.15 32M239.7 16.4L257.4 16.4M239.7 16.4L230.85 32M257.4 16.4L266.25 32M-52.35 32L-34.65 32M-52.35 32L-61.2 47.6M-34.65 32L-25.8 47.6M0.75 32L18.45 32M0.75 32L-8.1 47.6M18.45 32L27.3 47.6M53.85 32L71.55 32M53.85 32L45 47.6M71.55 32L80.4 47.6M106.95 32L124.65 32M106.95 32L98.1 47.6M124.65 32L133.5 47.6M160.05 32L177.75 32M160.05 32L151.2 47.6M177.75 32L186.6 47.6M213.15 32L230.85 32M213.15 32L204.3 47.6M230.85 32L239.7 47.6M-25.8 47.6L-8.1 47.6M-25.8 47.6L-34.65 63.2M-8.1 47.6L0.75 63.2M27.3 47.6L45 47.6M27.3 47.6L18.45 63.2M45 47.6L53.85 63.2M80.4 47.6L98.1 47.6M80.4 47.6L71.55 63.2M98.1 47.6L106.95 63.2M133.5 47.6L151.2 47.6M133.5 47.6L124.65 63.2M151.2 47.6L160.05 63.2M186.6 47.6L204.3 47.6M186.6 47.6L177.75 63.2M204.3 47.6L213.15 63.2M239.7 47.6L257.4 47.6M239.7 47.6L230.85 63.2M257.4 47.6L266.25 63.2M-52.35 63.2L-34.65 63.2M-52.35 63.2L-61.2 78.8M-34.65 63.2L-25.8 78.8M0.75 63.2L18.45 63.2M0.75 63.2L-8.1 78.8M18.45 63.2L27.3 78.8M53.85 63.2L71.55 63.2M53.85 63.2L45 78.8M71.55 63.2L80.4 78.8M106.95 63.2L124.65 63.2M106.95 63.2L98.1 78.8M124.65 63.2L133.5 78.8M160.05 63.2L177.75 63.2M160.05 63.2L151.2 78.8M177.75 63.2L186.6 78.8M213.15 63.2L230.85 63.2M213.15 63.2L204.3 78.8M230.85 63.2L239.7 78.8M-25.8 78.8L-8.1 78.8M-25.8 78.8L-34.65 94.4M-8.1 78.8L0.75 94.4M27.3 78.8L45 78.8M27.3 78.8L18.45 94.4M45 78.8L53.85 94.4M80.4 78.8L98.1 78.8M80.4 78.8L71.55 94.4M98.1 78.8L106.95 94.4M133.5 78.8L151.2 78.8M133.5 78.8L124.65 94.4M151.2 78.8L160.05 94.4M186.6 78.8L204.3 78.8M186.6 78.8L177.75 94.4M204.3 78.8L213.15 94.4M239.7 78.8L257.4 78.8M239.7 78.8L230.85 94.4M257.4 78.8L266.25 94.4M-52.35 94.4L-34.65 94.4M-52.35 94.4L-61.2 110M-34.65 94.4L-25.8 110M0.75 94.4L18.45 94.4M0.75 94.4L-8.1 110M18.45 94.4L27.3 110M53.85 94.4L71.55 94.4M53.85 94.4L45 110M71.55 94.4L80.4 110M106.95 94.4L124.65 94.4M106.95 94.4L98.1 110M124.65 94.4L133.5 110M160.05 94.4L177.75 94.4M160.05 94.4L151.2 110M177.75 94.4L186.6 110M213.15 94.4L230.85 94.4M213.15 94.4L204.3 110M230.85 94.4L239.7 110M-25.8 110L-8.1 110M-25.8 110L-34.65 125.6M-8.1 110L0.75 125.6M27.3 110L45 110M27.3 110L18.45 125.6M45 110L53.85 125.6M80.4 110L98.1 110M80.4 110L71.55 125.6M98.1 110L106.95 125.6M133.5 110L151.2 110M133.5 110L124.65 125.6M151.2 110L160.05 125.6M186.6 110L204.3 110M186.6 110L177.75 125.6M204.3 110L213.15 125.6M239.7 110L257.4 110M239.7 110L230.85 125.6M257.4 110L266.25 125.6M-52.35 125.6L-34.65 125.6M-52.35 125.6L-61.2 141.2M-34.65 125.6L-25.8 141.2M0.75 125.6L18.45 125.6M0.75 125.6L-8.1 141.2M18.45 125.6L27.3 141.2M53.85 125.6L71.55 125.6M53.85 125.6L45 141.2M71.55 125.6L80.4 141.2M106.95 125.6L124.65 125.6M106.95 125.6L98.1 141.2M124.65 125.6L133.5 141.2M160.05 125.6L177.75 125.6M160.05 125.6L151.2 141.2M177.75 125.6L186.6 141.2M213.15 125.6L230.85 125.6M213.15 125.6L204.3 141.2M230.85 125.6L239.7 141.2M-25.8 141.2L-8.1 141.2M-25.8 141.2L-34.65 156.8M-8.1 141.2L0.75 156.8M27.3 141.2L45 141.2M27.3 141.2L18.45 156.8M45 141.2L53.85 156.8M80.4 141.2L98.1 141.2M80.4 141.2L71.55 156.8M98.1 141.2L106.95 156.8M133.5 141.2L151.2 141.2M133.5 141.2L124.65 156.8M151.2 141.2L160.05 156.8M186.6 141.2L204.3 141.2M186.6 141.2L177.75 156.8M204.3 141.2L213.15 156.8M239.7 141.2L257.4 141.2M239.7 141.2L230.85 156.8M257.4 141.2L266.25 156.8M-52.35 156.8L-34.65 156.8M0.75 156.8L18.45 156.8M53.85 156.8L71.55 156.8M106.95 156.8L124.65 156.8M160.05 156.8L177.75 156.8M213.15 156.8L230.85 156.8" stroke="#a47858" stroke-width="2.7" fill="none"/><circle cx="0.75" cy="0.8" r="3.5" fill="url(#atC2)"/><circle cx="18.45" cy="0.8" r="3.5" fill="url(#atC2)"/><circle cx="53.85" cy="0.8" r="3.5" fill="url(#atC2)"/><circle cx="71.55" cy="0.8" r="3.5" fill="url(#atC2)"/><circle cx="106.95" cy="0.8" r="3.5" fill="url(#atC2)"/><circle cx="124.65" cy="0.8" r="3.5" fill="url(#atC2)"/><circle cx="160.05" cy="0.8" r="3.5" fill="url(#atC2)"/><circle cx="27.3" cy="16.4" r="3.5" fill="url(#atC2)"/><circle cx="45" cy="16.4" r="3.5" fill="url(#atC2)"/><circle cx="80.4" cy="16.4" r="3.5" fill="url(#atC2)"/><circle cx="98.1" cy="16.4" r="3.5" fill="url(#atC2)"/><circle cx="133.5" cy="16.4" r="3.5" fill="url(#atC2)"/><circle cx="151.2" cy="16.4" r="3.5" fill="url(#atC2)"/><circle cx="0.75" cy="32" r="3.5" fill="url(#atC2)"/><circle cx="18.45" cy="32" r="3.5" fill="url(#atC2)"/><circle cx="53.85" cy="32" r="3.5" fill="url(#atC2)"/><circle cx="71.55" cy="32" r="3.5" fill="url(#atC2)"/><circle cx="106.95" cy="32" r="3.5" fill="url(#atC2)"/><circle cx="124.65" cy="32" r="3.5" fill="url(#atC2)"/><circle cx="160.05" cy="32" r="3.5" fill="url(#atC2)"/><circle cx="27.3" cy="47.6" r="3.5" fill="url(#atC2)"/><circle cx="45" cy="47.6" r="3.5" fill="url(#atC2)"/><circle cx="80.4" cy="47.6" r="3.5" fill="url(#atC2)"/><circle cx="98.1" cy="47.6" r="3.5" fill="url(#atC2)"/><circle cx="133.5" cy="47.6" r="3.5" fill="url(#atC2)"/><circle cx="151.2" cy="47.6" r="3.5" fill="url(#atC2)"/><circle cx="0.75" cy="63.2" r="3.5" fill="url(#atC2)"/><circle cx="18.45" cy="63.2" r="3.5" fill="url(#atC2)"/><circle cx="53.85" cy="63.2" r="3.5" fill="url(#atC2)"/><circle cx="71.55" cy="63.2" r="3.5" fill="url(#atC2)"/><circle cx="106.95" cy="63.2" r="3.5" fill="url(#atC2)"/><circle cx="124.65" cy="63.2" r="3.5" fill="url(#atC2)"/><circle cx="160.05" cy="63.2" r="3.5" fill="url(#atC2)"/><circle cx="27.3" cy="78.8" r="3.5" fill="url(#atC2)"/><circle cx="45" cy="78.8" r="3.5" fill="url(#atC2)"/><circle cx="80.4" cy="78.8" r="3.5" fill="url(#atC2)"/><circle cx="98.1" cy="78.8" r="3.5" fill="url(#atC2)"/><circle cx="133.5" cy="78.8" r="3.5" fill="url(#atC2)"/><circle cx="151.2" cy="78.8" r="3.5" fill="url(#atC2)"/><circle cx="0.75" cy="94.4" r="3.5" fill="url(#atC2)"/><circle cx="18.45" cy="94.4" r="3.5" fill="url(#atC2)"/><circle cx="53.85" cy="94.4" r="3.5" fill="url(#atC2)"/><circle cx="71.55" cy="94.4" r="3.5" fill="url(#atC2)"/><circle cx="106.95" cy="94.4" r="3.5" fill="url(#atC2)"/><circle cx="124.65" cy="94.4" r="3.5" fill="url(#atC2)"/><circle cx="160.05" cy="94.4" r="3.5" fill="url(#atC2)"/><circle cx="27.3" cy="110" r="3.5" fill="url(#atC2)"/><circle cx="45" cy="110" r="3.5" fill="url(#atC2)"/><circle cx="80.4" cy="110" r="3.5" fill="url(#atC2)"/><circle cx="98.1" cy="110" r="3.5" fill="url(#atC2)"/><circle cx="133.5" cy="110" r="3.5" fill="url(#atC2)"/><circle cx="151.2" cy="110" r="3.5" fill="url(#atC2)"/><circle cx="0.75" cy="125.6" r="3.5" fill="url(#atC2)"/><circle cx="18.45" cy="125.6" r="3.5" fill="url(#atC2)"/><circle cx="53.85" cy="125.6" r="3.5" fill="url(#atC2)"/><circle cx="71.55" cy="125.6" r="3.5" fill="url(#atC2)"/><circle cx="106.95" cy="125.6" r="3.5" fill="url(#atC2)"/><circle cx="124.65" cy="125.6" r="3.5" fill="url(#atC2)"/><circle cx="160.05" cy="125.6" r="3.5" fill="url(#atC2)"/><circle cx="27.3" cy="141.2" r="3.5" fill="url(#atC2)"/><circle cx="45" cy="141.2" r="3.5" fill="url(#atC2)"/><circle cx="80.4" cy="141.2" r="3.5" fill="url(#atC2)"/><circle cx="98.1" cy="141.2" r="3.5" fill="url(#atC2)"/><circle cx="133.5" cy="141.2" r="3.5" fill="url(#atC2)"/><circle cx="151.2" cy="141.2" r="3.5" fill="url(#atC2)"/><circle cx="0.75" cy="156.8" r="3.5" fill="url(#atC2)"/><circle cx="18.45" cy="156.8" r="3.5" fill="url(#atC2)"/><circle cx="53.85" cy="156.8" r="3.5" fill="url(#atC2)"/><circle cx="71.55" cy="156.8" r="3.5" fill="url(#atC2)"/><circle cx="106.95" cy="156.8" r="3.5" fill="url(#atC2)"/><circle cx="124.65" cy="156.8" r="3.5" fill="url(#atC2)"/><circle cx="160.05" cy="156.8" r="3.5" fill="url(#atC2)"/><ellipse cx="49" cy="50.5" rx="3.2" ry="2.6" transform="rotate(0 49 50.5)" fill="#8aee8a" stroke="#34b834" stroke-width="1.1"/><ellipse cx="20.2" cy="69" rx="2.8" ry="4.5" transform="rotate(0 20.2 69)" fill="#8aee8a" stroke="#34b834" stroke-width="1.1"/><ellipse cx="20.8" cy="86.3" rx="2.5" ry="3.2" transform="rotate(0 20.8 86.3)" fill="#8aee8a" stroke="#34b834" stroke-width="1.1"/><ellipse cx="20.3" cy="100.2" rx="2.6" ry="2" transform="rotate(0 20.3 100.2)" fill="#8aee8a" stroke="#34b834" stroke-width="1.1"/><ellipse cx="21.5" cy="115" rx="3" ry="4.5" transform="rotate(20 21.5 115)" fill="#8aee8a" stroke="#34b834" stroke-width="1.1"/><ellipse cx="52" cy="70" rx="2.5" ry="3.5" transform="rotate(0 52 70)" fill="#8aee8a" stroke="#34b834" stroke-width="1.1"/><ellipse cx="110" cy="70" rx="3" ry="3" transform="rotate(0 110 70)" fill="#8aee8a" stroke="#34b834" stroke-width="1.1"/><ellipse cx="116" cy="88" rx="3" ry="3.5" transform="rotate(0 116 88)" fill="#8aee8a" stroke="#34b834" stroke-width="1.1"/><ellipse cx="133" cy="60" rx="3" ry="3" transform="rotate(0 133 60)" fill="#8aee8a" stroke="#34b834" stroke-width="1.1"/><ellipse cx="137" cy="100" rx="3.2" ry="5" transform="rotate(0 137 100)" fill="#8aee8a" stroke="#34b834" stroke-width="1.1"/><ellipse cx="101" cy="33.5" rx="3" ry="2.5" transform="rotate(0 101 33.5)" fill="#8aee8a" stroke="#34b834" stroke-width="1.1"/><ellipse cx="112" cy="123" rx="3.5" ry="3" transform="rotate(0 112 123)" fill="#8aee8a" stroke="#34b834" stroke-width="1.1"/><ellipse cx="45" cy="102" rx="3" ry="2.5" transform="rotate(0 45 102)" fill="#8aee8a" stroke="#34b834" stroke-width="1.1"/><ellipse cx="104" cy="105" rx="3.5" ry="2.5" transform="rotate(0 104 105)" fill="#8aee8a" stroke="#34b834" stroke-width="1.1"/><ellipse cx="72" cy="100" rx="3" ry="2.5" transform="rotate(0 72 100)" fill="#8aee8a" stroke="#34b834" stroke-width="1.1"/><path d="M74.85 36.43Q84.99 33.17 95.27 37.23" fill="none" stroke="#34b834" stroke-width="6.2" stroke-linecap="round"/><path d="M74.85 36.43Q84.99 33.17 95.27 37.23" fill="none" stroke="#8aee8a" stroke-width="3.6" stroke-linecap="round"/><path d="M74.85 36.43Q84.99 33.17 95.27 37.23" fill="none" stroke="#b8f8b8" stroke-width="1.08" stroke-linecap="round" opacity="0.6"/><path d="M49.72 138.18Q63.48 130.78 77.39 138.65" fill="none" stroke="#34b834" stroke-width="6.2" stroke-linecap="round"/><path d="M49.72 138.18Q63.48 130.78 77.39 138.65" fill="none" stroke="#8aee8a" stroke-width="3.6" stroke-linecap="round"/><path d="M49.72 138.18Q63.48 130.78 77.39 138.65" fill="none" stroke="#b8f8b8" stroke-width="1.08" stroke-linecap="round" opacity="0.6"/><path d="M33.21 78.24Q37.49 66.57 49.7 63.27" fill="none" stroke="#34b834" stroke-width="11" stroke-linecap="round"/><path d="M33.21 78.24Q37.49 66.57 49.7 63.27" fill="none" stroke="#8aee8a" stroke-width="8.4" stroke-linecap="round"/><path d="M33.21 78.24Q37.49 66.57 49.7 63.27" fill="none" stroke="#b8f8b8" stroke-width="2.52" stroke-linecap="round" opacity="0.6"/><path d="M58.3 57.57Q63.5 50.73 74.44 50.06" fill="none" stroke="#34b834" stroke-width="11" stroke-linecap="round"/><path d="M58.3 57.57Q63.5 50.73 74.44 50.06" fill="none" stroke="#8aee8a" stroke-width="8.4" stroke-linecap="round"/><path d="M58.3 57.57Q63.5 50.73 74.44 50.06" fill="none" stroke="#b8f8b8" stroke-width="2.52" stroke-linecap="round" opacity="0.6"/><path d="M102.6 50.56Q113.08 53.56 118.97 60.59" fill="none" stroke="#34b834" stroke-width="11" stroke-linecap="round"/><path d="M102.6 50.56Q113.08 53.56 118.97 60.59" fill="none" stroke="#8aee8a" stroke-width="8.4" stroke-linecap="round"/><path d="M102.6 50.56Q113.08 53.56 118.97 60.59" fill="none" stroke="#b8f8b8" stroke-width="2.52" stroke-linecap="round" opacity="0.6"/><path d="M118.53 97.04Q115.78 107.77 103.73 110.68" fill="none" stroke="#34b834" stroke-width="11" stroke-linecap="round"/><path d="M118.53 97.04Q115.78 107.77 103.73 110.68" fill="none" stroke="#8aee8a" stroke-width="8.4" stroke-linecap="round"/><path d="M118.53 97.04Q115.78 107.77 103.73 110.68" fill="none" stroke="#b8f8b8" stroke-width="2.52" stroke-linecap="round" opacity="0.6"/><path d="M92.91 114.16Q89.08 122.4 77.66 122.63" fill="none" stroke="#34b834" stroke-width="11" stroke-linecap="round"/><path d="M92.91 114.16Q89.08 122.4 77.66 122.63" fill="none" stroke="#8aee8a" stroke-width="8.4" stroke-linecap="round"/><path d="M92.91 114.16Q89.08 122.4 77.66 122.63" fill="none" stroke="#b8f8b8" stroke-width="2.52" stroke-linecap="round" opacity="0.6"/><path d="M33.24 110.74Q36.28 121.83 50.73 123.62" fill="none" stroke="#34b834" stroke-width="11" stroke-linecap="round"/><path d="M33.24 110.74Q36.28 121.83 50.73 123.62" fill="none" stroke="#8aee8a" stroke-width="8.4" stroke-linecap="round"/><path d="M33.24 110.74Q36.28 121.83 50.73 123.62" fill="none" stroke="#b8f8b8" stroke-width="2.52" stroke-linecap="round" opacity="0.6"/><path d="M75 44 Q88 39 102 44 Q103 50 98 53 Q88 50 79 53 Q74 50 75 44Z" fill="url(#redg)" stroke="#bf1a1a" stroke-width="1.3"/><path d="M49.5 130 Q50 124 54 123 Q63 126 73 123 Q77.5 125 77 130 Q63 135.5 49.5 130Z" fill="url(#redg)" stroke="#bf1a1a" stroke-width="1.3"/><ellipse cx="26.5" cy="79.7" rx="4.4" ry="7.8" transform="rotate(8 26.5 79.7)" fill="url(#redg)" stroke="#bf1a1a" stroke-width="1.2"/><ellipse cx="20.6" cy="94.2" rx="4" ry="4" transform="rotate(0 20.6 94.2)" fill="url(#redg)" stroke="#bf1a1a" stroke-width="1.2"/><ellipse cx="131.2" cy="80.7" rx="5" ry="5" transform="rotate(0 131.2 80.7)" fill="url(#redg)" stroke="#bf1a1a" stroke-width="1.2"/><ellipse cx="124.4" cy="93.8" rx="3.7" ry="7.3" transform="rotate(12 124.4 93.8)" fill="url(#redg)" stroke="#bf1a1a" stroke-width="1.2"/><ellipse cx="44.7" cy="47.5" rx="3.6" ry="4.14" transform="rotate(0 44.7 47.5)" fill="url(#redg)" stroke="#bf1a1a" stroke-width="1.1"/><ellipse cx="53.5" cy="61.3" rx="3.6" ry="4.14" transform="rotate(0 53.5 61.3)" fill="url(#redg)" stroke="#bf1a1a" stroke-width="1.1"/><ellipse cx="27.2" cy="110.8" rx="3.8" ry="4.37" transform="rotate(0 27.2 110.8)" fill="url(#redg)" stroke="#bf1a1a" stroke-width="1.1"/><ellipse cx="106.2" cy="127.1" rx="3.6" ry="4.14" transform="rotate(0 106.2 127.1)" fill="url(#redg)" stroke="#bf1a1a" stroke-width="1.1"/><ellipse cx="98" cy="112" rx="3.6" ry="4.14" transform="rotate(0 98 112)" fill="url(#redg)" stroke="#bf1a1a" stroke-width="1.1"/><ellipse cx="97.9" cy="15.6" rx="3.4" ry="3.91" transform="rotate(0 97.9 15.6)" fill="url(#redg)" stroke="#bf1a1a" stroke-width="1.1"/><ellipse cx="110.5" cy="70.5" rx="3.2" ry="3.68" transform="rotate(0 110.5 70.5)" fill="url(#redg)" stroke="#bf1a1a" stroke-width="1.1"/><ellipse cx="54.2" cy="158.3" rx="3.5" ry="4.02" transform="rotate(0 54.2 158.3)" fill="url(#redg)" stroke="#bf1a1a" stroke-width="1.1"/><g transform="rotate(0 70.4 61.3)"><path d="M62.9 58.3 C64.4 54.3 69.4 56.3 70.4 58.8 C71.4 56.3 76.4 54.3 77.9 58.3 C78.9 64.3 73.4 67.3 70.4 64.3 C67.4 67.3 61.9 64.3 62.9 58.3Z" fill="url(#redg)" stroke="#bf1a1a" stroke-width="1.2"/><rect x="67.9" y="59.8" width="5" height="2.6" fill="#c8705a"/><circle cx="66.4" cy="60.8" r="2.3" fill="#d8b4d4"/><circle cx="74.4" cy="60.8" r="2.3" fill="#d8b4d4"/></g><g transform="rotate(-50 103.7 66.3)"><path d="M96.2 63.3 C97.7 59.3 102.7 61.3 103.7 63.8 C104.7 61.3 109.7 59.3 111.2 63.3 C112.2 69.3 106.7 72.3 103.7 69.3 C100.7 72.3 95.2 69.3 96.2 63.3Z" fill="url(#redg)" stroke="#bf1a1a" stroke-width="1.2"/><rect x="101.2" y="64.8" width="5" height="2.6" fill="#c8705a"/><circle cx="99.7" cy="65.8" r="2.3" fill="#d8b4d4"/><circle cx="107.7" cy="65.8" r="2.3" fill="#d8b4d4"/></g><g transform="rotate(35 47.2 76.9)"><path d="M39.7 73.9 C41.2 69.9 46.2 71.9 47.2 74.4 C48.2 71.9 53.2 69.9 54.7 73.9 C55.7 79.9 50.2 82.9 47.2 79.9 C44.2 82.9 38.7 79.9 39.7 73.9Z" fill="url(#redg)" stroke="#bf1a1a" stroke-width="1.2"/><rect x="44.7" y="75.4" width="5" height="2.6" fill="#c8705a"/><circle cx="43.2" cy="76.4" r="2.3" fill="#d8b4d4"/><circle cx="51.2" cy="76.4" r="2.3" fill="#d8b4d4"/></g><g transform="rotate(40 104.9 94.5)"><path d="M97.4 91.5 C98.9 87.5 103.9 89.5 104.9 92 C105.9 89.5 110.9 87.5 112.4 91.5 C113.4 97.5 107.9 100.5 104.9 97.5 C101.9 100.5 96.4 97.5 97.4 91.5Z" fill="url(#redg)" stroke="#bf1a1a" stroke-width="1.2"/><rect x="102.4" y="93" width="5" height="2.6" fill="#c8705a"/><circle cx="100.9" cy="94" r="2.3" fill="#d8b4d4"/><circle cx="108.9" cy="94" r="2.3" fill="#d8b4d4"/></g><g transform="rotate(-30 45.4 110.8)"><path d="M37.9 107.8 C39.4 103.8 44.4 105.8 45.4 108.3 C46.4 105.8 51.4 103.8 52.9 107.8 C53.9 113.8 48.4 116.8 45.4 113.8 C42.4 116.8 36.9 113.8 37.9 107.8Z" fill="url(#redg)" stroke="#bf1a1a" stroke-width="1.2"/><rect x="42.9" y="109.3" width="5" height="2.6" fill="#c8705a"/><circle cx="41.4" cy="110.3" r="2.3" fill="#d8b4d4"/><circle cx="49.4" cy="110.3" r="2.3" fill="#d8b4d4"/></g><g transform="rotate(0 79.2 110.8)"><path d="M71.7 107.8 C73.2 103.8 78.2 105.8 79.2 108.3 C80.2 105.8 85.2 103.8 86.7 107.8 C87.7 113.8 82.2 116.8 79.2 113.8 C76.2 116.8 70.7 113.8 71.7 107.8Z" fill="url(#redg)" stroke="#bf1a1a" stroke-width="1.2"/><rect x="76.7" y="109.3" width="5" height="2.6" fill="#c8705a"/><circle cx="75.2" cy="110.3" r="2.3" fill="#d8b4d4"/><circle cx="83.2" cy="110.3" r="2.3" fill="#d8b4d4"/></g><path d="M52 82 C44 90 46 108 60 112 C68 112 68 106 64 102 C58 100 56 94 58 88 C58 84 56 80 52 82Z" fill="url(#redg)" stroke="#bf1a1a" stroke-width="1.2"/><path d="M84 64 C94 60 104 66 104 76 C106 86 100 92 96 92 C92 88 90 82 86 82 C80 82 78 76 80 70 C80 66 82 64 84 64Z" fill="url(#redg)" stroke="#bf1a1a" stroke-width="1.2"/><ellipse cx="86.5" cy="78" rx="3.5" ry="3" transform="rotate(0 86.5 78)" fill="#f0c0c0" stroke="#e08080" stroke-width="0.6"/><ellipse cx="68" cy="70" rx="6" ry="5" transform="rotate(-20 68 70)" fill="#8aee8a" stroke="#34b834" stroke-width="1.2"/><ellipse cx="93" cy="86" rx="4" ry="5" transform="rotate(0 93 86)" fill="#8aee8a" stroke="#34b834" stroke-width="1.2"/><ellipse cx="82" cy="100" rx="4" ry="6.5" transform="rotate(25 82 100)" fill="#8aee8a" stroke="#34b834" stroke-width="1.2"/><ellipse cx="63.5" cy="93" rx="6" ry="6" transform="rotate(0 63.5 93)" fill="#8aee8a" stroke="#34b834" stroke-width="1.2"/><ellipse cx="63.5" cy="93" rx="3" ry="3" transform="rotate(45 63.5 93)" fill="#3a30a0" stroke="#203080" stroke-width="1"/></g><rect x="116.3" y="-1" width="45.2" height="25.6" fill="#fff"/><rect x="0.5" y="0.5" width="159" height="157" fill="none" stroke="#b8b8b8" stroke-width="1" stroke-dasharray="1.5 2"/></g>
<text x="342.22" y="545" font-size="14.8" fill="#000" text-anchor="start" font-weight="bold" textLength="37.39" lengthAdjust="spacingAndGlyphs">NiCo</text>
<g transform="translate(405.5 528.1)"><g clip-path="url(#clip_CoFe)"><path d="M-52.35 0.8L-34.65 0.8M-52.35 0.8L-61.2 16.4M-34.65 0.8L-25.8 16.4M0.75 0.8L18.45 0.8M0.75 0.8L-8.1 16.4M18.45 0.8L27.3 16.4M53.85 0.8L71.55 0.8M53.85 0.8L45 16.4M71.55 0.8L80.4 16.4M106.95 0.8L124.65 0.8M106.95 0.8L98.1 16.4M124.65 0.8L133.5 16.4M160.05 0.8L177.75 0.8M160.05 0.8L151.2 16.4M177.75 0.8L186.6 16.4M213.15 0.8L230.85 0.8M213.15 0.8L204.3 16.4M230.85 0.8L239.7 16.4M-25.8 16.4L-8.1 16.4M-25.8 16.4L-34.65 32M-8.1 16.4L0.75 32M27.3 16.4L45 16.4M27.3 16.4L18.45 32M45 16.4L53.85 32M80.4 16.4L98.1 16.4M80.4 16.4L71.55 32M98.1 16.4L106.95 32M133.5 16.4L151.2 16.4M133.5 16.4L124.65 32M151.2 16.4L160.05 32M186.6 16.4L204.3 16.4M186.6 16.4L177.75 32M204.3 16.4L213.15 32M239.7 16.4L257.4 16.4M239.7 16.4L230.85 32M257.4 16.4L266.25 32M-52.35 32L-34.65 32M-52.35 32L-61.2 47.6M-34.65 32L-25.8 47.6M0.75 32L18.45 32M0.75 32L-8.1 47.6M18.45 32L27.3 47.6M53.85 32L71.55 32M53.85 32L45 47.6M71.55 32L80.4 47.6M106.95 32L124.65 32M106.95 32L98.1 47.6M124.65 32L133.5 47.6M160.05 32L177.75 32M160.05 32L151.2 47.6M177.75 32L186.6 47.6M213.15 32L230.85 32M213.15 32L204.3 47.6M230.85 32L239.7 47.6M-25.8 47.6L-8.1 47.6M-25.8 47.6L-34.65 63.2M-8.1 47.6L0.75 63.2M27.3 47.6L45 47.6M27.3 47.6L18.45 63.2M45 47.6L53.85 63.2M80.4 47.6L98.1 47.6M80.4 47.6L71.55 63.2M98.1 47.6L106.95 63.2M133.5 47.6L151.2 47.6M133.5 47.6L124.65 63.2M151.2 47.6L160.05 63.2M186.6 47.6L204.3 47.6M186.6 47.6L177.75 63.2M204.3 47.6L213.15 63.2M239.7 47.6L257.4 47.6M239.7 47.6L230.85 63.2M257.4 47.6L266.25 63.2M-52.35 63.2L-34.65 63.2M-52.35 63.2L-61.2 78.8M-34.65 63.2L-25.8 78.8M0.75 63.2L18.45 63.2M0.75 63.2L-8.1 78.8M18.45 63.2L27.3 78.8M53.85 63.2L71.55 63.2M53.85 63.2L45 78.8M71.55 63.2L80.4 78.8M106.95 63.2L124.65 63.2M106.95 63.2L98.1 78.8M124.65 63.2L133.5 78.8M160.05 63.2L177.75 63.2M160.05 63.2L151.2 78.8M177.75 63.2L186.6 78.8M213.15 63.2L230.85 63.2M213.15 63.2L204.3 78.8M230.85 63.2L239.7 78.8M-25.8 78.8L-8.1 78.8M-25.8 78.8L-34.65 94.4M-8.1 78.8L0.75 94.4M27.3 78.8L45 78.8M27.3 78.8L18.45 94.4M45 78.8L53.85 94.4M80.4 78.8L98.1 78.8M80.4 78.8L71.55 94.4M98.1 78.8L106.95 94.4M133.5 78.8L151.2 78.8M133.5 78.8L124.65 94.4M151.2 78.8L160.05 94.4M186.6 78.8L204.3 78.8M186.6 78.8L177.75 94.4M204.3 78.8L213.15 94.4M239.7 78.8L257.4 78.8M239.7 78.8L230.85 94.4M257.4 78.8L266.25 94.4M-52.35 94.4L-34.65 94.4M-52.35 94.4L-61.2 110M-34.65 94.4L-25.8 110M0.75 94.4L18.45 94.4M0.75 94.4L-8.1 110M18.45 94.4L27.3 110M53.85 94.4L71.55 94.4M53.85 94.4L45 110M71.55 94.4L80.4 110M106.95 94.4L124.65 94.4M106.95 94.4L98.1 110M124.65 94.4L133.5 110M160.05 94.4L177.75 94.4M160.05 94.4L151.2 110M177.75 94.4L186.6 110M213.15 94.4L230.85 94.4M213.15 94.4L204.3 110M230.85 94.4L239.7 110M-25.8 110L-8.1 110M-25.8 110L-34.65 125.6M-8.1 110L0.75 125.6M27.3 110L45 110M27.3 110L18.45 125.6M45 110L53.85 125.6M80.4 110L98.1 110M80.4 110L71.55 125.6M98.1 110L106.95 125.6M133.5 110L151.2 110M133.5 110L124.65 125.6M151.2 110L160.05 125.6M186.6 110L204.3 110M186.6 110L177.75 125.6M204.3 110L213.15 125.6M239.7 110L257.4 110M239.7 110L230.85 125.6M257.4 110L266.25 125.6M-52.35 125.6L-34.65 125.6M-52.35 125.6L-61.2 141.2M-34.65 125.6L-25.8 141.2M0.75 125.6L18.45 125.6M0.75 125.6L-8.1 141.2M18.45 125.6L27.3 141.2M53.85 125.6L71.55 125.6M53.85 125.6L45 141.2M71.55 125.6L80.4 141.2M106.95 125.6L124.65 125.6M106.95 125.6L98.1 141.2M124.65 125.6L133.5 141.2M160.05 125.6L177.75 125.6M160.05 125.6L151.2 141.2M177.75 125.6L186.6 141.2M213.15 125.6L230.85 125.6M213.15 125.6L204.3 141.2M230.85 125.6L239.7 141.2M-25.8 141.2L-8.1 141.2M-25.8 141.2L-34.65 156.8M-8.1 141.2L0.75 156.8M27.3 141.2L45 141.2M27.3 141.2L18.45 156.8M45 141.2L53.85 156.8M80.4 141.2L98.1 141.2M80.4 141.2L71.55 156.8M98.1 141.2L106.95 156.8M133.5 141.2L151.2 141.2M133.5 141.2L124.65 156.8M151.2 141.2L160.05 156.8M186.6 141.2L204.3 141.2M186.6 141.2L177.75 156.8M204.3 141.2L213.15 156.8M239.7 141.2L257.4 141.2M239.7 141.2L230.85 156.8M257.4 141.2L266.25 156.8M-52.35 156.8L-34.65 156.8M0.75 156.8L18.45 156.8M53.85 156.8L71.55 156.8M106.95 156.8L124.65 156.8M160.05 156.8L177.75 156.8M213.15 156.8L230.85 156.8" stroke="#a47858" stroke-width="2.7" fill="none"/><circle cx="0.75" cy="0.8" r="3.5" fill="url(#atC2)"/><circle cx="18.45" cy="0.8" r="3.5" fill="url(#atC2)"/><circle cx="53.85" cy="0.8" r="3.5" fill="url(#atC2)"/><circle cx="71.55" cy="0.8" r="3.5" fill="url(#atC2)"/><circle cx="106.95" cy="0.8" r="3.5" fill="url(#atC2)"/><circle cx="124.65" cy="0.8" r="3.5" fill="url(#atC2)"/><circle cx="160.05" cy="0.8" r="3.5" fill="url(#atC2)"/><circle cx="27.3" cy="16.4" r="3.5" fill="url(#atC2)"/><circle cx="45" cy="16.4" r="3.5" fill="url(#atC2)"/><circle cx="80.4" cy="16.4" r="3.5" fill="url(#atC2)"/><circle cx="98.1" cy="16.4" r="3.5" fill="url(#atC2)"/><circle cx="133.5" cy="16.4" r="3.5" fill="url(#atC2)"/><circle cx="151.2" cy="16.4" r="3.5" fill="url(#atC2)"/><circle cx="0.75" cy="32" r="3.5" fill="url(#atC2)"/><circle cx="18.45" cy="32" r="3.5" fill="url(#atC2)"/><circle cx="53.85" cy="32" r="3.5" fill="url(#atC2)"/><circle cx="71.55" cy="32" r="3.5" fill="url(#atC2)"/><circle cx="106.95" cy="32" r="3.5" fill="url(#atC2)"/><circle cx="124.65" cy="32" r="3.5" fill="url(#atC2)"/><circle cx="160.05" cy="32" r="3.5" fill="url(#atC2)"/><circle cx="27.3" cy="47.6" r="3.5" fill="url(#atC2)"/><circle cx="45" cy="47.6" r="3.5" fill="url(#atC2)"/><circle cx="80.4" cy="47.6" r="3.5" fill="url(#atC2)"/><circle cx="98.1" cy="47.6" r="3.5" fill="url(#atC2)"/><circle cx="133.5" cy="47.6" r="3.5" fill="url(#atC2)"/><circle cx="151.2" cy="47.6" r="3.5" fill="url(#atC2)"/><circle cx="0.75" cy="63.2" r="3.5" fill="url(#atC2)"/><circle cx="18.45" cy="63.2" r="3.5" fill="url(#atC2)"/><circle cx="53.85" cy="63.2" r="3.5" fill="url(#atC2)"/><circle cx="71.55" cy="63.2" r="3.5" fill="url(#atC2)"/><circle cx="106.95" cy="63.2" r="3.5" fill="url(#atC2)"/><circle cx="124.65" cy="63.2" r="3.5" fill="url(#atC2)"/><circle cx="160.05" cy="63.2" r="3.5" fill="url(#atC2)"/><circle cx="27.3" cy="78.8" r="3.5" fill="url(#atC2)"/><circle cx="45" cy="78.8" r="3.5" fill="url(#atC2)"/><circle cx="80.4" cy="78.8" r="3.5" fill="url(#atC2)"/><circle cx="98.1" cy="78.8" r="3.5" fill="url(#atC2)"/><circle cx="133.5" cy="78.8" r="3.5" fill="url(#atC2)"/><circle cx="151.2" cy="78.8" r="3.5" fill="url(#atC2)"/><circle cx="0.75" cy="94.4" r="3.5" fill="url(#atC2)"/><circle cx="18.45" cy="94.4" r="3.5" fill="url(#atC2)"/><circle cx="53.85" cy="94.4" r="3.5" fill="url(#atC2)"/><circle cx="71.55" cy="94.4" r="3.5" fill="url(#atC2)"/><circle cx="106.95" cy="94.4" r="3.5" fill="url(#atC2)"/><circle cx="124.65" cy="94.4" r="3.5" fill="url(#atC2)"/><circle cx="160.05" cy="94.4" r="3.5" fill="url(#atC2)"/><circle cx="27.3" cy="110" r="3.5" fill="url(#atC2)"/><circle cx="45" cy="110" r="3.5" fill="url(#atC2)"/><circle cx="80.4" cy="110" r="3.5" fill="url(#atC2)"/><circle cx="98.1" cy="110" r="3.5" fill="url(#atC2)"/><circle cx="133.5" cy="110" r="3.5" fill="url(#atC2)"/><circle cx="151.2" cy="110" r="3.5" fill="url(#atC2)"/><circle cx="0.75" cy="125.6" r="3.5" fill="url(#atC2)"/><circle cx="18.45" cy="125.6" r="3.5" fill="url(#atC2)"/><circle cx="53.85" cy="125.6" r="3.5" fill="url(#atC2)"/><circle cx="71.55" cy="125.6" r="3.5" fill="url(#atC2)"/><circle cx="106.95" cy="125.6" r="3.5" fill="url(#atC2)"/><circle cx="124.65" cy="125.6" r="3.5" fill="url(#atC2)"/><circle cx="160.05" cy="125.6" r="3.5" fill="url(#atC2)"/><circle cx="27.3" cy="141.2" r="3.5" fill="url(#atC2)"/><circle cx="45" cy="141.2" r="3.5" fill="url(#atC2)"/><circle cx="80.4" cy="141.2" r="3.5" fill="url(#atC2)"/><circle cx="98.1" cy="141.2" r="3.5" fill="url(#atC2)"/><circle cx="133.5" cy="141.2" r="3.5" fill="url(#atC2)"/><circle cx="151.2" cy="141.2" r="3.5" fill="url(#atC2)"/><circle cx="0.75" cy="156.8" r="3.5" fill="url(#atC2)"/><circle cx="18.45" cy="156.8" r="3.5" fill="url(#atC2)"/><circle cx="53.85" cy="156.8" r="3.5" fill="url(#atC2)"/><circle cx="71.55" cy="156.8" r="3.5" fill="url(#atC2)"/><circle cx="106.95" cy="156.8" r="3.5" fill="url(#atC2)"/><circle cx="124.65" cy="156.8" r="3.5" fill="url(#atC2)"/><circle cx="160.05" cy="156.8" r="3.5" fill="url(#atC2)"/><ellipse cx="49" cy="50.5" rx="3.2" ry="2.6" transform="rotate(0 49 50.5)" fill="#8aee8a" stroke="#34b834" stroke-width="1.1"/><ellipse cx="20.2" cy="69" rx="2.8" ry="4.5" transform="rotate(0 20.2 69)" fill="#8aee8a" stroke="#34b834" stroke-width="1.1"/><ellipse cx="20.8" cy="86.3" rx="2.5" ry="3.2" transform="rotate(0 20.8 86.3)" fill="#8aee8a" stroke="#34b834" stroke-width="1.1"/><ellipse cx="20.3" cy="100.2" rx="2.6" ry="2" transform="rotate(0 20.3 100.2)" fill="#8aee8a" stroke="#34b834" stroke-width="1.1"/><ellipse cx="21.5" cy="115" rx="3" ry="4.5" transform="rotate(20 21.5 115)" fill="#8aee8a" stroke="#34b834" stroke-width="1.1"/><ellipse cx="52" cy="70" rx="2.5" ry="3.5" transform="rotate(0 52 70)" fill="#8aee8a" stroke="#34b834" stroke-width="1.1"/><ellipse cx="110" cy="70" rx="3" ry="3" transform="rotate(0 110 70)" fill="#8aee8a" stroke="#34b834" stroke-width="1.1"/><ellipse cx="116" cy="88" rx="3" ry="3.5" transform="rotate(0 116 88)" fill="#8aee8a" stroke="#34b834" stroke-width="1.1"/><ellipse cx="133" cy="60" rx="3" ry="3" transform="rotate(0 133 60)" fill="#8aee8a" stroke="#34b834" stroke-width="1.1"/><ellipse cx="137" cy="100" rx="3.2" ry="5" transform="rotate(0 137 100)" fill="#8aee8a" stroke="#34b834" stroke-width="1.1"/><ellipse cx="101" cy="33.5" rx="3" ry="2.5" transform="rotate(0 101 33.5)" fill="#8aee8a" stroke="#34b834" stroke-width="1.1"/><ellipse cx="112" cy="123" rx="3.5" ry="3" transform="rotate(0 112 123)" fill="#8aee8a" stroke="#34b834" stroke-width="1.1"/><ellipse cx="45" cy="102" rx="3" ry="2.5" transform="rotate(0 45 102)" fill="#8aee8a" stroke="#34b834" stroke-width="1.1"/><ellipse cx="104" cy="105" rx="3.5" ry="2.5" transform="rotate(0 104 105)" fill="#8aee8a" stroke="#34b834" stroke-width="1.1"/><ellipse cx="72" cy="100" rx="3" ry="2.5" transform="rotate(0 72 100)" fill="#8aee8a" stroke="#34b834" stroke-width="1.1"/><path d="M74.85 36.43Q84.99 33.17 95.27 37.23" fill="none" stroke="#34b834" stroke-width="6.2" stroke-linecap="round"/><path d="M74.85 36.43Q84.99 33.17 95.27 37.23" fill="none" stroke="#8aee8a" stroke-width="3.6" stroke-linecap="round"/><path d="M74.85 36.43Q84.99 33.17 95.27 37.23" fill="none" stroke="#b8f8b8" stroke-width="1.08" stroke-linecap="round" opacity="0.6"/><path d="M49.72 138.18Q63.48 130.78 77.39 138.65" fill="none" stroke="#34b834" stroke-width="6.2" stroke-linecap="round"/><path d="M49.72 138.18Q63.48 130.78 77.39 138.65" fill="none" stroke="#8aee8a" stroke-width="3.6" stroke-linecap="round"/><path d="M49.72 138.18Q63.48 130.78 77.39 138.65" fill="none" stroke="#b8f8b8" stroke-width="1.08" stroke-linecap="round" opacity="0.6"/><path d="M33.21 78.24Q37.49 66.57 49.7 63.27" fill="none" stroke="#34b834" stroke-width="11" stroke-linecap="round"/><path d="M33.21 78.24Q37.49 66.57 49.7 63.27" fill="none" stroke="#8aee8a" stroke-width="8.4" stroke-linecap="round"/><path d="M33.21 78.24Q37.49 66.57 49.7 63.27" fill="none" stroke="#b8f8b8" stroke-width="2.52" stroke-linecap="round" opacity="0.6"/><path d="M58.3 57.57Q63.5 50.73 74.44 50.06" fill="none" stroke="#34b834" stroke-width="11" stroke-linecap="round"/><path d="M58.3 57.57Q63.5 50.73 74.44 50.06" fill="none" stroke="#8aee8a" stroke-width="8.4" stroke-linecap="round"/><path d="M58.3 57.57Q63.5 50.73 74.44 50.06" fill="none" stroke="#b8f8b8" stroke-width="2.52" stroke-linecap="round" opacity="0.6"/><path d="M102.6 50.56Q113.08 53.56 118.97 60.59" fill="none" stroke="#34b834" stroke-width="11" stroke-linecap="round"/><path d="M102.6 50.56Q113.08 53.56 118.97 60.59" fill="none" stroke="#8aee8a" stroke-width="8.4" stroke-linecap="round"/><path d="M102.6 50.56Q113.08 53.56 118.97 60.59" fill="none" stroke="#b8f8b8" stroke-width="2.52" stroke-linecap="round" opacity="0.6"/><path d="M118.53 97.04Q115.78 107.77 103.73 110.68" fill="none" stroke="#34b834" stroke-width="11" stroke-linecap="round"/><path d="M118.53 97.04Q115.78 107.77 103.73 110.68" fill="none" stroke="#8aee8a" stroke-width="8.4" stroke-linecap="round"/><path d="M118.53 97.04Q115.78 107.77 103.73 110.68" fill="none" stroke="#b8f8b8" stroke-width="2.52" stroke-linecap="round" opacity="0.6"/><path d="M92.91 114.16Q89.08 122.4 77.66 122.63" fill="none" stroke="#34b834" stroke-width="11" stroke-linecap="round"/><path d="M92.91 114.16Q89.08 122.4 77.66 122.63" fill="none" stroke="#8aee8a" stroke-width="8.4" stroke-linecap="round"/><path d="M92.91 114.16Q89.08 122.4 77.66 122.63" fill="none" stroke="#b8f8b8" stroke-width="2.52" stroke-linecap="round" opacity="0.6"/><path d="M33.24 110.74Q36.28 121.83 50.73 123.62" fill="none" stroke="#34b834" stroke-width="11" stroke-linecap="round"/><path d="M33.24 110.74Q36.28 121.83 50.73 123.62" fill="none" stroke="#8aee8a" stroke-width="8.4" stroke-linecap="round"/><path d="M33.24 110.74Q36.28 121.83 50.73 123.62" fill="none" stroke="#b8f8b8" stroke-width="2.52" stroke-linecap="round" opacity="0.6"/><path d="M75 44 Q88 39 102 44 Q103 50 98 53 Q88 50 79 53 Q74 50 75 44Z" fill="url(#redg)" stroke="#bf1a1a" stroke-width="1.3"/><path d="M49.5 130 Q50 124 54 123 Q63 126 73 123 Q77.5 125 77 130 Q63 135.5 49.5 130Z" fill="url(#redg)" stroke="#bf1a1a" stroke-width="1.3"/><ellipse cx="26.5" cy="79.7" rx="4.4" ry="7.8" transform="rotate(8 26.5 79.7)" fill="url(#redg)" stroke="#bf1a1a" stroke-width="1.2"/><ellipse cx="20.6" cy="94.2" rx="4" ry="4" transform="rotate(0 20.6 94.2)" fill="url(#redg)" stroke="#bf1a1a" stroke-width="1.2"/><ellipse cx="131.2" cy="80.7" rx="5" ry="5" transform="rotate(0 131.2 80.7)" fill="url(#redg)" stroke="#bf1a1a" stroke-width="1.2"/><ellipse cx="124.4" cy="93.8" rx="3.7" ry="7.3" transform="rotate(12 124.4 93.8)" fill="url(#redg)" stroke="#bf1a1a" stroke-width="1.2"/><ellipse cx="44.7" cy="47.5" rx="3.6" ry="4.14" transform="rotate(0 44.7 47.5)" fill="url(#redg)" stroke="#bf1a1a" stroke-width="1.1"/><ellipse cx="53.5" cy="61.3" rx="3.6" ry="4.14" transform="rotate(0 53.5 61.3)" fill="url(#redg)" stroke="#bf1a1a" stroke-width="1.1"/><ellipse cx="27.2" cy="110.8" rx="3.8" ry="4.37" transform="rotate(0 27.2 110.8)" fill="url(#redg)" stroke="#bf1a1a" stroke-width="1.1"/><ellipse cx="106.2" cy="127.1" rx="3.6" ry="4.14" transform="rotate(0 106.2 127.1)" fill="url(#redg)" stroke="#bf1a1a" stroke-width="1.1"/><ellipse cx="98" cy="112" rx="3.6" ry="4.14" transform="rotate(0 98 112)" fill="url(#redg)" stroke="#bf1a1a" stroke-width="1.1"/><ellipse cx="97.9" cy="15.6" rx="3.4" ry="3.91" transform="rotate(0 97.9 15.6)" fill="url(#redg)" stroke="#bf1a1a" stroke-width="1.1"/><ellipse cx="110.5" cy="70.5" rx="3.2" ry="3.68" transform="rotate(0 110.5 70.5)" fill="url(#redg)" stroke="#bf1a1a" stroke-width="1.1"/><ellipse cx="54.2" cy="158.3" rx="3.5" ry="4.02" transform="rotate(0 54.2 158.3)" fill="url(#redg)" stroke="#bf1a1a" stroke-width="1.1"/><g transform="rotate(0 70.4 61.3)"><path d="M62.9 58.3 C64.4 54.3 69.4 56.3 70.4 58.8 C71.4 56.3 76.4 54.3 77.9 58.3 C78.9 64.3 73.4 67.3 70.4 64.3 C67.4 67.3 61.9 64.3 62.9 58.3Z" fill="url(#redg)" stroke="#bf1a1a" stroke-width="1.2"/><rect x="67.9" y="59.8" width="5" height="2.6" fill="#c8705a"/><circle cx="66.4" cy="60.8" r="2.3" fill="#d8b4d4"/><circle cx="74.4" cy="60.8" r="2.3" fill="#d8b4d4"/></g><g transform="rotate(-50 103.7 66.3)"><path d="M96.2 63.3 C97.7 59.3 102.7 61.3 103.7 63.8 C104.7 61.3 109.7 59.3 111.2 63.3 C112.2 69.3 106.7 72.3 103.7 69.3 C100.7 72.3 95.2 69.3 96.2 63.3Z" fill="url(#redg)" stroke="#bf1a1a" stroke-width="1.2"/><rect x="101.2" y="64.8" width="5" height="2.6" fill="#c8705a"/><circle cx="99.7" cy="65.8" r="2.3" fill="#d8b4d4"/><circle cx="107.7" cy="65.8" r="2.3" fill="#d8b4d4"/></g><g transform="rotate(35 47.2 76.9)"><path d="M39.7 73.9 C41.2 69.9 46.2 71.9 47.2 74.4 C48.2 71.9 53.2 69.9 54.7 73.9 C55.7 79.9 50.2 82.9 47.2 79.9 C44.2 82.9 38.7 79.9 39.7 73.9Z" fill="url(#redg)" stroke="#bf1a1a" stroke-width="1.2"/><rect x="44.7" y="75.4" width="5" height="2.6" fill="#c8705a"/><circle cx="43.2" cy="76.4" r="2.3" fill="#d8b4d4"/><circle cx="51.2" cy="76.4" r="2.3" fill="#d8b4d4"/></g><g transform="rotate(40 104.9 94.5)"><path d="M97.4 91.5 C98.9 87.5 103.9 89.5 104.9 92 C105.9 89.5 110.9 87.5 112.4 91.5 C113.4 97.5 107.9 100.5 104.9 97.5 C101.9 100.5 96.4 97.5 97.4 91.5Z" fill="url(#redg)" stroke="#bf1a1a" stroke-width="1.2"/><rect x="102.4" y="93" width="5" height="2.6" fill="#c8705a"/><circle cx="100.9" cy="94" r="2.3" fill="#d8b4d4"/><circle cx="108.9" cy="94" r="2.3" fill="#d8b4d4"/></g><g transform="rotate(-30 45.4 110.8)"><path d="M37.9 107.8 C39.4 103.8 44.4 105.8 45.4 108.3 C46.4 105.8 51.4 103.8 52.9 107.8 C53.9 113.8 48.4 116.8 45.4 113.8 C42.4 116.8 36.9 113.8 37.9 107.8Z" fill="url(#redg)" stroke="#bf1a1a" stroke-width="1.2"/><rect x="42.9" y="109.3" width="5" height="2.6" fill="#c8705a"/><circle cx="41.4" cy="110.3" r="2.3" fill="#d8b4d4"/><circle cx="49.4" cy="110.3" r="2.3" fill="#d8b4d4"/></g><g transform="rotate(0 79.2 110.8)"><path d="M71.7 107.8 C73.2 103.8 78.2 105.8 79.2 108.3 C80.2 105.8 85.2 103.8 86.7 107.8 C87.7 113.8 82.2 116.8 79.2 113.8 C76.2 116.8 70.7 113.8 71.7 107.8Z" fill="url(#redg)" stroke="#bf1a1a" stroke-width="1.2"/><rect x="76.7" y="109.3" width="5" height="2.6" fill="#c8705a"/><circle cx="75.2" cy="110.3" r="2.3" fill="#d8b4d4"/><circle cx="83.2" cy="110.3" r="2.3" fill="#d8b4d4"/></g><path d="M63 66 C70 62 74 68 72 74 C70 82 74 88 80 90 C88 92 92 100 88 106 C82 108 76 104 74 98 C72 92 64 86 62 80 C60 74 60 68 63 66Z" fill="#8aee8a" stroke="#34b834" stroke-width="1.2"/><path d="M48 94 C46 102 54 110 64 108 C72 108 76 104 74 100 C66 100 60 96 56 92 C52 90 49 90 48 94Z" fill="url(#redg)" stroke="#bf1a1a" stroke-width="1.2"/><path d="M74 64 C80 64 98 84 104 96 C104 100 100 100 98 98 C92 90 80 80 74 72 C72 68 72 64 74 64Z" fill="url(#redg)" stroke="#bf1a1a" stroke-width="1.2"/><rect x="59" y="89" width="9" height="9" transform="rotate(45 63.5 93.5)" fill="#6020b0" stroke="#c03040" stroke-width="1.6"/><ellipse cx="87" cy="80.5" rx="7.5" ry="5.2" transform="rotate(-25 87 80.5)" fill="#7ad05a" stroke="#2a9a2a" stroke-width="1.4"/><ellipse cx="87" cy="80.5" rx="3.2" ry="2.2" transform="rotate(-25 87 80.5)" fill="#c8b020" stroke="#a08010" stroke-width="0.6"/></g><rect x="111.8" y="-1" width="49.7" height="25.6" fill="#fff"/><rect x="0.5" y="0.5" width="159" height="157" fill="none" stroke="#b8b8b8" stroke-width="1" stroke-dasharray="1.5 2"/></g>
<text x="523.72" y="545.5" font-size="14.8" fill="#000" text-anchor="start" font-weight="bold" textLength="36.46" lengthAdjust="spacingAndGlyphs">CoFe</text>
<g transform="translate(591.4 528.5)"><g clip-path="url(#clip_CoMn)"><path d="M-52.35 0.8L-34.65 0.8M-52.35 0.8L-61.2 16.4M-34.65 0.8L-25.8 16.4M0.75 0.8L18.45 0.8M0.75 0.8L-8.1 16.4M18.45 0.8L27.3 16.4M53.85 0.8L71.55 0.8M53.85 0.8L45 16.4M71.55 0.8L80.4 16.4M106.95 0.8L124.65 0.8M106.95 0.8L98.1 16.4M124.65 0.8L133.5 16.4M160.05 0.8L177.75 0.8M160.05 0.8L151.2 16.4M177.75 0.8L186.6 16.4M213.15 0.8L230.85 0.8M213.15 0.8L204.3 16.4M230.85 0.8L239.7 16.4M-25.8 16.4L-8.1 16.4M-25.8 16.4L-34.65 32M-8.1 16.4L0.75 32M27.3 16.4L45 16.4M27.3 16.4L18.45 32M45 16.4L53.85 32M80.4 16.4L98.1 16.4M80.4 16.4L71.55 32M98.1 16.4L106.95 32M133.5 16.4L151.2 16.4M133.5 16.4L124.65 32M151.2 16.4L160.05 32M186.6 16.4L204.3 16.4M186.6 16.4L177.75 32M204.3 16.4L213.15 32M239.7 16.4L257.4 16.4M239.7 16.4L230.85 32M257.4 16.4L266.25 32M-52.35 32L-34.65 32M-52.35 32L-61.2 47.6M-34.65 32L-25.8 47.6M0.75 32L18.45 32M0.75 32L-8.1 47.6M18.45 32L27.3 47.6M53.85 32L71.55 32M53.85 32L45 47.6M71.55 32L80.4 47.6M106.95 32L124.65 32M106.95 32L98.1 47.6M124.65 32L133.5 47.6M160.05 32L177.75 32M160.05 32L151.2 47.6M177.75 32L186.6 47.6M213.15 32L230.85 32M213.15 32L204.3 47.6M230.85 32L239.7 47.6M-25.8 47.6L-8.1 47.6M-25.8 47.6L-34.65 63.2M-8.1 47.6L0.75 63.2M27.3 47.6L45 47.6M27.3 47.6L18.45 63.2M45 47.6L53.85 63.2M80.4 47.6L98.1 47.6M80.4 47.6L71.55 63.2M98.1 47.6L106.95 63.2M133.5 47.6L151.2 47.6M133.5 47.6L124.65 63.2M151.2 47.6L160.05 63.2M186.6 47.6L204.3 47.6M186.6 47.6L177.75 63.2M204.3 47.6L213.15 63.2M239.7 47.6L257.4 47.6M239.7 47.6L230.85 63.2M257.4 47.6L266.25 63.2M-52.35 63.2L-34.65 63.2M-52.35 63.2L-61.2 78.8M-34.65 63.2L-25.8 78.8M0.75 63.2L18.45 63.2M0.75 63.2L-8.1 78.8M18.45 63.2L27.3 78.8M53.85 63.2L71.55 63.2M53.85 63.2L45 78.8M71.55 63.2L80.4 78.8M106.95 63.2L124.65 63.2M106.95 63.2L98.1 78.8M124.65 63.2L133.5 78.8M160.05 63.2L177.75 63.2M160.05 63.2L151.2 78.8M177.75 63.2L186.6 78.8M213.15 63.2L230.85 63.2M213.15 63.2L204.3 78.8M230.85 63.2L239.7 78.8M-25.8 78.8L-8.1 78.8M-25.8 78.8L-34.65 94.4M-8.1 78.8L0.75 94.4M27.3 78.8L45 78.8M27.3 78.8L18.45 94.4M45 78.8L53.85 94.4M80.4 78.8L98.1 78.8M80.4 78.8L71.55 94.4M98.1 78.8L106.95 94.4M133.5 78.8L151.2 78.8M133.5 78.8L124.65 94.4M151.2 78.8L160.05 94.4M186.6 78.8L204.3 78.8M186.6 78.8L177.75 94.4M204.3 78.8L213.15 94.4M239.7 78.8L257.4 78.8M239.7 78.8L230.85 94.4M257.4 78.8L266.25 94.4M-52.35 94.4L-34.65 94.4M-52.35 94.4L-61.2 110M-34.65 94.4L-25.8 110M0.75 94.4L18.45 94.4M0.75 94.4L-8.1 110M18.45 94.4L27.3 110M53.85 94.4L71.55 94.4M53.85 94.4L45 110M71.55 94.4L80.4 110M106.95 94.4L124.65 94.4M106.95 94.4L98.1 110M124.65 94.4L133.5 110M160.05 94.4L177.75 94.4M160.05 94.4L151.2 110M177.75 94.4L186.6 110M213.15 94.4L230.85 94.4M213.15 94.4L204.3 110M230.85 94.4L239.7 110M-25.8 110L-8.1 110M-25.8 110L-34.65 125.6M-8.1 110L0.75 125.6M27.3 110L45 110M27.3 110L18.45 125.6M45 110L53.85 125.6M80.4 110L98.1 110M80.4 110L71.55 125.6M98.1 110L106.95 125.6M133.5 110L151.2 110M133.5 110L124.65 125.6M151.2 110L160.05 125.6M186.6 110L204.3 110M186.6 110L177.75 125.6M204.3 110L213.15 125.6M239.7 110L257.4 110M239.7 110L230.85 125.6M257.4 110L266.25 125.6M-52.35 125.6L-34.65 125.6M-52.35 125.6L-61.2 141.2M-34.65 125.6L-25.8 141.2M0.75 125.6L18.45 125.6M0.75 125.6L-8.1 141.2M18.45 125.6L27.3 141.2M53.85 125.6L71.55 125.6M53.85 125.6L45 141.2M71.55 125.6L80.4 141.2M106.95 125.6L124.65 125.6M106.95 125.6L98.1 141.2M124.65 125.6L133.5 141.2M160.05 125.6L177.75 125.6M160.05 125.6L151.2 141.2M177.75 125.6L186.6 141.2M213.15 125.6L230.85 125.6M213.15 125.6L204.3 141.2M230.85 125.6L239.7 141.2M-25.8 141.2L-8.1 141.2M-25.8 141.2L-34.65 156.8M-8.1 141.2L0.75 156.8M27.3 141.2L45 141.2M27.3 141.2L18.45 156.8M45 141.2L53.85 156.8M80.4 141.2L98.1 141.2M80.4 141.2L71.55 156.8M98.1 141.2L106.95 156.8M133.5 141.2L151.2 141.2M133.5 141.2L124.65 156.8M151.2 141.2L160.05 156.8M186.6 141.2L204.3 141.2M186.6 141.2L177.75 156.8M204.3 141.2L213.15 156.8M239.7 141.2L257.4 141.2M239.7 141.2L230.85 156.8M257.4 141.2L266.25 156.8M-52.35 156.8L-34.65 156.8M0.75 156.8L18.45 156.8M53.85 156.8L71.55 156.8M106.95 156.8L124.65 156.8M160.05 156.8L177.75 156.8M213.15 156.8L230.85 156.8" stroke="#a47858" stroke-width="2.7" fill="none"/><circle cx="0.75" cy="0.8" r="3.5" fill="url(#atC2)"/><circle cx="18.45" cy="0.8" r="3.5" fill="url(#atC2)"/><circle cx="53.85" cy="0.8" r="3.5" fill="url(#atC2)"/><circle cx="71.55" cy="0.8" r="3.5" fill="url(#atC2)"/><circle cx="106.95" cy="0.8" r="3.5" fill="url(#atC2)"/><circle cx="124.65" cy="0.8" r="3.5" fill="url(#atC2)"/><circle cx="160.05" cy="0.8" r="3.5" fill="url(#atC2)"/><circle cx="27.3" cy="16.4" r="3.5" fill="url(#atC2)"/><circle cx="45" cy="16.4" r="3.5" fill="url(#atC2)"/><circle cx="80.4" cy="16.4" r="3.5" fill="url(#atC2)"/><circle cx="98.1" cy="16.4" r="3.5" fill="url(#atC2)"/><circle cx="133.5" cy="16.4" r="3.5" fill="url(#atC2)"/><circle cx="151.2" cy="16.4" r="3.5" fill="url(#atC2)"/><circle cx="0.75" cy="32" r="3.5" fill="url(#atC2)"/><circle cx="18.45" cy="32" r="3.5" fill="url(#atC2)"/><circle cx="53.85" cy="32" r="3.5" fill="url(#atC2)"/><circle cx="71.55" cy="32" r="3.5" fill="url(#atC2)"/><circle cx="106.95" cy="32" r="3.5" fill="url(#atC2)"/><circle cx="124.65" cy="32" r="3.5" fill="url(#atC2)"/><circle cx="160.05" cy="32" r="3.5" fill="url(#atC2)"/><circle cx="27.3" cy="47.6" r="3.5" fill="url(#atC2)"/><circle cx="45" cy="47.6" r="3.5" fill="url(#atC2)"/><circle cx="80.4" cy="47.6" r="3.5" fill="url(#atC2)"/><circle cx="98.1" cy="47.6" r="3.5" fill="url(#atC2)"/><circle cx="133.5" cy="47.6" r="3.5" fill="url(#atC2)"/><circle cx="151.2" cy="47.6" r="3.5" fill="url(#atC2)"/><circle cx="0.75" cy="63.2" r="3.5" fill="url(#atC2)"/><circle cx="18.45" cy="63.2" r="3.5" fill="url(#atC2)"/><circle cx="53.85" cy="63.2" r="3.5" fill="url(#atC2)"/><circle cx="71.55" cy="63.2" r="3.5" fill="url(#atC2)"/><circle cx="106.95" cy="63.2" r="3.5" fill="url(#atC2)"/><circle cx="124.65" cy="63.2" r="3.5" fill="url(#atC2)"/><circle cx="160.05" cy="63.2" r="3.5" fill="url(#atC2)"/><circle cx="27.3" cy="78.8" r="3.5" fill="url(#atC2)"/><circle cx="45" cy="78.8" r="3.5" fill="url(#atC2)"/><circle cx="80.4" cy="78.8" r="3.5" fill="url(#atC2)"/><circle cx="98.1" cy="78.8" r="3.5" fill="url(#atC2)"/><circle cx="133.5" cy="78.8" r="3.5" fill="url(#atC2)"/><circle cx="151.2" cy="78.8" r="3.5" fill="url(#atC2)"/><circle cx="0.75" cy="94.4" r="3.5" fill="url(#atC2)"/><circle cx="18.45" cy="94.4" r="3.5" fill="url(#atC2)"/><circle cx="53.85" cy="94.4" r="3.5" fill="url(#atC2)"/><circle cx="71.55" cy="94.4" r="3.5" fill="url(#atC2)"/><circle cx="106.95" cy="94.4" r="3.5" fill="url(#atC2)"/><circle cx="124.65" cy="94.4" r="3.5" fill="url(#atC2)"/><circle cx="160.05" cy="94.4" r="3.5" fill="url(#atC2)"/><circle cx="27.3" cy="110" r="3.5" fill="url(#atC2)"/><circle cx="45" cy="110" r="3.5" fill="url(#atC2)"/><circle cx="80.4" cy="110" r="3.5" fill="url(#atC2)"/><circle cx="98.1" cy="110" r="3.5" fill="url(#atC2)"/><circle cx="133.5" cy="110" r="3.5" fill="url(#atC2)"/><circle cx="151.2" cy="110" r="3.5" fill="url(#atC2)"/><circle cx="0.75" cy="125.6" r="3.5" fill="url(#atC2)"/><circle cx="18.45" cy="125.6" r="3.5" fill="url(#atC2)"/><circle cx="53.85" cy="125.6" r="3.5" fill="url(#atC2)"/><circle cx="71.55" cy="125.6" r="3.5" fill="url(#atC2)"/><circle cx="106.95" cy="125.6" r="3.5" fill="url(#atC2)"/><circle cx="124.65" cy="125.6" r="3.5" fill="url(#atC2)"/><circle cx="160.05" cy="125.6" r="3.5" fill="url(#atC2)"/><circle cx="27.3" cy="141.2" r="3.5" fill="url(#atC2)"/><circle cx="45" cy="141.2" r="3.5" fill="url(#atC2)"/><circle cx="80.4" cy="141.2" r="3.5" fill="url(#atC2)"/><circle cx="98.1" cy="141.2" r="3.5" fill="url(#atC2)"/><circle cx="133.5" cy="141.2" r="3.5" fill="url(#atC2)"/><circle cx="151.2" cy="141.2" r="3.5" fill="url(#atC2)"/><circle cx="0.75" cy="156.8" r="3.5" fill="url(#atC2)"/><circle cx="18.45" cy="156.8" r="3.5" fill="url(#atC2)"/><circle cx="53.85" cy="156.8" r="3.5" fill="url(#atC2)"/><circle cx="71.55" cy="156.8" r="3.5" fill="url(#atC2)"/><circle cx="106.95" cy="156.8" r="3.5" fill="url(#atC2)"/><circle cx="124.65" cy="156.8" r="3.5" fill="url(#atC2)"/><circle cx="160.05" cy="156.8" r="3.5" fill="url(#atC2)"/><ellipse cx="49" cy="50.5" rx="3.2" ry="2.6" transform="rotate(0 49 50.5)" fill="#8aee8a" stroke="#34b834" stroke-width="1.1"/><ellipse cx="20.2" cy="69" rx="2.8" ry="4.5" transform="rotate(0 20.2 69)" fill="#8aee8a" stroke="#34b834" stroke-width="1.1"/><ellipse cx="20.8" cy="86.3" rx="2.5" ry="3.2" transform="rotate(0 20.8 86.3)" fill="#8aee8a" stroke="#34b834" stroke-width="1.1"/><ellipse cx="20.3" cy="100.2" rx="2.6" ry="2" transform="rotate(0 20.3 100.2)" fill="#8aee8a" stroke="#34b834" stroke-width="1.1"/><ellipse cx="21.5" cy="115" rx="3" ry="4.5" transform="rotate(20 21.5 115)" fill="#8aee8a" stroke="#34b834" stroke-width="1.1"/><ellipse cx="52" cy="70" rx="2.5" ry="3.5" transform="rotate(0 52 70)" fill="#8aee8a" stroke="#34b834" stroke-width="1.1"/><ellipse cx="110" cy="70" rx="3" ry="3" transform="rotate(0 110 70)" fill="#8aee8a" stroke="#34b834" stroke-width="1.1"/><ellipse cx="116" cy="88" rx="3" ry="3.5" transform="rotate(0 116 88)" fill="#8aee8a" stroke="#34b834" stroke-width="1.1"/><ellipse cx="133" cy="60" rx="3" ry="3" transform="rotate(0 133 60)" fill="#8aee8a" stroke="#34b834" stroke-width="1.1"/><ellipse cx="137" cy="100" rx="3.2" ry="5" transform="rotate(0 137 100)" fill="#8aee8a" stroke="#34b834" stroke-width="1.1"/><ellipse cx="101" cy="33.5" rx="3" ry="2.5" transform="rotate(0 101 33.5)" fill="#8aee8a" stroke="#34b834" stroke-width="1.1"/><ellipse cx="112" cy="123" rx="3.5" ry="3" transform="rotate(0 112 123)" fill="#8aee8a" stroke="#34b834" stroke-width="1.1"/><ellipse cx="45" cy="102" rx="3" ry="2.5" transform="rotate(0 45 102)" fill="#8aee8a" stroke="#34b834" stroke-width="1.1"/><ellipse cx="104" cy="105" rx="3.5" ry="2.5" transform="rotate(0 104 105)" fill="#8aee8a" stroke="#34b834" stroke-width="1.1"/><ellipse cx="72" cy="100" rx="3" ry="2.5" transform="rotate(0 72 100)" fill="#8aee8a" stroke="#34b834" stroke-width="1.1"/><path d="M74.85 36.43Q84.99 33.17 95.27 37.23" fill="none" stroke="#34b834" stroke-width="6.2" stroke-linecap="round"/><path d="M74.85 36.43Q84.99 33.17 95.27 37.23" fill="none" stroke="#8aee8a" stroke-width="3.6" stroke-linecap="round"/><path d="M74.85 36.43Q84.99 33.17 95.27 37.23" fill="none" stroke="#b8f8b8" stroke-width="1.08" stroke-linecap="round" opacity="0.6"/><path d="M49.72 138.18Q63.48 130.78 77.39 138.65" fill="none" stroke="#34b834" stroke-width="6.2" stroke-linecap="round"/><path d="M49.72 138.18Q63.48 130.78 77.39 138.65" fill="none" stroke="#8aee8a" stroke-width="3.6" stroke-linecap="round"/><path d="M49.72 138.18Q63.48 130.78 77.39 138.65" fill="none" stroke="#b8f8b8" stroke-width="1.08" stroke-linecap="round" opacity="0.6"/><path d="M33.21 78.24Q37.49 66.57 49.7 63.27" fill="none" stroke="#34b834" stroke-width="11" stroke-linecap="round"/><path d="M33.21 78.24Q37.49 66.57 49.7 63.27" fill="none" stroke="#8aee8a" stroke-width="8.4" stroke-linecap="round"/><path d="M33.21 78.24Q37.49 66.57 49.7 63.27" fill="none" stroke="#b8f8b8" stroke-width="2.52" stroke-linecap="round" opacity="0.6"/><path d="M58.3 57.57Q63.5 50.73 74.44 50.06" fill="none" stroke="#34b834" stroke-width="11" stroke-linecap="round"/><path d="M58.3 57.57Q63.5 50.73 74.44 50.06" fill="none" stroke="#8aee8a" stroke-width="8.4" stroke-linecap="round"/><path d="M58.3 57.57Q63.5 50.73 74.44 50.06" fill="none" stroke="#b8f8b8" stroke-width="2.52" stroke-linecap="round" opacity="0.6"/><path d="M102.6 50.56Q113.08 53.56 118.97 60.59" fill="none" stroke="#34b834" stroke-width="11" stroke-linecap="round"/><path d="M102.6 50.56Q113.08 53.56 118.97 60.59" fill="none" stroke="#8aee8a" stroke-width="8.4" stroke-linecap="round"/><path d="M102.6 50.56Q113.08 53.56 118.97 60.59" fill="none" stroke="#b8f8b8" stroke-width="2.52" stroke-linecap="round" opacity="0.6"/><path d="M118.53 97.04Q115.78 107.77 103.73 110.68" fill="none" stroke="#34b834" stroke-width="11" stroke-linecap="round"/><path d="M118.53 97.04Q115.78 107.77 103.73 110.68" fill="none" stroke="#8aee8a" stroke-width="8.4" stroke-linecap="round"/><path d="M118.53 97.04Q115.78 107.77 103.73 110.68" fill="none" stroke="#b8f8b8" stroke-width="2.52" stroke-linecap="round" opacity="0.6"/><path d="M92.91 114.16Q89.08 122.4 77.66 122.63" fill="none" stroke="#34b834" stroke-width="11" stroke-linecap="round"/><path d="M92.91 114.16Q89.08 122.4 77.66 122.63" fill="none" stroke="#8aee8a" stroke-width="8.4" stroke-linecap="round"/><path d="M92.91 114.16Q89.08 122.4 77.66 122.63" fill="none" stroke="#b8f8b8" stroke-width="2.52" stroke-linecap="round" opacity="0.6"/><path d="M33.24 110.74Q36.28 121.83 50.73 123.62" fill="none" stroke="#34b834" stroke-width="11" stroke-linecap="round"/><path d="M33.24 110.74Q36.28 121.83 50.73 123.62" fill="none" stroke="#8aee8a" stroke-width="8.4" stroke-linecap="round"/><path d="M33.24 110.74Q36.28 121.83 50.73 123.62" fill="none" stroke="#b8f8b8" stroke-width="2.52" stroke-linecap="round" opacity="0.6"/><path d="M75 44 Q88 39 102 44 Q103 50 98 53 Q88 50 79 53 Q74 50 75 44Z" fill="url(#redg)" stroke="#bf1a1a" stroke-width="1.3"/><path d="M49.5 130 Q50 124 54 123 Q63 126 73 123 Q77.5 125 77 130 Q63 135.5 49.5 130Z" fill="url(#redg)" stroke="#bf1a1a" stroke-width="1.3"/><ellipse cx="26.5" cy="79.7" rx="4.4" ry="7.8" transform="rotate(8 26.5 79.7)" fill="url(#redg)" stroke="#bf1a1a" stroke-width="1.2"/><ellipse cx="20.6" cy="94.2" rx="4" ry="4" transform="rotate(0 20.6 94.2)" fill="url(#redg)" stroke="#bf1a1a" stroke-width="1.2"/><ellipse cx="131.2" cy="80.7" rx="5" ry="5" transform="rotate(0 131.2 80.7)" fill="url(#redg)" stroke="#bf1a1a" stroke-width="1.2"/><ellipse cx="124.4" cy="93.8" rx="3.7" ry="7.3" transform="rotate(12 124.4 93.8)" fill="url(#redg)" stroke="#bf1a1a" stroke-width="1.2"/><ellipse cx="44.7" cy="47.5" rx="3.6" ry="4.14" transform="rotate(0 44.7 47.5)" fill="url(#redg)" stroke="#bf1a1a" stroke-width="1.1"/><ellipse cx="53.5" cy="61.3" rx="3.6" ry="4.14" transform="rotate(0 53.5 61.3)" fill="url(#redg)" stroke="#bf1a1a" stroke-width="1.1"/><ellipse cx="27.2" cy="110.8" rx="3.8" ry="4.37" transform="rotate(0 27.2 110.8)" fill="url(#redg)" stroke="#bf1a1a" stroke-width="1.1"/><ellipse cx="106.2" cy="127.1" rx="3.6" ry="4.14" transform="rotate(0 106.2 127.1)" fill="url(#redg)" stroke="#bf1a1a" stroke-width="1.1"/><ellipse cx="98" cy="112" rx="3.6" ry="4.14" transform="rotate(0 98 112)" fill="url(#redg)" stroke="#bf1a1a" stroke-width="1.1"/><ellipse cx="97.9" cy="15.6" rx="3.4" ry="3.91" transform="rotate(0 97.9 15.6)" fill="url(#redg)" stroke="#bf1a1a" stroke-width="1.1"/><ellipse cx="110.5" cy="70.5" rx="3.2" ry="3.68" transform="rotate(0 110.5 70.5)" fill="url(#redg)" stroke="#bf1a1a" stroke-width="1.1"/><ellipse cx="54.2" cy="158.3" rx="3.5" ry="4.02" transform="rotate(0 54.2 158.3)" fill="url(#redg)" stroke="#bf1a1a" stroke-width="1.1"/><g transform="rotate(0 70.4 61.3)"><path d="M62.9 58.3 C64.4 54.3 69.4 56.3 70.4 58.8 C71.4 56.3 76.4 54.3 77.9 58.3 C78.9 64.3 73.4 67.3 70.4 64.3 C67.4 67.3 61.9 64.3 62.9 58.3Z" fill="url(#redg)" stroke="#bf1a1a" stroke-width="1.2"/><rect x="67.9" y="59.8" width="5" height="2.6" fill="#c8705a"/><circle cx="66.4" cy="60.8" r="2.3" fill="#d8b4d4"/><circle cx="74.4" cy="60.8" r="2.3" fill="#d8b4d4"/></g><g transform="rotate(-50 103.7 66.3)"><path d="M96.2 63.3 C97.7 59.3 102.7 61.3 103.7 63.8 C104.7 61.3 109.7 59.3 111.2 63.3 C112.2 69.3 106.7 72.3 103.7 69.3 C100.7 72.3 95.2 69.3 96.2 63.3Z" fill="url(#redg)" stroke="#bf1a1a" stroke-width="1.2"/><rect x="101.2" y="64.8" width="5" height="2.6" fill="#c8705a"/><circle cx="99.7" cy="65.8" r="2.3" fill="#d8b4d4"/><circle cx="107.7" cy="65.8" r="2.3" fill="#d8b4d4"/></g><g transform="rotate(35 47.2 76.9)"><path d="M39.7 73.9 C41.2 69.9 46.2 71.9 47.2 74.4 C48.2 71.9 53.2 69.9 54.7 73.9 C55.7 79.9 50.2 82.9 47.2 79.9 C44.2 82.9 38.7 79.9 39.7 73.9Z" fill="url(#redg)" stroke="#bf1a1a" stroke-width="1.2"/><rect x="44.7" y="75.4" width="5" height="2.6" fill="#c8705a"/><circle cx="43.2" cy="76.4" r="2.3" fill="#d8b4d4"/><circle cx="51.2" cy="76.4" r="2.3" fill="#d8b4d4"/></g><g transform="rotate(40 104.9 94.5)"><path d="M97.4 91.5 C98.9 87.5 103.9 89.5 104.9 92 C105.9 89.5 110.9 87.5 112.4 91.5 C113.4 97.5 107.9 100.5 104.9 97.5 C101.9 100.5 96.4 97.5 97.4 91.5Z" fill="url(#redg)" stroke="#bf1a1a" stroke-width="1.2"/><rect x="102.4" y="93" width="5" height="2.6" fill="#c8705a"/><circle cx="100.9" cy="94" r="2.3" fill="#d8b4d4"/><circle cx="108.9" cy="94" r="2.3" fill="#d8b4d4"/></g><g transform="rotate(-30 45.4 110.8)"><path d="M37.9 107.8 C39.4 103.8 44.4 105.8 45.4 108.3 C46.4 105.8 51.4 103.8 52.9 107.8 C53.9 113.8 48.4 116.8 45.4 113.8 C42.4 116.8 36.9 113.8 37.9 107.8Z" fill="url(#redg)" stroke="#bf1a1a" stroke-width="1.2"/><rect x="42.9" y="109.3" width="5" height="2.6" fill="#c8705a"/><circle cx="41.4" cy="110.3" r="2.3" fill="#d8b4d4"/><circle cx="49.4" cy="110.3" r="2.3" fill="#d8b4d4"/></g><g transform="rotate(0 79.2 110.8)"><path d="M71.7 107.8 C73.2 103.8 78.2 105.8 79.2 108.3 C80.2 105.8 85.2 103.8 86.7 107.8 C87.7 113.8 82.2 116.8 79.2 113.8 C76.2 116.8 70.7 113.8 71.7 107.8Z" fill="url(#redg)" stroke="#bf1a1a" stroke-width="1.2"/><rect x="76.7" y="109.3" width="5" height="2.6" fill="#c8705a"/><circle cx="75.2" cy="110.3" r="2.3" fill="#d8b4d4"/><circle cx="83.2" cy="110.3" r="2.3" fill="#d8b4d4"/></g><path d="M70 68 C78 64 86 68 88 74 C92 82 94 92 90 100 C86 106 80 104 78 98 C76 92 70 90 68 84 C66 78 66 72 70 68Z" fill="#8aee8a" stroke="#34b834" stroke-width="1.2"/><path d="M50 82 C44 92 48 106 60 110 C68 112 74 108 72 104 C64 104 58 98 58 92 C58 86 54 80 50 82Z" fill="url(#redg)" stroke="#bf1a1a" stroke-width="1.2"/><ellipse cx="61.5" cy="94.7" rx="6" ry="3.8" transform="rotate(-25 61.5 94.7)" fill="#5a18b0" stroke="#bf1a1a" stroke-width="1.2"/><ellipse cx="64" cy="88" rx="3" ry="3" transform="rotate(0 64 88)" fill="#8aee8a" stroke="#34b834" stroke-width="1"/><ellipse cx="85.6" cy="80.2" rx="6" ry="6" transform="rotate(0 85.6 80.2)" fill="#8a6aa8" stroke="#2a9a2a" stroke-width="1.6"/><ellipse cx="85.6" cy="80.2" rx="2.6" ry="2.6" transform="rotate(0 85.6 80.2)" fill="#e020c0" stroke="#a01080" stroke-width="0.6"/></g><rect x="100.5" y="-1" width="58.7" height="25.6" fill="#fff"/><rect x="0.5" y="0.5" width="156.7" height="156.5" fill="none" stroke="#b8b8b8" stroke-width="1" stroke-dasharray="1.5 2"/></g>
<text x="698.25" y="546.3" font-size="14.8" fill="#000" text-anchor="start" font-weight="bold" textLength="44.85" lengthAdjust="spacingAndGlyphs">CoMn</text>
<g transform="translate(36.4 757.6)"><g clip-path="url(#clip_CuCu)"><path d="M-52.35 0.8L-34.65 0.8M-52.35 0.8L-61.2 16.4M-34.65 0.8L-25.8 16.4M0.75 0.8L18.45 0.8M0.75 0.8L-8.1 16.4M18.45 0.8L27.3 16.4M53.85 0.8L71.55 0.8M53.85 0.8L45 16.4M71.55 0.8L80.4 16.4M106.95 0.8L124.65 0.8M106.95 0.8L98.1 16.4M124.65 0.8L133.5 16.4M160.05 0.8L177.75 0.8M160.05 0.8L151.2 16.4M177.75 0.8L186.6 16.4M213.15 0.8L230.85 0.8M213.15 0.8L204.3 16.4M230.85 0.8L239.7 16.4M-25.8 16.4L-8.1 16.4M-25.8 16.4L-34.65 32M-8.1 16.4L0.75 32M27.3 16.4L45 16.4M27.3 16.4L18.45 32M45 16.4L53.85 32M80.4 16.4L98.1 16.4M80.4 16.4L71.55 32M98.1 16.4L106.95 32M133.5 16.4L151.2 16.4M133.5 16.4L124.65 32M151.2 16.4L160.05 32M186.6 16.4L204.3 16.4M186.6 16.4L177.75 32M204.3 16.4L213.15 32M239.7 16.4L257.4 16.4M239.7 16.4L230.85 32M257.4 16.4L266.25 32M-52.35 32L-34.65 32M-52.35 32L-61.2 47.6M-34.65 32L-25.8 47.6M0.75 32L18.45 32M0.75 32L-8.1 47.6M18.45 32L27.3 47.6M53.85 32L71.55 32M53.85 32L45 47.6M71.55 32L80.4 47.6M106.95 32L124.65 32M106.95 32L98.1 47.6M124.65 32L133.5 47.6M160.05 32L177.75 32M160.05 32L151.2 47.6M177.75 32L186.6 47.6M213.15 32L230.85 32M213.15 32L204.3 47.6M230.85 32L239.7 47.6M-25.8 47.6L-8.1 47.6M-25.8 47.6L-34.65 63.2M-8.1 47.6L0.75 63.2M27.3 47.6L45 47.6M27.3 47.6L18.45 63.2M45 47.6L53.85 63.2M80.4 47.6L98.1 47.6M80.4 47.6L71.55 63.2M98.1 47.6L106.95 63.2M133.5 47.6L151.2 47.6M133.5 47.6L124.65 63.2M151.2 47.6L160.05 63.2M186.6 47.6L204.3 47.6M186.6 47.6L177.75 63.2M204.3 47.6L213.15 63.2M239.7 47.6L257.4 47.6M239.7 47.6L230.85 63.2M257.4 47.6L266.25 63.2M-52.35 63.2L-34.65 63.2M-52.35 63.2L-61.2 78.8M-34.65 63.2L-25.8 78.8M0.75 63.2L18.45 63.2M0.75 63.2L-8.1 78.8M18.45 63.2L27.3 78.8M53.85 63.2L71.55 63.2M53.85 63.2L45 78.8M71.55 63.2L80.4 78.8M106.95 63.2L124.65 63.2M106.95 63.2L98.1 78.8M124.65 63.2L133.5 78.8M160.05 63.2L177.75 63.2M160.05 63.2L151.2 78.8M177.75 63.2L186.6 78.8M213.15 63.2L230.85 63.2M213.15 63.2L204.3 78.8M230.85 63.2L239.7 78.8M-25.8 78.8L-8.1 78.8M-25.8 78.8L-34.65 94.4M-8.1 78.8L0.75 94.4M27.3 78.8L45 78.8M27.3 78.8L18.45 94.4M45 78.8L53.85 94.4M80.4 78.8L98.1 78.8M80.4 78.8L71.55 94.4M98.1 78.8L106.95 94.4M133.5 78.8L151.2 78.8M133.5 78.8L124.65 94.4M151.2 78.8L160.05 94.4M186.6 78.8L204.3 78.8M186.6 78.8L177.75 94.4M204.3 78.8L213.15 94.4M239.7 78.8L257.4 78.8M239.7 78.8L230.85 94.4M257.4 78.8L266.25 94.4M-52.35 94.4L-34.65 94.4M-52.35 94.4L-61.2 110M-34.65 94.4L-25.8 110M0.75 94.4L18.45 94.4M0.75 94.4L-8.1 110M18.45 94.4L27.3 110M53.85 94.4L71.55 94.4M53.85 94.4L45 110M71.55 94.4L80.4 110M106.95 94.4L124.65 94.4M106.95 94.4L98.1 110M124.65 94.4L133.5 110M160.05 94.4L177.75 94.4M160.05 94.4L151.2 110M177.75 94.4L186.6 110M213.15 94.4L230.85 94.4M213.15 94.4L204.3 110M230.85 94.4L239.7 110M-25.8 110L-8.1 110M-25.8 110L-34.65 125.6M-8.1 110L0.75 125.6M27.3 110L45 110M27.3 110L18.45 125.6M45 110L53.85 125.6M80.4 110L98.1 110M80.4 110L71.55 125.6M98.1 110L106.95 125.6M133.5 110L151.2 110M133.5 110L124.65 125.6M151.2 110L160.05 125.6M186.6 110L204.3 110M186.6 110L177.75 125.6M204.3 110L213.15 125.6M239.7 110L257.4 110M239.7 110L230.85 125.6M257.4 110L266.25 125.6M-52.35 125.6L-34.65 125.6M-52.35 125.6L-61.2 141.2M-34.65 125.6L-25.8 141.2M0.75 125.6L18.45 125.6M0.75 125.6L-8.1 141.2M18.45 125.6L27.3 141.2M53.85 125.6L71.55 125.6M53.85 125.6L45 141.2M71.55 125.6L80.4 141.2M106.95 125.6L124.65 125.6M106.95 125.6L98.1 141.2M124.65 125.6L133.5 141.2M160.05 125.6L177.75 125.6M160.05 125.6L151.2 141.2M177.75 125.6L186.6 141.2M213.15 125.6L230.85 125.6M213.15 125.6L204.3 141.2M230.85 125.6L239.7 141.2M-25.8 141.2L-8.1 141.2M-25.8 141.2L-34.65 156.8M-8.1 141.2L0.75 156.8M27.3 141.2L45 141.2M27.3 141.2L18.45 156.8M45 141.2L53.85 156.8M80.4 141.2L98.1 141.2M80.4 141.2L71.55 156.8M98.1 141.2L106.95 156.8M133.5 141.2L151.2 141.2M133.5 141.2L124.65 156.8M151.2 141.2L160.05 156.8M186.6 141.2L204.3 141.2M186.6 141.2L177.75 156.8M204.3 141.2L213.15 156.8M239.7 141.2L257.4 141.2M239.7 141.2L230.85 156.8M257.4 141.2L266.25 156.8M-52.35 156.8L-34.65 156.8M0.75 156.8L18.45 156.8M53.85 156.8L71.55 156.8M106.95 156.8L124.65 156.8M160.05 156.8L177.75 156.8M213.15 156.8L230.85 156.8" stroke="#a47858" stroke-width="2.7" fill="none"/><circle cx="0.75" cy="0.8" r="3.5" fill="url(#atC2)"/><circle cx="18.45" cy="0.8" r="3.5" fill="url(#atC2)"/><circle cx="53.85" cy="0.8" r="3.5" fill="url(#atC2)"/><circle cx="71.55" cy="0.8" r="3.5" fill="url(#atC2)"/><circle cx="106.95" cy="0.8" r="3.5" fill="url(#atC2)"/><circle cx="124.65" cy="0.8" r="3.5" fill="url(#atC2)"/><circle cx="160.05" cy="0.8" r="3.5" fill="url(#atC2)"/><circle cx="27.3" cy="16.4" r="3.5" fill="url(#atC2)"/><circle cx="45" cy="16.4" r="3.5" fill="url(#atC2)"/><circle cx="80.4" cy="16.4" r="3.5" fill="url(#atC2)"/><circle cx="98.1" cy="16.4" r="3.5" fill="url(#atC2)"/><circle cx="133.5" cy="16.4" r="3.5" fill="url(#atC2)"/><circle cx="151.2" cy="16.4" r="3.5" fill="url(#atC2)"/><circle cx="0.75" cy="32" r="3.5" fill="url(#atC2)"/><circle cx="18.45" cy="32" r="3.5" fill="url(#atC2)"/><circle cx="53.85" cy="32" r="3.5" fill="url(#atC2)"/><circle cx="71.55" cy="32" r="3.5" fill="url(#atC2)"/><circle cx="106.95" cy="32" r="3.5" fill="url(#atC2)"/><circle cx="124.65" cy="32" r="3.5" fill="url(#atC2)"/><circle cx="160.05" cy="32" r="3.5" fill="url(#atC2)"/><circle cx="27.3" cy="47.6" r="3.5" fill="url(#atC2)"/><circle cx="45" cy="47.6" r="3.5" fill="url(#atC2)"/><circle cx="80.4" cy="47.6" r="3.5" fill="url(#atC2)"/><circle cx="98.1" cy="47.6" r="3.5" fill="url(#atC2)"/><circle cx="133.5" cy="47.6" r="3.5" fill="url(#atC2)"/><circle cx="151.2" cy="47.6" r="3.5" fill="url(#atC2)"/><circle cx="0.75" cy="63.2" r="3.5" fill="url(#atC2)"/><circle cx="18.45" cy="63.2" r="3.5" fill="url(#atC2)"/><circle cx="53.85" cy="63.2" r="3.5" fill="url(#atC2)"/><circle cx="71.55" cy="63.2" r="3.5" fill="url(#atC2)"/><circle cx="106.95" cy="63.2" r="3.5" fill="url(#atC2)"/><circle cx="124.65" cy="63.2" r="3.5" fill="url(#atC2)"/><circle cx="160.05" cy="63.2" r="3.5" fill="url(#atC2)"/><circle cx="27.3" cy="78.8" r="3.5" fill="url(#atC2)"/><circle cx="45" cy="78.8" r="3.5" fill="url(#atC2)"/><circle cx="80.4" cy="78.8" r="3.5" fill="url(#atC2)"/><circle cx="98.1" cy="78.8" r="3.5" fill="url(#atC2)"/><circle cx="133.5" cy="78.8" r="3.5" fill="url(#atC2)"/><circle cx="151.2" cy="78.8" r="3.5" fill="url(#atC2)"/><circle cx="0.75" cy="94.4" r="3.5" fill="url(#atC2)"/><circle cx="18.45" cy="94.4" r="3.5" fill="url(#atC2)"/><circle cx="53.85" cy="94.4" r="3.5" fill="url(#atC2)"/><circle cx="71.55" cy="94.4" r="3.5" fill="url(#atC2)"/><circle cx="106.95" cy="94.4" r="3.5" fill="url(#atC2)"/><circle cx="124.65" cy="94.4" r="3.5" fill="url(#atC2)"/><circle cx="160.05" cy="94.4" r="3.5" fill="url(#atC2)"/><circle cx="27.3" cy="110" r="3.5" fill="url(#atC2)"/><circle cx="45" cy="110" r="3.5" fill="url(#atC2)"/><circle cx="80.4" cy="110" r="3.5" fill="url(#atC2)"/><circle cx="98.1" cy="110" r="3.5" fill="url(#atC2)"/><circle cx="133.5" cy="110" r="3.5" fill="url(#atC2)"/><circle cx="151.2" cy="110" r="3.5" fill="url(#atC2)"/><circle cx="0.75" cy="125.6" r="3.5" fill="url(#atC2)"/><circle cx="18.45" cy="125.6" r="3.5" fill="url(#atC2)"/><circle cx="53.85" cy="125.6" r="3.5" fill="url(#atC2)"/><circle cx="71.55" cy="125.6" r="3.5" fill="url(#atC2)"/><circle cx="106.95" cy="125.6" r="3.5" fill="url(#atC2)"/><circle cx="124.65" cy="125.6" r="3.5" fill="url(#atC2)"/><circle cx="160.05" cy="125.6" r="3.5" fill="url(#atC2)"/><circle cx="27.3" cy="141.2" r="3.5" fill="url(#atC2)"/><circle cx="45" cy="141.2" r="3.5" fill="url(#atC2)"/><circle cx="80.4" cy="141.2" r="3.5" fill="url(#atC2)"/><circle cx="98.1" cy="141.2" r="3.5" fill="url(#atC2)"/><circle cx="133.5" cy="141.2" r="3.5" fill="url(#atC2)"/><circle cx="151.2" cy="141.2" r="3.5" fill="url(#atC2)"/><circle cx="0.75" cy="156.8" r="3.5" fill="url(#atC2)"/><circle cx="18.45" cy="156.8" r="3.5" fill="url(#atC2)"/><circle cx="53.85" cy="156.8" r="3.5" fill="url(#atC2)"/><circle cx="71.55" cy="156.8" r="3.5" fill="url(#atC2)"/><circle cx="106.95" cy="156.8" r="3.5" fill="url(#atC2)"/><circle cx="124.65" cy="156.8" r="3.5" fill="url(#atC2)"/><circle cx="160.05" cy="156.8" r="3.5" fill="url(#atC2)"/><ellipse cx="49" cy="50.5" rx="3.2" ry="2.6" transform="rotate(0 49 50.5)" fill="#8aee8a" stroke="#34b834" stroke-width="1.1"/><ellipse cx="20.2" cy="69" rx="2.8" ry="4.5" transform="rotate(0 20.2 69)" fill="#8aee8a" stroke="#34b834" stroke-width="1.1"/><ellipse cx="20.8" cy="86.3" rx="2.5" ry="3.2" transform="rotate(0 20.8 86.3)" fill="#8aee8a" stroke="#34b834" stroke-width="1.1"/><ellipse cx="20.3" cy="100.2" rx="2.6" ry="2" transform="rotate(0 20.3 100.2)" fill="#8aee8a" stroke="#34b834" stroke-width="1.1"/><ellipse cx="21.5" cy="115" rx="3" ry="4.5" transform="rotate(20 21.5 115)" fill="#8aee8a" stroke="#34b834" stroke-width="1.1"/><ellipse cx="52" cy="70" rx="2.5" ry="3.5" transform="rotate(0 52 70)" fill="#8aee8a" stroke="#34b834" stroke-width="1.1"/><ellipse cx="110" cy="70" rx="3" ry="3" transform="rotate(0 110 70)" fill="#8aee8a" stroke="#34b834" stroke-width="1.1"/><ellipse cx="116" cy="88" rx="3" ry="3.5" transform="rotate(0 116 88)" fill="#8aee8a" stroke="#34b834" stroke-width="1.1"/><ellipse cx="133" cy="60" rx="3" ry="3" transform="rotate(0 133 60)" fill="#8aee8a" stroke="#34b834" stroke-width="1.1"/><ellipse cx="137" cy="100" rx="3.2" ry="5" transform="rotate(0 137 100)" fill="#8aee8a" stroke="#34b834" stroke-width="1.1"/><ellipse cx="101" cy="33.5" rx="3" ry="2.5" transform="rotate(0 101 33.5)" fill="#8aee8a" stroke="#34b834" stroke-width="1.1"/><ellipse cx="112" cy="123" rx="3.5" ry="3" transform="rotate(0 112 123)" fill="#8aee8a" stroke="#34b834" stroke-width="1.1"/><ellipse cx="45" cy="102" rx="3" ry="2.5" transform="rotate(0 45 102)" fill="#8aee8a" stroke="#34b834" stroke-width="1.1"/><ellipse cx="104" cy="105" rx="3.5" ry="2.5" transform="rotate(0 104 105)" fill="#8aee8a" stroke="#34b834" stroke-width="1.1"/><ellipse cx="72" cy="100" rx="3" ry="2.5" transform="rotate(0 72 100)" fill="#8aee8a" stroke="#34b834" stroke-width="1.1"/><path d="M74.85 36.43Q84.99 33.17 95.27 37.23" fill="none" stroke="#34b834" stroke-width="6.2" stroke-linecap="round"/><path d="M74.85 36.43Q84.99 33.17 95.27 37.23" fill="none" stroke="#8aee8a" stroke-width="3.6" stroke-linecap="round"/><path d="M74.85 36.43Q84.99 33.17 95.27 37.23" fill="none" stroke="#b8f8b8" stroke-width="1.08" stroke-linecap="round" opacity="0.6"/><path d="M49.72 138.18Q63.48 130.78 77.39 138.65" fill="none" stroke="#34b834" stroke-width="6.2" stroke-linecap="round"/><path d="M49.72 138.18Q63.48 130.78 77.39 138.65" fill="none" stroke="#8aee8a" stroke-width="3.6" stroke-linecap="round"/><path d="M49.72 138.18Q63.48 130.78 77.39 138.65" fill="none" stroke="#b8f8b8" stroke-width="1.08" stroke-linecap="round" opacity="0.6"/><path d="M33.21 78.24Q37.49 66.57 49.7 63.27" fill="none" stroke="#34b834" stroke-width="11" stroke-linecap="round"/><path d="M33.21 78.24Q37.49 66.57 49.7 63.27" fill="none" stroke="#8aee8a" stroke-width="8.4" stroke-linecap="round"/><path d="M33.21 78.24Q37.49 66.57 49.7 63.27" fill="none" stroke="#b8f8b8" stroke-width="2.52" stroke-linecap="round" opacity="0.6"/><path d="M58.3 57.57Q63.5 50.73 74.44 50.06" fill="none" stroke="#34b834" stroke-width="11" stroke-linecap="round"/><path d="M58.3 57.57Q63.5 50.73 74.44 50.06" fill="none" stroke="#8aee8a" stroke-width="8.4" stroke-linecap="round"/><path d="M58.3 57.57Q63.5 50.73 74.44 50.06" fill="none" stroke="#b8f8b8" stroke-width="2.52" stroke-linecap="round" opacity="0.6"/><path d="M102.6 50.56Q113.08 53.56 118.97 60.59" fill="none" stroke="#34b834" stroke-width="11" stroke-linecap="round"/><path d="M102.6 50.56Q113.08 53.56 118.97 60.59" fill="none" stroke="#8aee8a" stroke-width="8.4" stroke-linecap="round"/><path d="M102.6 50.56Q113.08 53.56 118.97 60.59" fill="none" stroke="#b8f8b8" stroke-width="2.52" stroke-linecap="round" opacity="0.6"/><path d="M118.53 97.04Q115.78 107.77 103.73 110.68" fill="none" stroke="#34b834" stroke-width="11" stroke-linecap="round"/><path d="M118.53 97.04Q115.78 107.77 103.73 110.68" fill="none" stroke="#8aee8a" stroke-width="8.4" stroke-linecap="round"/><path d="M118.53 97.04Q115.78 107.77 103.73 110.68" fill="none" stroke="#b8f8b8" stroke-width="2.52" stroke-linecap="round" opacity="0.6"/><path d="M92.91 114.16Q89.08 122.4 77.66 122.63" fill="none" stroke="#34b834" stroke-width="11" stroke-linecap="round"/><path d="M92.91 114.16Q89.08 122.4 77.66 122.63" fill="none" stroke="#8aee8a" stroke-width="8.4" stroke-linecap="round"/><path d="M92.91 114.16Q89.08 122.4 77.66 122.63" fill="none" stroke="#b8f8b8" stroke-width="2.52" stroke-linecap="round" opacity="0.6"/><path d="M33.24 110.74Q36.28 121.83 50.73 123.62" fill="none" stroke="#34b834" stroke-width="11" stroke-linecap="round"/><path d="M33.24 110.74Q36.28 121.83 50.73 123.62" fill="none" stroke="#8aee8a" stroke-width="8.4" stroke-linecap="round"/><path d="M33.24 110.74Q36.28 121.83 50.73 123.62" fill="none" stroke="#b8f8b8" stroke-width="2.52" stroke-linecap="round" opacity="0.6"/><path d="M75 44 Q88 39 102 44 Q103 50 98 53 Q88 50 79 53 Q74 50 75 44Z" fill="url(#redg)" stroke="#bf1a1a" stroke-width="1.3"/><path d="M49.5 130 Q50 124 54 123 Q63 126 73 123 Q77.5 125 77 130 Q63 135.5 49.5 130Z" fill="url(#redg)" stroke="#bf1a1a" stroke-width="1.3"/><ellipse cx="26.5" cy="79.7" rx="4.4" ry="7.8" transform="rotate(8 26.5 79.7)" fill="url(#redg)" stroke="#bf1a1a" stroke-width="1.2"/><ellipse cx="20.6" cy="94.2" rx="4" ry="4" transform="rotate(0 20.6 94.2)" fill="url(#redg)" stroke="#bf1a1a" stroke-width="1.2"/><ellipse cx="131.2" cy="80.7" rx="5" ry="5" transform="rotate(0 131.2 80.7)" fill="url(#redg)" stroke="#bf1a1a" stroke-width="1.2"/><ellipse cx="124.4" cy="93.8" rx="3.7" ry="7.3" transform="rotate(12 124.4 93.8)" fill="url(#redg)" stroke="#bf1a1a" stroke-width="1.2"/><ellipse cx="44.7" cy="47.5" rx="3.6" ry="4.14" transform="rotate(0 44.7 47.5)" fill="url(#redg)" stroke="#bf1a1a" stroke-width="1.1"/><ellipse cx="53.5" cy="61.3" rx="3.6" ry="4.14" transform="rotate(0 53.5 61.3)" fill="url(#redg)" stroke="#bf1a1a" stroke-width="1.1"/><ellipse cx="27.2" cy="110.8" rx="3.8" ry="4.37" transform="rotate(0 27.2 110.8)" fill="url(#redg)" stroke="#bf1a1a" stroke-width="1.1"/><ellipse cx="106.2" cy="127.1" rx="3.6" ry="4.14" transform="rotate(0 106.2 127.1)" fill="url(#redg)" stroke="#bf1a1a" stroke-width="1.1"/><ellipse cx="98" cy="112" rx="3.6" ry="4.14" transform="rotate(0 98 112)" fill="url(#redg)" stroke="#bf1a1a" stroke-width="1.1"/><ellipse cx="97.9" cy="15.6" rx="3.4" ry="3.91" transform="rotate(0 97.9 15.6)" fill="url(#redg)" stroke="#bf1a1a" stroke-width="1.1"/><ellipse cx="110.5" cy="70.5" rx="3.2" ry="3.68" transform="rotate(0 110.5 70.5)" fill="url(#redg)" stroke="#bf1a1a" stroke-width="1.1"/><ellipse cx="54.2" cy="158.3" rx="3.5" ry="4.02" transform="rotate(0 54.2 158.3)" fill="url(#redg)" stroke="#bf1a1a" stroke-width="1.1"/><g transform="rotate(0 70.4 61.3)"><path d="M62.9 58.3 C64.4 54.3 69.4 56.3 70.4 58.8 C71.4 56.3 76.4 54.3 77.9 58.3 C78.9 64.3 73.4 67.3 70.4 64.3 C67.4 67.3 61.9 64.3 62.9 58.3Z" fill="url(#redg)" stroke="#bf1a1a" stroke-width="1.2"/><rect x="67.9" y="59.8" width="5" height="2.6" fill="#c8705a"/><circle cx="66.4" cy="60.8" r="2.3" fill="#d8b4d4"/><circle cx="74.4" cy="60.8" r="2.3" fill="#d8b4d4"/></g><g transform="rotate(-50 103.7 66.3)"><path d="M96.2 63.3 C97.7 59.3 102.7 61.3 103.7 63.8 C104.7 61.3 109.7 59.3 111.2 63.3 C112.2 69.3 106.7 72.3 103.7 69.3 C100.7 72.3 95.2 69.3 96.2 63.3Z" fill="url(#redg)" stroke="#bf1a1a" stroke-width="1.2"/><rect x="101.2" y="64.8" width="5" height="2.6" fill="#c8705a"/><circle cx="99.7" cy="65.8" r="2.3" fill="#d8b4d4"/><circle cx="107.7" cy="65.8" r="2.3" fill="#d8b4d4"/></g><g transform="rotate(35 47.2 76.9)"><path d="M39.7 73.9 C41.2 69.9 46.2 71.9 47.2 74.4 C48.2 71.9 53.2 69.9 54.7 73.9 C55.7 79.9 50.2 82.9 47.2 79.9 C44.2 82.9 38.7 79.9 39.7 73.9Z" fill="url(#redg)" stroke="#bf1a1a" stroke-width="1.2"/><rect x="44.7" y="75.4" width="5" height="2.6" fill="#c8705a"/><circle cx="43.2" cy="76.4" r="2.3" fill="#d8b4d4"/><circle cx="51.2" cy="76.4" r="2.3" fill="#d8b4d4"/></g><g transform="rotate(40 104.9 94.5)"><path d="M97.4 91.5 C98.9 87.5 103.9 89.5 104.9 92 C105.9 89.5 110.9 87.5 112.4 91.5 C113.4 97.5 107.9 100.5 104.9 97.5 C101.9 100.5 96.4 97.5 97.4 91.5Z" fill="url(#redg)" stroke="#bf1a1a" stroke-width="1.2"/><rect x="102.4" y="93" width="5" height="2.6" fill="#c8705a"/><circle cx="100.9" cy="94" r="2.3" fill="#d8b4d4"/><circle cx="108.9" cy="94" r="2.3" fill="#d8b4d4"/></g><g transform="rotate(-30 45.4 110.8)"><path d="M37.9 107.8 C39.4 103.8 44.4 105.8 45.4 108.3 C46.4 105.8 51.4 103.8 52.9 107.8 C53.9 113.8 48.4 116.8 45.4 113.8 C42.4 116.8 36.9 113.8 37.9 107.8Z" fill="url(#redg)" stroke="#bf1a1a" stroke-width="1.2"/><rect x="42.9" y="109.3" width="5" height="2.6" fill="#c8705a"/><circle cx="41.4" cy="110.3" r="2.3" fill="#d8b4d4"/><circle cx="49.4" cy="110.3" r="2.3" fill="#d8b4d4"/></g><g transform="rotate(0 79.2 110.8)"><path d="M71.7 107.8 C73.2 103.8 78.2 105.8 79.2 108.3 C80.2 105.8 85.2 103.8 86.7 107.8 C87.7 113.8 82.2 116.8 79.2 113.8 C76.2 116.8 70.7 113.8 71.7 107.8Z" fill="url(#redg)" stroke="#bf1a1a" stroke-width="1.2"/><rect x="76.7" y="109.3" width="5" height="2.6" fill="#c8705a"/><circle cx="75.2" cy="110.3" r="2.3" fill="#d8b4d4"/><circle cx="83.2" cy="110.3" r="2.3" fill="#d8b4d4"/></g><ellipse cx="66" cy="94.5" rx="12.5" ry="6.5" transform="rotate(45 66 94.5)" fill="#8aee8a" stroke="#34b834" stroke-width="1.2"/><ellipse cx="87.5" cy="80.5" rx="12.5" ry="6.5" transform="rotate(45 87.5 80.5)" fill="#8aee8a" stroke="#34b834" stroke-width="1.2"/><ellipse cx="71" cy="70" rx="3" ry="3.5" transform="rotate(0 71 70)" fill="#8aee8a" stroke="#34b834" stroke-width="1"/><ellipse cx="82" cy="103" rx="3.5" ry="3" transform="rotate(0 82 103)" fill="#8aee8a" stroke="#34b834" stroke-width="1"/><ellipse cx="99" cy="92" rx="3" ry="4" transform="rotate(0 99 92)" fill="#8aee8a" stroke="#34b834" stroke-width="1"/><line x1="52" y1="106" x2="101" y2="68" stroke="#3060a0" stroke-width="1" stroke-dasharray="3 3"/><rect x="59.3" y="90.1" width="7.6" height="7.6" transform="rotate(45 63.1 93.9)" fill="#6a48d0" stroke="#1e7a6a" stroke-width="1.6"/><rect x="84" y="76" width="7.6" height="7.6" transform="rotate(45 87.8 79.8)" fill="#6a48d0" stroke="#1e7a6a" stroke-width="1.6"/><ellipse cx="75.5" cy="86.8" rx="2.2" ry="1.5" transform="rotate(-35 75.5 86.8)" fill="url(#redg)" stroke="#bf1a1a" stroke-width="1"/><ellipse cx="55" cy="100.5" rx="2.4" ry="1.6" transform="rotate(-35 55 100.5)" fill="url(#redg)" stroke="#bf1a1a" stroke-width="1"/><ellipse cx="96.5" cy="74" rx="2.4" ry="1.6" transform="rotate(-35 96.5 74)" fill="url(#redg)" stroke="#bf1a1a" stroke-width="1"/></g><rect x="108.7" y="-1" width="52.7" height="25.6" fill="#fff"/><rect x="0.5" y="0.5" width="158.9" height="157.4" fill="none" stroke="#b8b8b8" stroke-width="1" stroke-dasharray="1.5 2"/></g>
<text x="151.52" y="774.7" font-size="14.8" fill="#000" text-anchor="start" font-weight="bold" textLength="38.85" lengthAdjust="spacingAndGlyphs">CuCu</text>
<g transform="translate(222 757.6)"><g clip-path="url(#clip_CoCo)"><path d="M-52.35 0.8L-34.65 0.8M-52.35 0.8L-61.2 16.4M-34.65 0.8L-25.8 16.4M0.75 0.8L18.45 0.8M0.75 0.8L-8.1 16.4M18.45 0.8L27.3 16.4M53.85 0.8L71.55 0.8M53.85 0.8L45 16.4M71.55 0.8L80.4 16.4M106.95 0.8L124.65 0.8M106.95 0.8L98.1 16.4M124.65 0.8L133.5 16.4M160.05 0.8L177.75 0.8M160.05 0.8L151.2 16.4M177.75 0.8L186.6 16.4M213.15 0.8L230.85 0.8M213.15 0.8L204.3 16.4M230.85 0.8L239.7 16.4M-25.8 16.4L-8.1 16.4M-25.8 16.4L-34.65 32M-8.1 16.4L0.75 32M27.3 16.4L45 16.4M27.3 16.4L18.45 32M45 16.4L53.85 32M80.4 16.4L98.1 16.4M80.4 16.4L71.55 32M98.1 16.4L106.95 32M133.5 16.4L151.2 16.4M133.5 16.4L124.65 32M151.2 16.4L160.05 32M186.6 16.4L204.3 16.4M186.6 16.4L177.75 32M204.3 16.4L213.15 32M239.7 16.4L257.4 16.4M239.7 16.4L230.85 32M257.4 16.4L266.25 32M-52.35 32L-34.65 32M-52.35 32L-61.2 47.6M-34.65 32L-25.8 47.6M0.75 32L18.45 32M0.75 32L-8.1 47.6M18.45 32L27.3 47.6M53.85 32L71.55 32M53.85 32L45 47.6M71.55 32L80.4 47.6M106.95 32L124.65 32M106.95 32L98.1 47.6M124.65 32L133.5 47.6M160.05 32L177.75 32M160.05 32L151.2 47.6M177.75 32L186.6 47.6M213.15 32L230.85 32M213.15 32L204.3 47.6M230.85 32L239.7 47.6M-25.8 47.6L-8.1 47.6M-25.8 47.6L-34.65 63.2M-8.1 47.6L0.75 63.2M27.3 47.6L45 47.6M27.3 47.6L18.45 63.2M45 47.6L53.85 63.2M80.4 47.6L98.1 47.6M80.4 47.6L71.55 63.2M98.1 47.6L106.95 63.2M133.5 47.6L151.2 47.6M133.5 47.6L124.65 63.2M151.2 47.6L160.05 63.2M186.6 47.6L204.3 47.6M186.6 47.6L177.75 63.2M204.3 47.6L213.15 63.2M239.7 47.6L257.4 47.6M239.7 47.6L230.85 63.2M257.4 47.6L266.25 63.2M-52.35 63.2L-34.65 63.2M-52.35 63.2L-61.2 78.8M-34.65 63.2L-25.8 78.8M0.75 63.2L18.45 63.2M0.75 63.2L-8.1 78.8M18.45 63.2L27.3 78.8M53.85 63.2L71.55 63.2M53.85 63.2L45 78.8M71.55 63.2L80.4 78.8M106.95 63.2L124.65 63.2M106.95 63.2L98.1 78.8M124.65 63.2L133.5 78.8M160.05 63.2L177.75 63.2M160.05 63.2L151.2 78.8M177.75 63.2L186.6 78.8M213.15 63.2L230.85 63.2M213.15 63.2L204.3 78.8M230.85 63.2L239.7 78.8M-25.8 78.8L-8.1 78.8M-25.8 78.8L-34.65 94.4M-8.1 78.8L0.75 94.4M27.3 78.8L45 78.8M27.3 78.8L18.45 94.4M45 78.8L53.85 94.4M80.4 78.8L98.1 78.8M80.4 78.8L71.55 94.4M98.1 78.8L106.95 94.4M133.5 78.8L151.2 78.8M133.5 78.8L124.65 94.4M151.2 78.8L160.05 94.4M186.6 78.8L204.3 78.8M186.6 78.8L177.75 94.4M204.3 78.8L213.15 94.4M239.7 78.8L257.4 78.8M239.7 78.8L230.85 94.4M257.4 78.8L266.25 94.4M-52.35 94.4L-34.65 94.4M-52.35 94.4L-61.2 110M-34.65 94.4L-25.8 110M0.75 94.4L18.45 94.4M0.75 94.4L-8.1 110M18.45 94.4L27.3 110M53.85 94.4L71.55 94.4M53.85 94.4L45 110M71.55 94.4L80.4 110M106.95 94.4L124.65 94.4M106.95 94.4L98.1 110M124.65 94.4L133.5 110M160.05 94.4L177.75 94.4M160.05 94.4L151.2 110M177.75 94.4L186.6 110M213.15 94.4L230.85 94.4M213.15 94.4L204.3 110M230.85 94.4L239.7 110M-25.8 110L-8.1 110M-25.8 110L-34.65 125.6M-8.1 110L0.75 125.6M27.3 110L45 110M27.3 110L18.45 125.6M45 110L53.85 125.6M80.4 110L98.1 110M80.4 110L71.55 125.6M98.1 110L106.95 125.6M133.5 110L151.2 110M133.5 110L124.65 125.6M151.2 110L160.05 125.6M186.6 110L204.3 110M186.6 110L177.75 125.6M204.3 110L213.15 125.6M239.7 110L257.4 110M239.7 110L230.85 125.6M257.4 110L266.25 125.6M-52.35 125.6L-34.65 125.6M-52.35 125.6L-61.2 141.2M-34.65 125.6L-25.8 141.2M0.75 125.6L18.45 125.6M0.75 125.6L-8.1 141.2M18.45 125.6L27.3 141.2M53.85 125.6L71.55 125.6M53.85 125.6L45 141.2M71.55 125.6L80.4 141.2M106.95 125.6L124.65 125.6M106.95 125.6L98.1 141.2M124.65 125.6L133.5 141.2M160.05 125.6L177.75 125.6M160.05 125.6L151.2 141.2M177.75 125.6L186.6 141.2M213.15 125.6L230.85 125.6M213.15 125.6L204.3 141.2M230.85 125.6L239.7 141.2M-25.8 141.2L-8.1 141.2M-25.8 141.2L-34.65 156.8M-8.1 141.2L0.75 156.8M27.3 141.2L45 141.2M27.3 141.2L18.45 156.8M45 141.2L53.85 156.8M80.4 141.2L98.1 141.2M80.4 141.2L71.55 156.8M98.1 141.2L106.95 156.8M133.5 141.2L151.2 141.2M133.5 141.2L124.65 156.8M151.2 141.2L160.05 156.8M186.6 141.2L204.3 141.2M186.6 141.2L177.75 156.8M204.3 141.2L213.15 156.8M239.7 141.2L257.4 141.2M239.7 141.2L230.85 156.8M257.4 141.2L266.25 156.8M-52.35 156.8L-34.65 156.8M0.75 156.8L18.45 156.8M53.85 156.8L71.55 156.8M106.95 156.8L124.65 156.8M160.05 156.8L177.75 156.8M213.15 156.8L230.85 156.8" stroke="#a47858" stroke-width="2.7" fill="none"/><circle cx="0.75" cy="0.8" r="3.5" fill="url(#atC2)"/><circle cx="18.45" cy="0.8" r="3.5" fill="url(#atC2)"/><circle cx="53.85" cy="0.8" r="3.5" fill="url(#atC2)"/><circle cx="71.55" cy="0.8" r="3.5" fill="url(#atC2)"/><circle cx="106.95" cy="0.8" r="3.5" fill="url(#atC2)"/><circle cx="124.65" cy="0.8" r="3.5" fill="url(#atC2)"/><circle cx="160.05" cy="0.8" r="3.5" fill="url(#atC2)"/><circle cx="27.3" cy="16.4" r="3.5" fill="url(#atC2)"/><circle cx="45" cy="16.4" r="3.5" fill="url(#atC2)"/><circle cx="80.4" cy="16.4" r="3.5" fill="url(#atC2)"/><circle cx="98.1" cy="16.4" r="3.5" fill="url(#atC2)"/><circle cx="133.5" cy="16.4" r="3.5" fill="url(#atC2)"/><circle cx="151.2" cy="16.4" r="3.5" fill="url(#atC2)"/><circle cx="0.75" cy="32" r="3.5" fill="url(#atC2)"/><circle cx="18.45" cy="32" r="3.5" fill="url(#atC2)"/><circle cx="53.85" cy="32" r="3.5" fill="url(#atC2)"/><circle cx="71.55" cy="32" r="3.5" fill="url(#atC2)"/><circle cx="106.95" cy="32" r="3.5" fill="url(#atC2)"/><circle cx="124.65" cy="32" r="3.5" fill="url(#atC2)"/><circle cx="160.05" cy="32" r="3.5" fill="url(#atC2)"/><circle cx="27.3" cy="47.6" r="3.5" fill="url(#atC2)"/><circle cx="45" cy="47.6" r="3.5" fill="url(#atC2)"/><circle cx="80.4" cy="47.6" r="3.5" fill="url(#atC2)"/><circle cx="98.1" cy="47.6" r="3.5" fill="url(#atC2)"/><circle cx="133.5" cy="47.6" r="3.5" fill="url(#atC2)"/><circle cx="151.2" cy="47.6" r="3.5" fill="url(#atC2)"/><circle cx="0.75" cy="63.2" r="3.5" fill="url(#atC2)"/><circle cx="18.45" cy="63.2" r="3.5" fill="url(#atC2)"/><circle cx="53.85" cy="63.2" r="3.5" fill="url(#atC2)"/><circle cx="71.55" cy="63.2" r="3.5" fill="url(#atC2)"/><circle cx="106.95" cy="63.2" r="3.5" fill="url(#atC2)"/><circle cx="124.65" cy="63.2" r="3.5" fill="url(#atC2)"/><circle cx="160.05" cy="63.2" r="3.5" fill="url(#atC2)"/><circle cx="27.3" cy="78.8" r="3.5" fill="url(#atC2)"/><circle cx="45" cy="78.8" r="3.5" fill="url(#atC2)"/><circle cx="80.4" cy="78.8" r="3.5" fill="url(#atC2)"/><circle cx="98.1" cy="78.8" r="3.5" fill="url(#atC2)"/><circle cx="133.5" cy="78.8" r="3.5" fill="url(#atC2)"/><circle cx="151.2" cy="78.8" r="3.5" fill="url(#atC2)"/><circle cx="0.75" cy="94.4" r="3.5" fill="url(#atC2)"/><circle cx="18.45" cy="94.4" r="3.5" fill="url(#atC2)"/><circle cx="53.85" cy="94.4" r="3.5" fill="url(#atC2)"/><circle cx="71.55" cy="94.4" r="3.5" fill="url(#atC2)"/><circle cx="106.95" cy="94.4" r="3.5" fill="url(#atC2)"/><circle cx="124.65" cy="94.4" r="3.5" fill="url(#atC2)"/><circle cx="160.05" cy="94.4" r="3.5" fill="url(#atC2)"/><circle cx="27.3" cy="110" r="3.5" fill="url(#atC2)"/><circle cx="45" cy="110" r="3.5" fill="url(#atC2)"/><circle cx="80.4" cy="110" r="3.5" fill="url(#atC2)"/><circle cx="98.1" cy="110" r="3.5" fill="url(#atC2)"/><circle cx="133.5" cy="110" r="3.5" fill="url(#atC2)"/><circle cx="151.2" cy="110" r="3.5" fill="url(#atC2)"/><circle cx="0.75" cy="125.6" r="3.5" fill="url(#atC2)"/><circle cx="18.45" cy="125.6" r="3.5" fill="url(#atC2)"/><circle cx="53.85" cy="125.6" r="3.5" fill="url(#atC2)"/><circle cx="71.55" cy="125.6" r="3.5" fill="url(#atC2)"/><circle cx="106.95" cy="125.6" r="3.5" fill="url(#atC2)"/><circle cx="124.65" cy="125.6" r="3.5" fill="url(#atC2)"/><circle cx="160.05" cy="125.6" r="3.5" fill="url(#atC2)"/><circle cx="27.3" cy="141.2" r="3.5" fill="url(#atC2)"/><circle cx="45" cy="141.2" r="3.5" fill="url(#atC2)"/><circle cx="80.4" cy="141.2" r="3.5" fill="url(#atC2)"/><circle cx="98.1" cy="141.2" r="3.5" fill="url(#atC2)"/><circle cx="133.5" cy="141.2" r="3.5" fill="url(#atC2)"/><circle cx="151.2" cy="141.2" r="3.5" fill="url(#atC2)"/><circle cx="0.75" cy="156.8" r="3.5" fill="url(#atC2)"/><circle cx="18.45" cy="156.8" r="3.5" fill="url(#atC2)"/><circle cx="53.85" cy="156.8" r="3.5" fill="url(#atC2)"/><circle cx="71.55" cy="156.8" r="3.5" fill="url(#atC2)"/><circle cx="106.95" cy="156.8" r="3.5" fill="url(#atC2)"/><circle cx="124.65" cy="156.8" r="3.5" fill="url(#atC2)"/><circle cx="160.05" cy="156.8" r="3.5" fill="url(#atC2)"/><ellipse cx="49" cy="50.5" rx="3.2" ry="2.6" transform="rotate(0 49 50.5)" fill="#8aee8a" stroke="#34b834" stroke-width="1.1"/><ellipse cx="20.2" cy="69" rx="2.8" ry="4.5" transform="rotate(0 20.2 69)" fill="#8aee8a" stroke="#34b834" stroke-width="1.1"/><ellipse cx="20.8" cy="86.3" rx="2.5" ry="3.2" transform="rotate(0 20.8 86.3)" fill="#8aee8a" stroke="#34b834" stroke-width="1.1"/><ellipse cx="20.3" cy="100.2" rx="2.6" ry="2" transform="rotate(0 20.3 100.2)" fill="#8aee8a" stroke="#34b834" stroke-width="1.1"/><ellipse cx="21.5" cy="115" rx="3" ry="4.5" transform="rotate(20 21.5 115)" fill="#8aee8a" stroke="#34b834" stroke-width="1.1"/><ellipse cx="52" cy="70" rx="2.5" ry="3.5" transform="rotate(0 52 70)" fill="#8aee8a" stroke="#34b834" stroke-width="1.1"/><ellipse cx="110" cy="70" rx="3" ry="3" transform="rotate(0 110 70)" fill="#8aee8a" stroke="#34b834" stroke-width="1.1"/><ellipse cx="116" cy="88" rx="3" ry="3.5" transform="rotate(0 116 88)" fill="#8aee8a" stroke="#34b834" stroke-width="1.1"/><ellipse cx="133" cy="60" rx="3" ry="3" transform="rotate(0 133 60)" fill="#8aee8a" stroke="#34b834" stroke-width="1.1"/><ellipse cx="137" cy="100" rx="3.2" ry="5" transform="rotate(0 137 100)" fill="#8aee8a" stroke="#34b834" stroke-width="1.1"/><ellipse cx="101" cy="33.5" rx="3" ry="2.5" transform="rotate(0 101 33.5)" fill="#8aee8a" stroke="#34b834" stroke-width="1.1"/><ellipse cx="112" cy="123" rx="3.5" ry="3" transform="rotate(0 112 123)" fill="#8aee8a" stroke="#34b834" stroke-width="1.1"/><ellipse cx="45" cy="102" rx="3" ry="2.5" transform="rotate(0 45 102)" fill="#8aee8a" stroke="#34b834" stroke-width="1.1"/><ellipse cx="104" cy="105" rx="3.5" ry="2.5" transform="rotate(0 104 105)" fill="#8aee8a" stroke="#34b834" stroke-width="1.1"/><ellipse cx="72" cy="100" rx="3" ry="2.5" transform="rotate(0 72 100)" fill="#8aee8a" stroke="#34b834" stroke-width="1.1"/><path d="M74.85 36.43Q84.99 33.17 95.27 37.23" fill="none" stroke="#34b834" stroke-width="6.2" stroke-linecap="round"/><path d="M74.85 36.43Q84.99 33.17 95.27 37.23" fill="none" stroke="#8aee8a" stroke-width="3.6" stroke-linecap="round"/><path d="M74.85 36.43Q84.99 33.17 95.27 37.23" fill="none" stroke="#b8f8b8" stroke-width="1.08" stroke-linecap="round" opacity="0.6"/><path d="M49.72 138.18Q63.48 130.78 77.39 138.65" fill="none" stroke="#34b834" stroke-width="6.2" stroke-linecap="round"/><path d="M49.72 138.18Q63.48 130.78 77.39 138.65" fill="none" stroke="#8aee8a" stroke-width="3.6" stroke-linecap="round"/><path d="M49.72 138.18Q63.48 130.78 77.39 138.65" fill="none" stroke="#b8f8b8" stroke-width="1.08" stroke-linecap="round" opacity="0.6"/><path d="M33.21 78.24Q37.49 66.57 49.7 63.27" fill="none" stroke="#34b834" stroke-width="11" stroke-linecap="round"/><path d="M33.21 78.24Q37.49 66.57 49.7 63.27" fill="none" stroke="#8aee8a" stroke-width="8.4" stroke-linecap="round"/><path d="M33.21 78.24Q37.49 66.57 49.7 63.27" fill="none" stroke="#b8f8b8" stroke-width="2.52" stroke-linecap="round" opacity="0.6"/><path d="M58.3 57.57Q63.5 50.73 74.44 50.06" fill="none" stroke="#34b834" stroke-width="11" stroke-linecap="round"/><path d="M58.3 57.57Q63.5 50.73 74.44 50.06" fill="none" stroke="#8aee8a" stroke-width="8.4" stroke-linecap="round"/><path d="M58.3 57.57Q63.5 50.73 74.44 50.06" fill="none" stroke="#b8f8b8" stroke-width="2.52" stroke-linecap="round" opacity="0.6"/><path d="M102.6 50.56Q113.08 53.56 118.97 60.59" fill="none" stroke="#34b834" stroke-width="11" stroke-linecap="round"/><path d="M102.6 50.56Q113.08 53.56 118.97 60.59" fill="none" stroke="#8aee8a" stroke-width="8.4" stroke-linecap="round"/><path d="M102.6 50.56Q113.08 53.56 118.97 60.59" fill="none" stroke="#b8f8b8" stroke-width="2.52" stroke-linecap="round" opacity="0.6"/><path d="M118.53 97.04Q115.78 107.77 103.73 110.68" fill="none" stroke="#34b834" stroke-width="11" stroke-linecap="round"/><path d="M118.53 97.04Q115.78 107.77 103.73 110.68" fill="none" stroke="#8aee8a" stroke-width="8.4" stroke-linecap="round"/><path d="M118.53 97.04Q115.78 107.77 103.73 110.68" fill="none" stroke="#b8f8b8" stroke-width="2.52" stroke-linecap="round" opacity="0.6"/><path d="M92.91 114.16Q89.08 122.4 77.66 122.63" fill="none" stroke="#34b834" stroke-width="11" stroke-linecap="round"/><path d="M92.91 114.16Q89.08 122.4 77.66 122.63" fill="none" stroke="#8aee8a" stroke-width="8.4" stroke-linecap="round"/><path d="M92.91 114.16Q89.08 122.4 77.66 122.63" fill="none" stroke="#b8f8b8" stroke-width="2.52" stroke-linecap="round" opacity="0.6"/><path d="M33.24 110.74Q36.28 121.83 50.73 123.62" fill="none" stroke="#34b834" stroke-width="11" stroke-linecap="round"/><path d="M33.24 110.74Q36.28 121.83 50.73 123.62" fill="none" stroke="#8aee8a" stroke-width="8.4" stroke-linecap="round"/><path d="M33.24 110.74Q36.28 121.83 50.73 123.62" fill="none" stroke="#b8f8b8" stroke-width="2.52" stroke-linecap="round" opacity="0.6"/><path d="M75 44 Q88 39 102 44 Q103 50 98 53 Q88 50 79 53 Q74 50 75 44Z" fill="url(#redg)" stroke="#bf1a1a" stroke-width="1.3"/><path d="M49.5 130 Q50 124 54 123 Q63 126 73 123 Q77.5 125 77 130 Q63 135.5 49.5 130Z" fill="url(#redg)" stroke="#bf1a1a" stroke-width="1.3"/><ellipse cx="26.5" cy="79.7" rx="4.4" ry="7.8" transform="rotate(8 26.5 79.7)" fill="url(#redg)" stroke="#bf1a1a" stroke-width="1.2"/><ellipse cx="20.6" cy="94.2" rx="4" ry="4" transform="rotate(0 20.6 94.2)" fill="url(#redg)" stroke="#bf1a1a" stroke-width="1.2"/><ellipse cx="131.2" cy="80.7" rx="5" ry="5" transform="rotate(0 131.2 80.7)" fill="url(#redg)" stroke="#bf1a1a" stroke-width="1.2"/><ellipse cx="124.4" cy="93.8" rx="3.7" ry="7.3" transform="rotate(12 124.4 93.8)" fill="url(#redg)" stroke="#bf1a1a" stroke-width="1.2"/><ellipse cx="44.7" cy="47.5" rx="3.6" ry="4.14" transform="rotate(0 44.7 47.5)" fill="url(#redg)" stroke="#bf1a1a" stroke-width="1.1"/><ellipse cx="53.5" cy="61.3" rx="3.6" ry="4.14" transform="rotate(0 53.5 61.3)" fill="url(#redg)" stroke="#bf1a1a" stroke-width="1.1"/><ellipse cx="27.2" cy="110.8" rx="3.8" ry="4.37" transform="rotate(0 27.2 110.8)" fill="url(#redg)" stroke="#bf1a1a" stroke-width="1.1"/><ellipse cx="106.2" cy="127.1" rx="3.6" ry="4.14" transform="rotate(0 106.2 127.1)" fill="url(#redg)" stroke="#bf1a1a" stroke-width="1.1"/><ellipse cx="98" cy="112" rx="3.6" ry="4.14" transform="rotate(0 98 112)" fill="url(#redg)" stroke="#bf1a1a" stroke-width="1.1"/><ellipse cx="97.9" cy="15.6" rx="3.4" ry="3.91" transform="rotate(0 97.9 15.6)" fill="url(#redg)" stroke="#bf1a1a" stroke-width="1.1"/><ellipse cx="110.5" cy="70.5" rx="3.2" ry="3.68" transform="rotate(0 110.5 70.5)" fill="url(#redg)" stroke="#bf1a1a" stroke-width="1.1"/><ellipse cx="54.2" cy="158.3" rx="3.5" ry="4.02" transform="rotate(0 54.2 158.3)" fill="url(#redg)" stroke="#bf1a1a" stroke-width="1.1"/><g transform="rotate(0 70.4 61.3)"><path d="M62.9 58.3 C64.4 54.3 69.4 56.3 70.4 58.8 C71.4 56.3 76.4 54.3 77.9 58.3 C78.9 64.3 73.4 67.3 70.4 64.3 C67.4 67.3 61.9 64.3 62.9 58.3Z" fill="url(#redg)" stroke="#bf1a1a" stroke-width="1.2"/><rect x="67.9" y="59.8" width="5" height="2.6" fill="#c8705a"/><circle cx="66.4" cy="60.8" r="2.3" fill="#d8b4d4"/><circle cx="74.4" cy="60.8" r="2.3" fill="#d8b4d4"/></g><g transform="rotate(-50 103.7 66.3)"><path d="M96.2 63.3 C97.7 59.3 102.7 61.3 103.7 63.8 C104.7 61.3 109.7 59.3 111.2 63.3 C112.2 69.3 106.7 72.3 103.7 69.3 C100.7 72.3 95.2 69.3 96.2 63.3Z" fill="url(#redg)" stroke="#bf1a1a" stroke-width="1.2"/><rect x="101.2" y="64.8" width="5" height="2.6" fill="#c8705a"/><circle cx="99.7" cy="65.8" r="2.3" fill="#d8b4d4"/><circle cx="107.7" cy="65.8" r="2.3" fill="#d8b4d4"/></g><g transform="rotate(35 47.2 76.9)"><path d="M39.7 73.9 C41.2 69.9 46.2 71.9 47.2 74.4 C48.2 71.9 53.2 69.9 54.7 73.9 C55.7 79.9 50.2 82.9 47.2 79.9 C44.2 82.9 38.7 79.9 39.7 73.9Z" fill="url(#redg)" stroke="#bf1a1a" stroke-width="1.2"/><rect x="44.7" y="75.4" width="5" height="2.6" fill="#c8705a"/><circle cx="43.2" cy="76.4" r="2.3" fill="#d8b4d4"/><circle cx="51.2" cy="76.4" r="2.3" fill="#d8b4d4"/></g><g transform="rotate(40 104.9 94.5)"><path d="M97.4 91.5 C98.9 87.5 103.9 89.5 104.9 92 C105.9 89.5 110.9 87.5 112.4 91.5 C113.4 97.5 107.9 100.5 104.9 97.5 C101.9 100.5 96.4 97.5 97.4 91.5Z" fill="url(#redg)" stroke="#bf1a1a" stroke-width="1.2"/><rect x="102.4" y="93" width="5" height="2.6" fill="#c8705a"/><circle cx="100.9" cy="94" r="2.3" fill="#d8b4d4"/><circle cx="108.9" cy="94" r="2.3" fill="#d8b4d4"/></g><g transform="rotate(-30 45.4 110.8)"><path d="M37.9 107.8 C39.4 103.8 44.4 105.8 45.4 108.3 C46.4 105.8 51.4 103.8 52.9 107.8 C53.9 113.8 48.4 116.8 45.4 113.8 C42.4 116.8 36.9 113.8 37.9 107.8Z" fill="url(#redg)" stroke="#bf1a1a" stroke-width="1.2"/><rect x="42.9" y="109.3" width="5" height="2.6" fill="#c8705a"/><circle cx="41.4" cy="110.3" r="2.3" fill="#d8b4d4"/><circle cx="49.4" cy="110.3" r="2.3" fill="#d8b4d4"/></g><g transform="rotate(0 79.2 110.8)"><path d="M71.7 107.8 C73.2 103.8 78.2 105.8 79.2 108.3 C80.2 105.8 85.2 103.8 86.7 107.8 C87.7 113.8 82.2 116.8 79.2 113.8 C76.2 116.8 70.7 113.8 71.7 107.8Z" fill="url(#redg)" stroke="#bf1a1a" stroke-width="1.2"/><rect x="76.7" y="109.3" width="5" height="2.6" fill="#c8705a"/><circle cx="75.2" cy="110.3" r="2.3" fill="#d8b4d4"/><circle cx="83.2" cy="110.3" r="2.3" fill="#d8b4d4"/></g><path d="M40 76 C42 70 50 72 50 78 L51 100 C58 102 66 100 70 104 C74 110 68 114 62 112 L50 112 C42 112 38 106 42 100 L43 84 C40 82 38 80 40 76Z" fill="#ee8a8a" stroke="#bf1a1a" stroke-width="1.2"/><path d="M72 64 C76 60 82 62 84 66 L100 66 C104 60 112 62 110 70 L108 92 C112 96 110 104 104 102 C98 100 98 94 100 90 L100 74 L86 74 C82 76 76 74 72 70Z" fill="#ee8a8a" stroke="#bf1a1a" stroke-width="1.2"/><path d="M62 68 C68 64 74 68 72 76 C70 84 76 88 80 94 C84 100 84 108 78 110 C72 110 70 102 66 96 C60 90 58 82 58 76 C58 72 60 70 62 68Z" fill="#8aee8a" stroke="#34b834" stroke-width="1.2"/><path d="M82 78 C88 74 96 78 96 84 C96 90 92 94 88 92 C84 90 80 84 82 78Z" fill="#8aee8a" stroke="#34b834" stroke-width="1.2"/><circle cx="45" cy="80" r="3.3" fill="#f0a0a0" stroke="#d06060" stroke-width="0.8"/><circle cx="47" cy="108" r="3.3" fill="#f0a0a0" stroke="#d06060" stroke-width="0.8"/><circle cx="78" cy="66" r="3.3" fill="#f0a0a0" stroke="#d06060" stroke-width="0.8"/><circle cx="106" cy="66" r="3.3" fill="#f0a0a0" stroke="#d06060" stroke-width="0.8"/><circle cx="106" cy="99" r="3.3" fill="#f0a0a0" stroke="#d06060" stroke-width="0.8"/><circle cx="72" cy="110" r="3.3" fill="#f0a0a0" stroke="#d06060" stroke-width="0.8"/><ellipse cx="63.1" cy="93.9" rx="6.3" ry="6.3" transform="rotate(0 63.1 93.9)" fill="#9a1060" stroke="#c03060" stroke-width="1"/><ellipse cx="87.8" cy="80.2" rx="6.5" ry="3.4" transform="rotate(-30 87.8 80.2)" fill="#9a1060" stroke="#801050" stroke-width="0.8"/></g><rect x="109.1" y="-1" width="52.4" height="25.6" fill="#fff"/><rect x="0.5" y="0.5" width="159" height="157.4" fill="none" stroke="#b8b8b8" stroke-width="1" stroke-dasharray="1.5 2"/></g>
<text x="337.52" y="774.7" font-size="14.8" fill="#000" text-anchor="start" font-weight="bold" textLength="38.64" lengthAdjust="spacingAndGlyphs">CoCo</text>
<g transform="translate(407.8 758.9)"><g clip-path="url(#clip_FeFe)"><path d="M-52.35 0.8L-34.65 0.8M-52.35 0.8L-61.2 16.4M-34.65 0.8L-25.8 16.4M0.75 0.8L18.45 0.8M0.75 0.8L-8.1 16.4M18.45 0.8L27.3 16.4M53.85 0.8L71.55 0.8M53.85 0.8L45 16.4M71.55 0.8L80.4 16.4M106.95 0.8L124.65 0.8M106.95 0.8L98.1 16.4M124.65 0.8L133.5 16.4M160.05 0.8L177.75 0.8M160.05 0.8L151.2 16.4M177.75 0.8L186.6 16.4M213.15 0.8L230.85 0.8M213.15 0.8L204.3 16.4M230.85 0.8L239.7 16.4M-25.8 16.4L-8.1 16.4M-25.8 16.4L-34.65 32M-8.1 16.4L0.75 32M27.3 16.4L45 16.4M27.3 16.4L18.45 32M45 16.4L53.85 32M80.4 16.4L98.1 16.4M80.4 16.4L71.55 32M98.1 16.4L106.95 32M133.5 16.4L151.2 16.4M133.5 16.4L124.65 32M151.2 16.4L160.05 32M186.6 16.4L204.3 16.4M186.6 16.4L177.75 32M204.3 16.4L213.15 32M239.7 16.4L257.4 16.4M239.7 16.4L230.85 32M257.4 16.4L266.25 32M-52.35 32L-34.65 32M-52.35 32L-61.2 47.6M-34.65 32L-25.8 47.6M0.75 32L18.45 32M0.75 32L-8.1 47.6M18.45 32L27.3 47.6M53.85 32L71.55 32M53.85 32L45 47.6M71.55 32L80.4 47.6M106.95 32L124.65 32M106.95 32L98.1 47.6M124.65 32L133.5 47.6M160.05 32L177.75 32M160.05 32L151.2 47.6M177.75 32L186.6 47.6M213.15 32L230.85 32M213.15 32L204.3 47.6M230.85 32L239.7 47.6M-25.8 47.6L-8.1 47.6M-25.8 47.6L-34.65 63.2M-8.1 47.6L0.75 63.2M27.3 47.6L45 47.6M27.3 47.6L18.45 63.2M45 47.6L53.85 63.2M80.4 47.6L98.1 47.6M80.4 47.6L71.55 63.2M98.1 47.6L106.95 63.2M133.5 47.6L151.2 47.6M133.5 47.6L124.65 63.2M151.2 47.6L160.05 63.2M186.6 47.6L204.3 47.6M186.6 47.6L177.75 63.2M204.3 47.6L213.15 63.2M239.7 47.6L257.4 47.6M239.7 47.6L230.85 63.2M257.4 47.6L266.25 63.2M-52.35 63.2L-34.65 63.2M-52.35 63.2L-61.2 78.8M-34.65 63.2L-25.8 78.8M0.75 63.2L18.45 63.2M0.75 63.2L-8.1 78.8M18.45 63.2L27.3 78.8M53.85 63.2L71.55 63.2M53.85 63.2L45 78.8M71.55 63.2L80.4 78.8M106.95 63.2L124.65 63.2M106.95 63.2L98.1 78.8M124.65 63.2L133.5 78.8M160.05 63.2L177.75 63.2M160.05 63.2L151.2 78.8M177.75 63.2L186.6 78.8M213.15 63.2L230.85 63.2M213.15 63.2L204.3 78.8M230.85 63.2L239.7 78.8M-25.8 78.8L-8.1 78.8M-25.8 78.8L-34.65 94.4M-8.1 78.8L0.75 94.4M27.3 78.8L45 78.8M27.3 78.8L18.45 94.4M45 78.8L53.85 94.4M80.4 78.8L98.1 78.8M80.4 78.8L71.55 94.4M98.1 78.8L106.95 94.4M133.5 78.8L151.2 78.8M133.5 78.8L124.65 94.4M151.2 78.8L160.05 94.4M186.6 78.8L204.3 78.8M186.6 78.8L177.75 94.4M204.3 78.8L213.15 94.4M239.7 78.8L257.4 78.8M239.7 78.8L230.85 94.4M257.4 78.8L266.25 94.4M-52.35 94.4L-34.65 94.4M-52.35 94.4L-61.2 110M-34.65 94.4L-25.8 110M0.75 94.4L18.45 94.4M0.75 94.4L-8.1 110M18.45 94.4L27.3 110M53.85 94.4L71.55 94.4M53.85 94.4L45 110M71.55 94.4L80.4 110M106.95 94.4L124.65 94.4M106.95 94.4L98.1 110M124.65 94.4L133.5 110M160.05 94.4L177.75 94.4M160.05 94.4L151.2 110M177.75 94.4L186.6 110M213.15 94.4L230.85 94.4M213.15 94.4L204.3 110M230.85 94.4L239.7 110M-25.8 110L-8.1 110M-25.8 110L-34.65 125.6M-8.1 110L0.75 125.6M27.3 110L45 110M27.3 110L18.45 125.6M45 110L53.85 125.6M80.4 110L98.1 110M80.4 110L71.55 125.6M98.1 110L106.95 125.6M133.5 110L151.2 110M133.5 110L124.65 125.6M151.2 110L160.05 125.6M186.6 110L204.3 110M186.6 110L177.75 125.6M204.3 110L213.15 125.6M239.7 110L257.4 110M239.7 110L230.85 125.6M257.4 110L266.25 125.6M-52.35 125.6L-34.65 125.6M-52.35 125.6L-61.2 141.2M-34.65 125.6L-25.8 141.2M0.75 125.6L18.45 125.6M0.75 125.6L-8.1 141.2M18.45 125.6L27.3 141.2M53.85 125.6L71.55 125.6M53.85 125.6L45 141.2M71.55 125.6L80.4 141.2M106.95 125.6L124.65 125.6M106.95 125.6L98.1 141.2M124.65 125.6L133.5 141.2M160.05 125.6L177.75 125.6M160.05 125.6L151.2 141.2M177.75 125.6L186.6 141.2M213.15 125.6L230.85 125.6M213.15 125.6L204.3 141.2M230.85 125.6L239.7 141.2M-25.8 141.2L-8.1 141.2M-25.8 141.2L-34.65 156.8M-8.1 141.2L0.75 156.8M27.3 141.2L45 141.2M27.3 141.2L18.45 156.8M45 141.2L53.85 156.8M80.4 141.2L98.1 141.2M80.4 141.2L71.55 156.8M98.1 141.2L106.95 156.8M133.5 141.2L151.2 141.2M133.5 141.2L124.65 156.8M151.2 141.2L160.05 156.8M186.6 141.2L204.3 141.2M186.6 141.2L177.75 156.8M204.3 141.2L213.15 156.8M239.7 141.2L257.4 141.2M239.7 141.2L230.85 156.8M257.4 141.2L266.25 156.8M-52.35 156.8L-34.65 156.8M0.75 156.8L18.45 156.8M53.85 156.8L71.55 156.8M106.95 156.8L124.65 156.8M160.05 156.8L177.75 156.8M213.15 156.8L230.85 156.8" stroke="#a47858" stroke-width="2.7" fill="none"/><circle cx="0.75" cy="0.8" r="3.5" fill="url(#atC2)"/><circle cx="18.45" cy="0.8" r="3.5" fill="url(#atC2)"/><circle cx="53.85" cy="0.8" r="3.5" fill="url(#atC2)"/><circle cx="71.55" cy="0.8" r="3.5" fill="url(#atC2)"/><circle cx="106.95" cy="0.8" r="3.5" fill="url(#atC2)"/><circle cx="124.65" cy="0.8" r="3.5" fill="url(#atC2)"/><circle cx="160.05" cy="0.8" r="3.5" fill="url(#atC2)"/><circle cx="27.3" cy="16.4" r="3.5" fill="url(#atC2)"/><circle cx="45" cy="16.4" r="3.5" fill="url(#atC2)"/><circle cx="80.4" cy="16.4" r="3.5" fill="url(#atC2)"/><circle cx="98.1" cy="16.4" r="3.5" fill="url(#atC2)"/><circle cx="133.5" cy="16.4" r="3.5" fill="url(#atC2)"/><circle cx="151.2" cy="16.4" r="3.5" fill="url(#atC2)"/><circle cx="0.75" cy="32" r="3.5" fill="url(#atC2)"/><circle cx="18.45" cy="32" r="3.5" fill="url(#atC2)"/><circle cx="53.85" cy="32" r="3.5" fill="url(#atC2)"/><circle cx="71.55" cy="32" r="3.5" fill="url(#atC2)"/><circle cx="106.95" cy="32" r="3.5" fill="url(#atC2)"/><circle cx="124.65" cy="32" r="3.5" fill="url(#atC2)"/><circle cx="160.05" cy="32" r="3.5" fill="url(#atC2)"/><circle cx="27.3" cy="47.6" r="3.5" fill="url(#atC2)"/><circle cx="45" cy="47.6" r="3.5" fill="url(#atC2)"/><circle cx="80.4" cy="47.6" r="3.5" fill="url(#atC2)"/><circle cx="98.1" cy="47.6" r="3.5" fill="url(#atC2)"/><circle cx="133.5" cy="47.6" r="3.5" fill="url(#atC2)"/><circle cx="151.2" cy="47.6" r="3.5" fill="url(#atC2)"/><circle cx="0.75" cy="63.2" r="3.5" fill="url(#atC2)"/><circle cx="18.45" cy="63.2" r="3.5" fill="url(#atC2)"/><circle cx="53.85" cy="63.2" r="3.5" fill="url(#atC2)"/><circle cx="71.55" cy="63.2" r="3.5" fill="url(#atC2)"/><circle cx="106.95" cy="63.2" r="3.5" fill="url(#atC2)"/><circle cx="124.65" cy="63.2" r="3.5" fill="url(#atC2)"/><circle cx="160.05" cy="63.2" r="3.5" fill="url(#atC2)"/><circle cx="27.3" cy="78.8" r="3.5" fill="url(#atC2)"/><circle cx="45" cy="78.8" r="3.5" fill="url(#atC2)"/><circle cx="80.4" cy="78.8" r="3.5" fill="url(#atC2)"/><circle cx="98.1" cy="78.8" r="3.5" fill="url(#atC2)"/><circle cx="133.5" cy="78.8" r="3.5" fill="url(#atC2)"/><circle cx="151.2" cy="78.8" r="3.5" fill="url(#atC2)"/><circle cx="0.75" cy="94.4" r="3.5" fill="url(#atC2)"/><circle cx="18.45" cy="94.4" r="3.5" fill="url(#atC2)"/><circle cx="53.85" cy="94.4" r="3.5" fill="url(#atC2)"/><circle cx="71.55" cy="94.4" r="3.5" fill="url(#atC2)"/><circle cx="106.95" cy="94.4" r="3.5" fill="url(#atC2)"/><circle cx="124.65" cy="94.4" r="3.5" fill="url(#atC2)"/><circle cx="160.05" cy="94.4" r="3.5" fill="url(#atC2)"/><circle cx="27.3" cy="110" r="3.5" fill="url(#atC2)"/><circle cx="45" cy="110" r="3.5" fill="url(#atC2)"/><circle cx="80.4" cy="110" r="3.5" fill="url(#atC2)"/><circle cx="98.1" cy="110" r="3.5" fill="url(#atC2)"/><circle cx="133.5" cy="110" r="3.5" fill="url(#atC2)"/><circle cx="151.2" cy="110" r="3.5" fill="url(#atC2)"/><circle cx="0.75" cy="125.6" r="3.5" fill="url(#atC2)"/><circle cx="18.45" cy="125.6" r="3.5" fill="url(#atC2)"/><circle cx="53.85" cy="125.6" r="3.5" fill="url(#atC2)"/><circle cx="71.55" cy="125.6" r="3.5" fill="url(#atC2)"/><circle cx="106.95" cy="125.6" r="3.5" fill="url(#atC2)"/><circle cx="124.65" cy="125.6" r="3.5" fill="url(#atC2)"/><circle cx="160.05" cy="125.6" r="3.5" fill="url(#atC2)"/><circle cx="27.3" cy="141.2" r="3.5" fill="url(#atC2)"/><circle cx="45" cy="141.2" r="3.5" fill="url(#atC2)"/><circle cx="80.4" cy="141.2" r="3.5" fill="url(#atC2)"/><circle cx="98.1" cy="141.2" r="3.5" fill="url(#atC2)"/><circle cx="133.5" cy="141.2" r="3.5" fill="url(#atC2)"/><circle cx="151.2" cy="141.2" r="3.5" fill="url(#atC2)"/><circle cx="0.75" cy="156.8" r="3.5" fill="url(#atC2)"/><circle cx="18.45" cy="156.8" r="3.5" fill="url(#atC2)"/><circle cx="53.85" cy="156.8" r="3.5" fill="url(#atC2)"/><circle cx="71.55" cy="156.8" r="3.5" fill="url(#atC2)"/><circle cx="106.95" cy="156.8" r="3.5" fill="url(#atC2)"/><circle cx="124.65" cy="156.8" r="3.5" fill="url(#atC2)"/><circle cx="160.05" cy="156.8" r="3.5" fill="url(#atC2)"/><ellipse cx="49" cy="50.5" rx="3.2" ry="2.6" transform="rotate(0 49 50.5)" fill="#8aee8a" stroke="#34b834" stroke-width="1.1"/><ellipse cx="20.2" cy="69" rx="2.8" ry="4.5" transform="rotate(0 20.2 69)" fill="#8aee8a" stroke="#34b834" stroke-width="1.1"/><ellipse cx="20.8" cy="86.3" rx="2.5" ry="3.2" transform="rotate(0 20.8 86.3)" fill="#8aee8a" stroke="#34b834" stroke-width="1.1"/><ellipse cx="20.3" cy="100.2" rx="2.6" ry="2" transform="rotate(0 20.3 100.2)" fill="#8aee8a" stroke="#34b834" stroke-width="1.1"/><ellipse cx="21.5" cy="115" rx="3" ry="4.5" transform="rotate(20 21.5 115)" fill="#8aee8a" stroke="#34b834" stroke-width="1.1"/><ellipse cx="52" cy="70" rx="2.5" ry="3.5" transform="rotate(0 52 70)" fill="#8aee8a" stroke="#34b834" stroke-width="1.1"/><ellipse cx="110" cy="70" rx="3" ry="3" transform="rotate(0 110 70)" fill="#8aee8a" stroke="#34b834" stroke-width="1.1"/><ellipse cx="116" cy="88" rx="3" ry="3.5" transform="rotate(0 116 88)" fill="#8aee8a" stroke="#34b834" stroke-width="1.1"/><ellipse cx="133" cy="60" rx="3" ry="3" transform="rotate(0 133 60)" fill="#8aee8a" stroke="#34b834" stroke-width="1.1"/><ellipse cx="137" cy="100" rx="3.2" ry="5" transform="rotate(0 137 100)" fill="#8aee8a" stroke="#34b834" stroke-width="1.1"/><ellipse cx="101" cy="33.5" rx="3" ry="2.5" transform="rotate(0 101 33.5)" fill="#8aee8a" stroke="#34b834" stroke-width="1.1"/><ellipse cx="112" cy="123" rx="3.5" ry="3" transform="rotate(0 112 123)" fill="#8aee8a" stroke="#34b834" stroke-width="1.1"/><ellipse cx="45" cy="102" rx="3" ry="2.5" transform="rotate(0 45 102)" fill="#8aee8a" stroke="#34b834" stroke-width="1.1"/><ellipse cx="104" cy="105" rx="3.5" ry="2.5" transform="rotate(0 104 105)" fill="#8aee8a" stroke="#34b834" stroke-width="1.1"/><ellipse cx="72" cy="100" rx="3" ry="2.5" transform="rotate(0 72 100)" fill="#8aee8a" stroke="#34b834" stroke-width="1.1"/><path d="M74.85 36.43Q84.99 33.17 95.27 37.23" fill="none" stroke="#34b834" stroke-width="6.2" stroke-linecap="round"/><path d="M74.85 36.43Q84.99 33.17 95.27 37.23" fill="none" stroke="#8aee8a" stroke-width="3.6" stroke-linecap="round"/><path d="M74.85 36.43Q84.99 33.17 95.27 37.23" fill="none" stroke="#b8f8b8" stroke-width="1.08" stroke-linecap="round" opacity="0.6"/><path d="M49.72 138.18Q63.48 130.78 77.39 138.65" fill="none" stroke="#34b834" stroke-width="6.2" stroke-linecap="round"/><path d="M49.72 138.18Q63.48 130.78 77.39 138.65" fill="none" stroke="#8aee8a" stroke-width="3.6" stroke-linecap="round"/><path d="M49.72 138.18Q63.48 130.78 77.39 138.65" fill="none" stroke="#b8f8b8" stroke-width="1.08" stroke-linecap="round" opacity="0.6"/><path d="M33.21 78.24Q37.49 66.57 49.7 63.27" fill="none" stroke="#34b834" stroke-width="11" stroke-linecap="round"/><path d="M33.21 78.24Q37.49 66.57 49.7 63.27" fill="none" stroke="#8aee8a" stroke-width="8.4" stroke-linecap="round"/><path d="M33.21 78.24Q37.49 66.57 49.7 63.27" fill="none" stroke="#b8f8b8" stroke-width="2.52" stroke-linecap="round" opacity="0.6"/><path d="M58.3 57.57Q63.5 50.73 74.44 50.06" fill="none" stroke="#34b834" stroke-width="11" stroke-linecap="round"/><path d="M58.3 57.57Q63.5 50.73 74.44 50.06" fill="none" stroke="#8aee8a" stroke-width="8.4" stroke-linecap="round"/><path d="M58.3 57.57Q63.5 50.73 74.44 50.06" fill="none" stroke="#b8f8b8" stroke-width="2.52" stroke-linecap="round" opacity="0.6"/><path d="M102.6 50.56Q113.08 53.56 118.97 60.59" fill="none" stroke="#34b834" stroke-width="11" stroke-linecap="round"/><path d="M102.6 50.56Q113.08 53.56 118.97 60.59" fill="none" stroke="#8aee8a" stroke-width="8.4" stroke-linecap="round"/><path d="M102.6 50.56Q113.08 53.56 118.97 60.59" fill="none" stroke="#b8f8b8" stroke-width="2.52" stroke-linecap="round" opacity="0.6"/><path d="M118.53 97.04Q115.78 107.77 103.73 110.68" fill="none" stroke="#34b834" stroke-width="11" stroke-linecap="round"/><path d="M118.53 97.04Q115.78 107.77 103.73 110.68" fill="none" stroke="#8aee8a" stroke-width="8.4" stroke-linecap="round"/><path d="M118.53 97.04Q115.78 107.77 103.73 110.68" fill="none" stroke="#b8f8b8" stroke-width="2.52" stroke-linecap="round" opacity="0.6"/><path d="M92.91 114.16Q89.08 122.4 77.66 122.63" fill="none" stroke="#34b834" stroke-width="11" stroke-linecap="round"/><path d="M92.91 114.16Q89.08 122.4 77.66 122.63" fill="none" stroke="#8aee8a" stroke-width="8.4" stroke-linecap="round"/><path d="M92.91 114.16Q89.08 122.4 77.66 122.63" fill="none" stroke="#b8f8b8" stroke-width="2.52" stroke-linecap="round" opacity="0.6"/><path d="M33.24 110.74Q36.28 121.83 50.73 123.62" fill="none" stroke="#34b834" stroke-width="11" stroke-linecap="round"/><path d="M33.24 110.74Q36.28 121.83 50.73 123.62" fill="none" stroke="#8aee8a" stroke-width="8.4" stroke-linecap="round"/><path d="M33.24 110.74Q36.28 121.83 50.73 123.62" fill="none" stroke="#b8f8b8" stroke-width="2.52" stroke-linecap="round" opacity="0.6"/><path d="M75 44 Q88 39 102 44 Q103 50 98 53 Q88 50 79 53 Q74 50 75 44Z" fill="url(#redg)" stroke="#bf1a1a" stroke-width="1.3"/><path d="M49.5 130 Q50 124 54 123 Q63 126 73 123 Q77.5 125 77 130 Q63 135.5 49.5 130Z" fill="url(#redg)" stroke="#bf1a1a" stroke-width="1.3"/><ellipse cx="26.5" cy="79.7" rx="4.4" ry="7.8" transform="rotate(8 26.5 79.7)" fill="url(#redg)" stroke="#bf1a1a" stroke-width="1.2"/><ellipse cx="20.6" cy="94.2" rx="4" ry="4" transform="rotate(0 20.6 94.2)" fill="url(#redg)" stroke="#bf1a1a" stroke-width="1.2"/><ellipse cx="131.2" cy="80.7" rx="5" ry="5" transform="rotate(0 131.2 80.7)" fill="url(#redg)" stroke="#bf1a1a" stroke-width="1.2"/><ellipse cx="124.4" cy="93.8" rx="3.7" ry="7.3" transform="rotate(12 124.4 93.8)" fill="url(#redg)" stroke="#bf1a1a" stroke-width="1.2"/><ellipse cx="44.7" cy="47.5" rx="3.6" ry="4.14" transform="rotate(0 44.7 47.5)" fill="url(#redg)" stroke="#bf1a1a" stroke-width="1.1"/><ellipse cx="53.5" cy="61.3" rx="3.6" ry="4.14" transform="rotate(0 53.5 61.3)" fill="url(#redg)" stroke="#bf1a1a" stroke-width="1.1"/><ellipse cx="27.2" cy="110.8" rx="3.8" ry="4.37" transform="rotate(0 27.2 110.8)" fill="url(#redg)" stroke="#bf1a1a" stroke-width="1.1"/><ellipse cx="106.2" cy="127.1" rx="3.6" ry="4.14" transform="rotate(0 106.2 127.1)" fill="url(#redg)" stroke="#bf1a1a" stroke-width="1.1"/><ellipse cx="98" cy="112" rx="3.6" ry="4.14" transform="rotate(0 98 112)" fill="url(#redg)" stroke="#bf1a1a" stroke-width="1.1"/><ellipse cx="97.9" cy="15.6" rx="3.4" ry="3.91" transform="rotate(0 97.9 15.6)" fill="url(#redg)" stroke="#bf1a1a" stroke-width="1.1"/><ellipse cx="110.5" cy="70.5" rx="3.2" ry="3.68" transform="rotate(0 110.5 70.5)" fill="url(#redg)" stroke="#bf1a1a" stroke-width="1.1"/><ellipse cx="54.2" cy="158.3" rx="3.5" ry="4.02" transform="rotate(0 54.2 158.3)" fill="url(#redg)" stroke="#bf1a1a" stroke-width="1.1"/><g transform="rotate(0 70.4 61.3)"><path d="M62.9 58.3 C64.4 54.3 69.4 56.3 70.4 58.8 C71.4 56.3 76.4 54.3 77.9 58.3 C78.9 64.3 73.4 67.3 70.4 64.3 C67.4 67.3 61.9 64.3 62.9 58.3Z" fill="url(#redg)" stroke="#bf1a1a" stroke-width="1.2"/><rect x="67.9" y="59.8" width="5" height="2.6" fill="#c8705a"/><circle cx="66.4" cy="60.8" r="2.3" fill="#d8b4d4"/><circle cx="74.4" cy="60.8" r="2.3" fill="#d8b4d4"/></g><g transform="rotate(-50 103.7 66.3)"><path d="M96.2 63.3 C97.7 59.3 102.7 61.3 103.7 63.8 C104.7 61.3 109.7 59.3 111.2 63.3 C112.2 69.3 106.7 72.3 103.7 69.3 C100.7 72.3 95.2 69.3 96.2 63.3Z" fill="url(#redg)" stroke="#bf1a1a" stroke-width="1.2"/><rect x="101.2" y="64.8" width="5" height="2.6" fill="#c8705a"/><circle cx="99.7" cy="65.8" r="2.3" fill="#d8b4d4"/><circle cx="107.7" cy="65.8" r="2.3" fill="#d8b4d4"/></g><g transform="rotate(35 47.2 76.9)"><path d="M39.7 73.9 C41.2 69.9 46.2 71.9 47.2 74.4 C48.2 71.9 53.2 69.9 54.7 73.9 C55.7 79.9 50.2 82.9 47.2 79.9 C44.2 82.9 38.7 79.9 39.7 73.9Z" fill="url(#redg)" stroke="#bf1a1a" stroke-width="1.2"/><rect x="44.7" y="75.4" width="5" height="2.6" fill="#c8705a"/><circle cx="43.2" cy="76.4" r="2.3" fill="#d8b4d4"/><circle cx="51.2" cy="76.4" r="2.3" fill="#d8b4d4"/></g><g transform="rotate(40 104.9 94.5)"><path d="M97.4 91.5 C98.9 87.5 103.9 89.5 104.9 92 C105.9 89.5 110.9 87.5 112.4 91.5 C113.4 97.5 107.9 100.5 104.9 97.5 C101.9 100.5 96.4 97.5 97.4 91.5Z" fill="url(#redg)" stroke="#bf1a1a" stroke-width="1.2"/><rect x="102.4" y="93" width="5" height="2.6" fill="#c8705a"/><circle cx="100.9" cy="94" r="2.3" fill="#d8b4d4"/><circle cx="108.9" cy="94" r="2.3" fill="#d8b4d4"/></g><g transform="rotate(-30 45.4 110.8)"><path d="M37.9 107.8 C39.4 103.8 44.4 105.8 45.4 108.3 C46.4 105.8 51.4 103.8 52.9 107.8 C53.9 113.8 48.4 116.8 45.4 113.8 C42.4 116.8 36.9 113.8 37.9 107.8Z" fill="url(#redg)" stroke="#bf1a1a" stroke-width="1.2"/><rect x="42.9" y="109.3" width="5" height="2.6" fill="#c8705a"/><circle cx="41.4" cy="110.3" r="2.3" fill="#d8b4d4"/><circle cx="49.4" cy="110.3" r="2.3" fill="#d8b4d4"/></g><g transform="rotate(0 79.2 110.8)"><path d="M71.7 107.8 C73.2 103.8 78.2 105.8 79.2 108.3 C80.2 105.8 85.2 103.8 86.7 107.8 C87.7 113.8 82.2 116.8 79.2 113.8 C76.2 116.8 70.7 113.8 71.7 107.8Z" fill="url(#redg)" stroke="#bf1a1a" stroke-width="1.2"/><rect x="76.7" y="109.3" width="5" height="2.6" fill="#c8705a"/><circle cx="75.2" cy="110.3" r="2.3" fill="#d8b4d4"/><circle cx="83.2" cy="110.3" r="2.3" fill="#d8b4d4"/></g><path d="M66 66 C74 62 80 66 78 74 C76 82 84 88 88 94 C92 100 90 106 84 106 C78 104 76 98 72 94 C68 88 62 84 60 78 C58 72 62 68 66 66Z" fill="#8aee8a" stroke="#34b834" stroke-width="1.2"/><path d="M52 84 L62 80 L74 92 L70 104 L58 100 Z" fill="url(#redg)" stroke="#bf1a1a" stroke-width="1.2"/><path d="M78 70 L90 66 L100 80 L94 92 L82 90 Z" fill="url(#redg)" stroke="#bf1a1a" stroke-width="1.2"/><ellipse cx="62.4" cy="91.4" rx="6.5" ry="4.5" transform="rotate(-40 62.4 91.4)" fill="#d0602a" stroke="#b03010" stroke-width="1"/><ellipse cx="86.6" cy="80.8" rx="6.5" ry="4.5" transform="rotate(-40 86.6 80.8)" fill="#d0602a" stroke="#b03010" stroke-width="1"/><ellipse cx="62.4" cy="91.4" rx="2.5" ry="2" transform="rotate(-40 62.4 91.4)" fill="#f09020" stroke="#d07010" stroke-width="0.5"/><ellipse cx="86.6" cy="80.8" rx="2.5" ry="2" transform="rotate(-40 86.6 80.8)" fill="#f09020" stroke="#d07010" stroke-width="0.5"/></g><rect x="112.4" y="-1" width="46.8" height="25.6" fill="#fff"/><rect x="0.5" y="0.5" width="156.7" height="156.1" fill="none" stroke="#b8b8b8" stroke-width="1" stroke-dasharray="1.5 2"/></g>
<text x="526.22" y="776.3" font-size="14.8" fill="#000" text-anchor="start" font-weight="bold" textLength="33.98" lengthAdjust="spacingAndGlyphs">FeFe</text>
<g transform="translate(593.3 758.1)"><g clip-path="url(#clip_MnMn)"><path d="M-52.35 0.8L-34.65 0.8M-52.35 0.8L-61.2 16.4M-34.65 0.8L-25.8 16.4M0.75 0.8L18.45 0.8M0.75 0.8L-8.1 16.4M18.45 0.8L27.3 16.4M53.85 0.8L71.55 0.8M53.85 0.8L45 16.4M71.55 0.8L80.4 16.4M106.95 0.8L124.65 0.8M106.95 0.8L98.1 16.4M124.65 0.8L133.5 16.4M160.05 0.8L177.75 0.8M160.05 0.8L151.2 16.4M177.75 0.8L186.6 16.4M213.15 0.8L230.85 0.8M213.15 0.8L204.3 16.4M230.85 0.8L239.7 16.4M-25.8 16.4L-8.1 16.4M-25.8 16.4L-34.65 32M-8.1 16.4L0.75 32M27.3 16.4L45 16.4M27.3 16.4L18.45 32M45 16.4L53.85 32M80.4 16.4L98.1 16.4M80.4 16.4L71.55 32M98.1 16.4L106.95 32M133.5 16.4L151.2 16.4M133.5 16.4L124.65 32M151.2 16.4L160.05 32M186.6 16.4L204.3 16.4M186.6 16.4L177.75 32M204.3 16.4L213.15 32M239.7 16.4L257.4 16.4M239.7 16.4L230.85 32M257.4 16.4L266.25 32M-52.35 32L-34.65 32M-52.35 32L-61.2 47.6M-34.65 32L-25.8 47.6M0.75 32L18.45 32M0.75 32L-8.1 47.6M18.45 32L27.3 47.6M53.85 32L71.55 32M53.85 32L45 47.6M71.55 32L80.4 47.6M106.95 32L124.65 32M106.95 32L98.1 47.6M124.65 32L133.5 47.6M160.05 32L177.75 32M160.05 32L151.2 47.6M177.75 32L186.6 47.6M213.15 32L230.85 32M213.15 32L204.3 47.6M230.85 32L239.7 47.6M-25.8 47.6L-8.1 47.6M-25.8 47.6L-34.65 63.2M-8.1 47.6L0.75 63.2M27.3 47.6L45 47.6M27.3 47.6L18.45 63.2M45 47.6L53.85 63.2M80.4 47.6L98.1 47.6M80.4 47.6L71.55 63.2M98.1 47.6L106.95 63.2M133.5 47.6L151.2 47.6M133.5 47.6L124.65 63.2M151.2 47.6L160.05 63.2M186.6 47.6L204.3 47.6M186.6 47.6L177.75 63.2M204.3 47.6L213.15 63.2M239.7 47.6L257.4 47.6M239.7 47.6L230.85 63.2M257.4 47.6L266.25 63.2M-52.35 63.2L-34.65 63.2M-52.35 63.2L-61.2 78.8M-34.65 63.2L-25.8 78.8M0.75 63.2L18.45 63.2M0.75 63.2L-8.1 78.8M18.45 63.2L27.3 78.8M53.85 63.2L71.55 63.2M53.85 63.2L45 78.8M71.55 63.2L80.4 78.8M106.95 63.2L124.65 63.2M106.95 63.2L98.1 78.8M124.65 63.2L133.5 78.8M160.05 63.2L177.75 63.2M160.05 63.2L151.2 78.8M177.75 63.2L186.6 78.8M213.15 63.2L230.85 63.2M213.15 63.2L204.3 78.8M230.85 63.2L239.7 78.8M-25.8 78.8L-8.1 78.8M-25.8 78.8L-34.65 94.4M-8.1 78.8L0.75 94.4M27.3 78.8L45 78.8M27.3 78.8L18.45 94.4M45 78.8L53.85 94.4M80.4 78.8L98.1 78.8M80.4 78.8L71.55 94.4M98.1 78.8L106.95 94.4M133.5 78.8L151.2 78.8M133.5 78.8L124.65 94.4M151.2 78.8L160.05 94.4M186.6 78.8L204.3 78.8M186.6 78.8L177.75 94.4M204.3 78.8L213.15 94.4M239.7 78.8L257.4 78.8M239.7 78.8L230.85 94.4M257.4 78.8L266.25 94.4M-52.35 94.4L-34.65 94.4M-52.35 94.4L-61.2 110M-34.65 94.4L-25.8 110M0.75 94.4L18.45 94.4M0.75 94.4L-8.1 110M18.45 94.4L27.3 110M53.85 94.4L71.55 94.4M53.85 94.4L45 110M71.55 94.4L80.4 110M106.95 94.4L124.65 94.4M106.95 94.4L98.1 110M124.65 94.4L133.5 110M160.05 94.4L177.75 94.4M160.05 94.4L151.2 110M177.75 94.4L186.6 110M213.15 94.4L230.85 94.4M213.15 94.4L204.3 110M230.85 94.4L239.7 110M-25.8 110L-8.1 110M-25.8 110L-34.65 125.6M-8.1 110L0.75 125.6M27.3 110L45 110M27.3 110L18.45 125.6M45 110L53.85 125.6M80.4 110L98.1 110M80.4 110L71.55 125.6M98.1 110L106.95 125.6M133.5 110L151.2 110M133.5 110L124.65 125.6M151.2 110L160.05 125.6M186.6 110L204.3 110M186.6 110L177.75 125.6M204.3 110L213.15 125.6M239.7 110L257.4 110M239.7 110L230.85 125.6M257.4 110L266.25 125.6M-52.35 125.6L-34.65 125.6M-52.35 125.6L-61.2 141.2M-34.65 125.6L-25.8 141.2M0.75 125.6L18.45 125.6M0.75 125.6L-8.1 141.2M18.45 125.6L27.3 141.2M53.85 125.6L71.55 125.6M53.85 125.6L45 141.2M71.55 125.6L80.4 141.2M106.95 125.6L124.65 125.6M106.95 125.6L98.1 141.2M124.65 125.6L133.5 141.2M160.05 125.6L177.75 125.6M160.05 125.6L151.2 141.2M177.75 125.6L186.6 141.2M213.15 125.6L230.85 125.6M213.15 125.6L204.3 141.2M230.85 125.6L239.7 141.2M-25.8 141.2L-8.1 141.2M-25.8 141.2L-34.65 156.8M-8.1 141.2L0.75 156.8M27.3 141.2L45 141.2M27.3 141.2L18.45 156.8M45 141.2L53.85 156.8M80.4 141.2L98.1 141.2M80.4 141.2L71.55 156.8M98.1 141.2L106.95 156.8M133.5 141.2L151.2 141.2M133.5 141.2L124.65 156.8M151.2 141.2L160.05 156.8M186.6 141.2L204.3 141.2M186.6 141.2L177.75 156.8M204.3 141.2L213.15 156.8M239.7 141.2L257.4 141.2M239.7 141.2L230.85 156.8M257.4 141.2L266.25 156.8M-52.35 156.8L-34.65 156.8M0.75 156.8L18.45 156.8M53.85 156.8L71.55 156.8M106.95 156.8L124.65 156.8M160.05 156.8L177.75 156.8M213.15 156.8L230.85 156.8" stroke="#a47858" stroke-width="2.7" fill="none"/><circle cx="0.75" cy="0.8" r="3.5" fill="url(#atC2)"/><circle cx="18.45" cy="0.8" r="3.5" fill="url(#atC2)"/><circle cx="53.85" cy="0.8" r="3.5" fill="url(#atC2)"/><circle cx="71.55" cy="0.8" r="3.5" fill="url(#atC2)"/><circle cx="106.95" cy="0.8" r="3.5" fill="url(#atC2)"/><circle cx="124.65" cy="0.8" r="3.5" fill="url(#atC2)"/><circle cx="160.05" cy="0.8" r="3.5" fill="url(#atC2)"/><circle cx="27.3" cy="16.4" r="3.5" fill="url(#atC2)"/><circle cx="45" cy="16.4" r="3.5" fill="url(#atC2)"/><circle cx="80.4" cy="16.4" r="3.5" fill="url(#atC2)"/><circle cx="98.1" cy="16.4" r="3.5" fill="url(#atC2)"/><circle cx="133.5" cy="16.4" r="3.5" fill="url(#atC2)"/><circle cx="151.2" cy="16.4" r="3.5" fill="url(#atC2)"/><circle cx="0.75" cy="32" r="3.5" fill="url(#atC2)"/><circle cx="18.45" cy="32" r="3.5" fill="url(#atC2)"/><circle cx="53.85" cy="32" r="3.5" fill="url(#atC2)"/><circle cx="71.55" cy="32" r="3.5" fill="url(#atC2)"/><circle cx="106.95" cy="32" r="3.5" fill="url(#atC2)"/><circle cx="124.65" cy="32" r="3.5" fill="url(#atC2)"/><circle cx="160.05" cy="32" r="3.5" fill="url(#atC2)"/><circle cx="27.3" cy="47.6" r="3.5" fill="url(#atC2)"/><circle cx="45" cy="47.6" r="3.5" fill="url(#atC2)"/><circle cx="80.4" cy="47.6" r="3.5" fill="url(#atC2)"/><circle cx="98.1" cy="47.6" r="3.5" fill="url(#atC2)"/><circle cx="133.5" cy="47.6" r="3.5" fill="url(#atC2)"/><circle cx="151.2" cy="47.6" r="3.5" fill="url(#atC2)"/><circle cx="0.75" cy="63.2" r="3.5" fill="url(#atC2)"/><circle cx="18.45" cy="63.2" r="3.5" fill="url(#atC2)"/><circle cx="53.85" cy="63.2" r="3.5" fill="url(#atC2)"/><circle cx="71.55" cy="63.2" r="3.5" fill="url(#atC2)"/><circle cx="106.95" cy="63.2" r="3.5" fill="url(#atC2)"/><circle cx="124.65" cy="63.2" r="3.5" fill="url(#atC2)"/><circle cx="160.05" cy="63.2" r="3.5" fill="url(#atC2)"/><circle cx="27.3" cy="78.8" r="3.5" fill="url(#atC2)"/><circle cx="45" cy="78.8" r="3.5" fill="url(#atC2)"/><circle cx="80.4" cy="78.8" r="3.5" fill="url(#atC2)"/><circle cx="98.1" cy="78.8" r="3.5" fill="url(#atC2)"/><circle cx="133.5" cy="78.8" r="3.5" fill="url(#atC2)"/><circle cx="151.2" cy="78.8" r="3.5" fill="url(#atC2)"/><circle cx="0.75" cy="94.4" r="3.5" fill="url(#atC2)"/><circle cx="18.45" cy="94.4" r="3.5" fill="url(#atC2)"/><circle cx="53.85" cy="94.4" r="3.5" fill="url(#atC2)"/><circle cx="71.55" cy="94.4" r="3.5" fill="url(#atC2)"/><circle cx="106.95" cy="94.4" r="3.5" fill="url(#atC2)"/><circle cx="124.65" cy="94.4" r="3.5" fill="url(#atC2)"/><circle cx="160.05" cy="94.4" r="3.5" fill="url(#atC2)"/><circle cx="27.3" cy="110" r="3.5" fill="url(#atC2)"/><circle cx="45" cy="110" r="3.5" fill="url(#atC2)"/><circle cx="80.4" cy="110" r="3.5" fill="url(#atC2)"/><circle cx="98.1" cy="110" r="3.5" fill="url(#atC2)"/><circle cx="133.5" cy="110" r="3.5" fill="url(#atC2)"/><circle cx="151.2" cy="110" r="3.5" fill="url(#atC2)"/><circle cx="0.75" cy="125.6" r="3.5" fill="url(#atC2)"/><circle cx="18.45" cy="125.6" r="3.5" fill="url(#atC2)"/><circle cx="53.85" cy="125.6" r="3.5" fill="url(#atC2)"/><circle cx="71.55" cy="125.6" r="3.5" fill="url(#atC2)"/><circle cx="106.95" cy="125.6" r="3.5" fill="url(#atC2)"/><circle cx="124.65" cy="125.6" r="3.5" fill="url(#atC2)"/><circle cx="160.05" cy="125.6" r="3.5" fill="url(#atC2)"/><circle cx="27.3" cy="141.2" r="3.5" fill="url(#atC2)"/><circle cx="45" cy="141.2" r="3.5" fill="url(#atC2)"/><circle cx="80.4" cy="141.2" r="3.5" fill="url(#atC2)"/><circle cx="98.1" cy="141.2" r="3.5" fill="url(#atC2)"/><circle cx="133.5" cy="141.2" r="3.5" fill="url(#atC2)"/><circle cx="151.2" cy="141.2" r="3.5" fill="url(#atC2)"/><circle cx="0.75" cy="156.8" r="3.5" fill="url(#atC2)"/><circle cx="18.45" cy="156.8" r="3.5" fill="url(#atC2)"/><circle cx="53.85" cy="156.8" r="3.5" fill="url(#atC2)"/><circle cx="71.55" cy="156.8" r="3.5" fill="url(#atC2)"/><circle cx="106.95" cy="156.8" r="3.5" fill="url(#atC2)"/><circle cx="124.65" cy="156.8" r="3.5" fill="url(#atC2)"/><circle cx="160.05" cy="156.8" r="3.5" fill="url(#atC2)"/><ellipse cx="49" cy="50.5" rx="3.2" ry="2.6" transform="rotate(0 49 50.5)" fill="#8aee8a" stroke="#34b834" stroke-width="1.1"/><ellipse cx="20.2" cy="69" rx="2.8" ry="4.5" transform="rotate(0 20.2 69)" fill="#8aee8a" stroke="#34b834" stroke-width="1.1"/><ellipse cx="20.8" cy="86.3" rx="2.5" ry="3.2" transform="rotate(0 20.8 86.3)" fill="#8aee8a" stroke="#34b834" stroke-width="1.1"/><ellipse cx="20.3" cy="100.2" rx="2.6" ry="2" transform="rotate(0 20.3 100.2)" fill="#8aee8a" stroke="#34b834" stroke-width="1.1"/><ellipse cx="21.5" cy="115" rx="3" ry="4.5" transform="rotate(20 21.5 115)" fill="#8aee8a" stroke="#34b834" stroke-width="1.1"/><ellipse cx="52" cy="70" rx="2.5" ry="3.5" transform="rotate(0 52 70)" fill="#8aee8a" stroke="#34b834" stroke-width="1.1"/><ellipse cx="110" cy="70" rx="3" ry="3" transform="rotate(0 110 70)" fill="#8aee8a" stroke="#34b834" stroke-width="1.1"/><ellipse cx="116" cy="88" rx="3" ry="3.5" transform="rotate(0 116 88)" fill="#8aee8a" stroke="#34b834" stroke-width="1.1"/><ellipse cx="133" cy="60" rx="3" ry="3" transform="rotate(0 133 60)" fill="#8aee8a" stroke="#34b834" stroke-width="1.1"/><ellipse cx="137" cy="100" rx="3.2" ry="5" transform="rotate(0 137 100)" fill="#8aee8a" stroke="#34b834" stroke-width="1.1"/><ellipse cx="101" cy="33.5" rx="3" ry="2.5" transform="rotate(0 101 33.5)" fill="#8aee8a" stroke="#34b834" stroke-width="1.1"/><ellipse cx="112" cy="123" rx="3.5" ry="3" transform="rotate(0 112 123)" fill="#8aee8a" stroke="#34b834" stroke-width="1.1"/><ellipse cx="45" cy="102" rx="3" ry="2.5" transform="rotate(0 45 102)" fill="#8aee8a" stroke="#34b834" stroke-width="1.1"/><ellipse cx="104" cy="105" rx="3.5" ry="2.5" transform="rotate(0 104 105)" fill="#8aee8a" stroke="#34b834" stroke-width="1.1"/><ellipse cx="72" cy="100" rx="3" ry="2.5" transform="rotate(0 72 100)" fill="#8aee8a" stroke="#34b834" stroke-width="1.1"/><path d="M74.85 36.43Q84.99 33.17 95.27 37.23" fill="none" stroke="#34b834" stroke-width="6.2" stroke-linecap="round"/><path d="M74.85 36.43Q84.99 33.17 95.27 37.23" fill="none" stroke="#8aee8a" stroke-width="3.6" stroke-linecap="round"/><path d="M74.85 36.43Q84.99 33.17 95.27 37.23" fill="none" stroke="#b8f8b8" stroke-width="1.08" stroke-linecap="round" opacity="0.6"/><path d="M49.72 138.18Q63.48 130.78 77.39 138.65" fill="none" stroke="#34b834" stroke-width="6.2" stroke-linecap="round"/><path d="M49.72 138.18Q63.48 130.78 77.39 138.65" fill="none" stroke="#8aee8a" stroke-width="3.6" stroke-linecap="round"/><path d="M49.72 138.18Q63.48 130.78 77.39 138.65" fill="none" stroke="#b8f8b8" stroke-width="1.08" stroke-linecap="round" opacity="0.6"/><path d="M33.21 78.24Q37.49 66.57 49.7 63.27" fill="none" stroke="#34b834" stroke-width="11" stroke-linecap="round"/><path d="M33.21 78.24Q37.49 66.57 49.7 63.27" fill="none" stroke="#8aee8a" stroke-width="8.4" stroke-linecap="round"/><path d="M33.21 78.24Q37.49 66.57 49.7 63.27" fill="none" stroke="#b8f8b8" stroke-width="2.52" stroke-linecap="round" opacity="0.6"/><path d="M58.3 57.57Q63.5 50.73 74.44 50.06" fill="none" stroke="#34b834" stroke-width="11" stroke-linecap="round"/><path d="M58.3 57.57Q63.5 50.73 74.44 50.06" fill="none" stroke="#8aee8a" stroke-width="8.4" stroke-linecap="round"/><path d="M58.3 57.57Q63.5 50.73 74.44 50.06" fill="none" stroke="#b8f8b8" stroke-width="2.52" stroke-linecap="round" opacity="0.6"/><path d="M102.6 50.56Q113.08 53.56 118.97 60.59" fill="none" stroke="#34b834" stroke-width="11" stroke-linecap="round"/><path d="M102.6 50.56Q113.08 53.56 118.97 60.59" fill="none" stroke="#8aee8a" stroke-width="8.4" stroke-linecap="round"/><path d="M102.6 50.56Q113.08 53.56 118.97 60.59" fill="none" stroke="#b8f8b8" stroke-width="2.52" stroke-linecap="round" opacity="0.6"/><path d="M118.53 97.04Q115.78 107.77 103.73 110.68" fill="none" stroke="#34b834" stroke-width="11" stroke-linecap="round"/><path d="M118.53 97.04Q115.78 107.77 103.73 110.68" fill="none" stroke="#8aee8a" stroke-width="8.4" stroke-linecap="round"/><path d="M118.53 97.04Q115.78 107.77 103.73 110.68" fill="none" stroke="#b8f8b8" stroke-width="2.52" stroke-linecap="round" opacity="0.6"/><path d="M92.91 114.16Q89.08 122.4 77.66 122.63" fill="none" stroke="#34b834" stroke-width="11" stroke-linecap="round"/><path d="M92.91 114.16Q89.08 122.4 77.66 122.63" fill="none" stroke="#8aee8a" stroke-width="8.4" stroke-linecap="round"/><path d="M92.91 114.16Q89.08 122.4 77.66 122.63" fill="none" stroke="#b8f8b8" stroke-width="2.52" stroke-linecap="round" opacity="0.6"/><path d="M33.24 110.74Q36.28 121.83 50.73 123.62" fill="none" stroke="#34b834" stroke-width="11" stroke-linecap="round"/><path d="M33.24 110.74Q36.28 121.83 50.73 123.62" fill="none" stroke="#8aee8a" stroke-width="8.4" stroke-linecap="round"/><path d="M33.24 110.74Q36.28 121.83 50.73 123.62" fill="none" stroke="#b8f8b8" stroke-width="2.52" stroke-linecap="round" opacity="0.6"/><path d="M75 44 Q88 39 102 44 Q103 50 98 53 Q88 50 79 53 Q74 50 75 44Z" fill="url(#redg)" stroke="#bf1a1a" stroke-width="1.3"/><path d="M49.5 130 Q50 124 54 123 Q63 126 73 123 Q77.5 125 77 130 Q63 135.5 49.5 130Z" fill="url(#redg)" stroke="#bf1a1a" stroke-width="1.3"/><ellipse cx="26.5" cy="79.7" rx="4.4" ry="7.8" transform="rotate(8 26.5 79.7)" fill="url(#redg)" stroke="#bf1a1a" stroke-width="1.2"/><ellipse cx="20.6" cy="94.2" rx="4" ry="4" transform="rotate(0 20.6 94.2)" fill="url(#redg)" stroke="#bf1a1a" stroke-width="1.2"/><ellipse cx="131.2" cy="80.7" rx="5" ry="5" transform="rotate(0 131.2 80.7)" fill="url(#redg)" stroke="#bf1a1a" stroke-width="1.2"/><ellipse cx="124.4" cy="93.8" rx="3.7" ry="7.3" transform="rotate(12 124.4 93.8)" fill="url(#redg)" stroke="#bf1a1a" stroke-width="1.2"/><ellipse cx="44.7" cy="47.5" rx="3.6" ry="4.14" transform="rotate(0 44.7 47.5)" fill="url(#redg)" stroke="#bf1a1a" stroke-width="1.1"/><ellipse cx="53.5" cy="61.3" rx="3.6" ry="4.14" transform="rotate(0 53.5 61.3)" fill="url(#redg)" stroke="#bf1a1a" stroke-width="1.1"/><ellipse cx="27.2" cy="110.8" rx="3.8" ry="4.37" transform="rotate(0 27.2 110.8)" fill="url(#redg)" stroke="#bf1a1a" stroke-width="1.1"/><ellipse cx="106.2" cy="127.1" rx="3.6" ry="4.14" transform="rotate(0 106.2 127.1)" fill="url(#redg)" stroke="#bf1a1a" stroke-width="1.1"/><ellipse cx="98" cy="112" rx="3.6" ry="4.14" transform="rotate(0 98 112)" fill="url(#redg)" stroke="#bf1a1a" stroke-width="1.1"/><ellipse cx="97.9" cy="15.6" rx="3.4" ry="3.91" transform="rotate(0 97.9 15.6)" fill="url(#redg)" stroke="#bf1a1a" stroke-width="1.1"/><ellipse cx="110.5" cy="70.5" rx="3.2" ry="3.68" transform="rotate(0 110.5 70.5)" fill="url(#redg)" stroke="#bf1a1a" stroke-width="1.1"/><ellipse cx="54.2" cy="158.3" rx="3.5" ry="4.02" transform="rotate(0 54.2 158.3)" fill="url(#redg)" stroke="#bf1a1a" stroke-width="1.1"/><g transform="rotate(0 70.4 61.3)"><path d="M62.9 58.3 C64.4 54.3 69.4 56.3 70.4 58.8 C71.4 56.3 76.4 54.3 77.9 58.3 C78.9 64.3 73.4 67.3 70.4 64.3 C67.4 67.3 61.9 64.3 62.9 58.3Z" fill="url(#redg)" stroke="#bf1a1a" stroke-width="1.2"/><rect x="67.9" y="59.8" width="5" height="2.6" fill="#c8705a"/><circle cx="66.4" cy="60.8" r="2.3" fill="#d8b4d4"/><circle cx="74.4" cy="60.8" r="2.3" fill="#d8b4d4"/></g><g transform="rotate(-50 103.7 66.3)"><path d="M96.2 63.3 C97.7 59.3 102.7 61.3 103.7 63.8 C104.7 61.3 109.7 59.3 111.2 63.3 C112.2 69.3 106.7 72.3 103.7 69.3 C100.7 72.3 95.2 69.3 96.2 63.3Z" fill="url(#redg)" stroke="#bf1a1a" stroke-width="1.2"/><rect x="101.2" y="64.8" width="5" height="2.6" fill="#c8705a"/><circle cx="99.7" cy="65.8" r="2.3" fill="#d8b4d4"/><circle cx="107.7" cy="65.8" r="2.3" fill="#d8b4d4"/></g><g transform="rotate(35 47.2 76.9)"><path d="M39.7 73.9 C41.2 69.9 46.2 71.9 47.2 74.4 C48.2 71.9 53.2 69.9 54.7 73.9 C55.7 79.9 50.2 82.9 47.2 79.9 C44.2 82.9 38.7 79.9 39.7 73.9Z" fill="url(#redg)" stroke="#bf1a1a" stroke-width="1.2"/><rect x="44.7" y="75.4" width="5" height="2.6" fill="#c8705a"/><circle cx="43.2" cy="76.4" r="2.3" fill="#d8b4d4"/><circle cx="51.2" cy="76.4" r="2.3" fill="#d8b4d4"/></g><g transform="rotate(40 104.9 94.5)"><path d="M97.4 91.5 C98.9 87.5 103.9 89.5 104.9 92 C105.9 89.5 110.9 87.5 112.4 91.5 C113.4 97.5 107.9 100.5 104.9 97.5 C101.9 100.5 96.4 97.5 97.4 91.5Z" fill="url(#redg)" stroke="#bf1a1a" stroke-width="1.2"/><rect x="102.4" y="93" width="5" height="2.6" fill="#c8705a"/><circle cx="100.9" cy="94" r="2.3" fill="#d8b4d4"/><circle cx="108.9" cy="94" r="2.3" fill="#d8b4d4"/></g><g transform="rotate(-30 45.4 110.8)"><path d="M37.9 107.8 C39.4 103.8 44.4 105.8 45.4 108.3 C46.4 105.8 51.4 103.8 52.9 107.8 C53.9 113.8 48.4 116.8 45.4 113.8 C42.4 116.8 36.9 113.8 37.9 107.8Z" fill="url(#redg)" stroke="#bf1a1a" stroke-width="1.2"/><rect x="42.9" y="109.3" width="5" height="2.6" fill="#c8705a"/><circle cx="41.4" cy="110.3" r="2.3" fill="#d8b4d4"/><circle cx="49.4" cy="110.3" r="2.3" fill="#d8b4d4"/></g><g transform="rotate(0 79.2 110.8)"><path d="M71.7 107.8 C73.2 103.8 78.2 105.8 79.2 108.3 C80.2 105.8 85.2 103.8 86.7 107.8 C87.7 113.8 82.2 116.8 79.2 113.8 C76.2 116.8 70.7 113.8 71.7 107.8Z" fill="url(#redg)" stroke="#bf1a1a" stroke-width="1.2"/><rect x="76.7" y="109.3" width="5" height="2.6" fill="#c8705a"/><circle cx="75.2" cy="110.3" r="2.3" fill="#d8b4d4"/><circle cx="83.2" cy="110.3" r="2.3" fill="#d8b4d4"/></g><path d="M62 68 C70 62 82 62 90 68 C96 74 96 88 92 98 C88 106 76 106 68 102 C60 96 58 86 58 78 C58 72 60 70 62 68Z" fill="#8aee8a" stroke="#34b834" stroke-width="1.2"/><ellipse cx="75" cy="87.4" rx="3" ry="6.5" transform="rotate(25 75 87.4)" fill="url(#redg)" stroke="#bf1a1a" stroke-width="1.2"/><ellipse cx="64.4" cy="91.3" rx="5.8" ry="5.8" transform="rotate(0 64.4 91.3)" fill="#8a5a8a" stroke="#2a9a2a" stroke-width="1.8"/><ellipse cx="84.7" cy="80.6" rx="5.8" ry="5.8" transform="rotate(0 84.7 80.6)" fill="#8a5a8a" stroke="#2a9a2a" stroke-width="1.8"/><ellipse cx="64.4" cy="91.3" rx="2" ry="2" transform="rotate(0 64.4 91.3)" fill="#c060c0" stroke="#a040a0" stroke-width="0.4"/><ellipse cx="84.7" cy="80.6" rx="2" ry="2" transform="rotate(0 84.7 80.6)" fill="#c060c0" stroke="#a040a0" stroke-width="0.4"/></g><rect x="96.6" y="-1" width="62.6" height="25.6" fill="#fff"/><rect x="0.5" y="0.5" width="156.7" height="156.9" fill="none" stroke="#b8b8b8" stroke-width="1" stroke-dasharray="1.5 2"/></g>
<text x="695.73" y="774.4" font-size="14.8" fill="#000" text-anchor="start" font-weight="bold" textLength="50.01" lengthAdjust="spacingAndGlyphs">MnMn</text>
<g opacity="0.35"><text transform="translate(388.7 731.5) scale(1 -0.5)" x="0" y="0" font-size="33" font-weight="normal" stroke="#7030a0" stroke-width="1.1" fill="#7030a0" text-anchor="middle" textLength="591" lengthAdjust="spacingAndGlyphs">Charge Density Distribution of Dimers</text></g>
<rect x="85" y="733.5" width="610" height="12" fill="url(#reflg)"/>
<text x="91.12" y="729.8" font-size="33" fill="#7030a0" text-anchor="start" font-weight="normal" textLength="594.66" lengthAdjust="spacingAndGlyphs" stroke="#7030a0" stroke-width="1.1" stroke-linejoin="round">Charge Density Distribution of Dimers</text>
</svg></body></html>
